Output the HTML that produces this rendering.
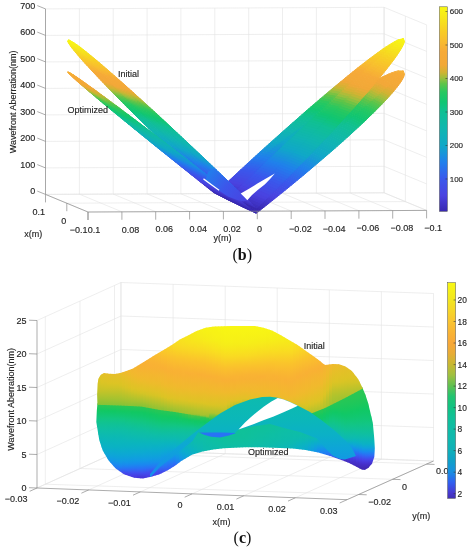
<!DOCTYPE html>
<html><head><meta charset="utf-8"><style>
html,body{margin:0;padding:0;background:#fff;}
svg{display:block;}
.g{stroke:#e3e3e3;stroke-width:0.6;}
.a{stroke:#8a8a8a;stroke-width:0.7;}
.cb{stroke:#333;stroke-width:0.6;}
.t{font-family:"Liberation Sans",Arial,sans-serif;fill:#262626;stroke:#262626;stroke-width:0.15;}
.lbl{font-family:"Liberation Serif","Times New Roman",serif;fill:#111;}
</style></head><body>
<svg width="470" height="550" viewBox="0 0 470 550">
<rect width="470" height="550" fill="#fff"/>
<line class="g" x1="45.5" y1="194.4" x2="384.1" y2="192.8"/>
<line class="g" x1="384.1" y1="192.8" x2="426.6" y2="210.4"/>
<line class="g" x1="45.5" y1="167.9" x2="384.1" y2="166.3"/>
<line class="g" x1="384.1" y1="166.3" x2="426.6" y2="183.9"/>
<line class="g" x1="45.5" y1="141.4" x2="384.1" y2="139.8"/>
<line class="g" x1="384.1" y1="139.8" x2="426.6" y2="157.4"/>
<line class="g" x1="45.5" y1="114.9" x2="384.1" y2="113.3"/>
<line class="g" x1="384.1" y1="113.3" x2="426.6" y2="130.9"/>
<line class="g" x1="45.5" y1="88.4" x2="384.1" y2="86.8"/>
<line class="g" x1="384.1" y1="86.8" x2="426.6" y2="104.4"/>
<line class="g" x1="45.5" y1="61.9" x2="384.1" y2="60.3"/>
<line class="g" x1="384.1" y1="60.3" x2="426.6" y2="77.9"/>
<line class="g" x1="45.5" y1="35.4" x2="384.1" y2="33.8"/>
<line class="g" x1="384.1" y1="33.8" x2="426.6" y2="51.4"/>
<line class="g" x1="45.5" y1="8.9" x2="384.1" y2="7.3"/>
<line class="g" x1="384.1" y1="7.3" x2="426.6" y2="24.9"/>
<line class="g" x1="45.5" y1="194.4" x2="45.5" y2="8.9"/>
<line class="g" x1="45.5" y1="194.4" x2="88" y2="212"/>
<line class="g" x1="79.4" y1="194.2" x2="79.4" y2="8.7"/>
<line class="g" x1="79.4" y1="194.2" x2="121.9" y2="211.8"/>
<line class="g" x1="113.2" y1="194.1" x2="113.2" y2="8.6"/>
<line class="g" x1="113.2" y1="194.1" x2="155.7" y2="211.7"/>
<line class="g" x1="147.1" y1="193.9" x2="147.1" y2="8.4"/>
<line class="g" x1="147.1" y1="193.9" x2="189.6" y2="211.5"/>
<line class="g" x1="180.9" y1="193.8" x2="180.9" y2="8.3"/>
<line class="g" x1="180.9" y1="193.8" x2="223.4" y2="211.4"/>
<line class="g" x1="214.8" y1="193.6" x2="214.8" y2="8.1"/>
<line class="g" x1="214.8" y1="193.6" x2="257.3" y2="211.2"/>
<line class="g" x1="248.7" y1="193.4" x2="248.7" y2="7.9"/>
<line class="g" x1="248.7" y1="193.4" x2="291.2" y2="211"/>
<line class="g" x1="282.5" y1="193.3" x2="282.5" y2="7.8"/>
<line class="g" x1="282.5" y1="193.3" x2="325" y2="210.9"/>
<line class="g" x1="316.4" y1="193.1" x2="316.4" y2="7.6"/>
<line class="g" x1="316.4" y1="193.1" x2="358.9" y2="210.7"/>
<line class="g" x1="350.2" y1="193" x2="350.2" y2="7.5"/>
<line class="g" x1="350.2" y1="193" x2="392.7" y2="210.6"/>
<line class="g" x1="384.1" y1="192.8" x2="384.1" y2="7.3"/>
<line class="g" x1="384.1" y1="192.8" x2="426.6" y2="210.4"/>
<line class="g" x1="384.1" y1="192.8" x2="384.1" y2="7.3"/>
<line class="g" x1="45.5" y1="194.4" x2="384.1" y2="192.8"/>
<line class="g" x1="405.4" y1="201.6" x2="405.4" y2="16.1"/>
<line class="g" x1="66.8" y1="203.2" x2="405.4" y2="201.6"/>
<line class="g" x1="426.6" y1="210.4" x2="426.6" y2="24.9"/>
<line class="g" x1="88" y1="212" x2="426.6" y2="210.4"/>
<g stroke-width="1.0" stroke-linejoin="round"><path d="M228.2 199.9L214.2 192.8L216.3 191.2L230.3 198.3Z" fill="#3829b1" stroke="#3829b1"/><path d="M230.3 198.3L216.3 191.2L218.4 189.5L232.4 196.6Z" fill="#3b2cb7" stroke="#3b2cb7"/><path d="M232.4 196.6L218.4 189.5L220.5 187.9L234.5 195.0Z" fill="#3d2fbe" stroke="#3d2fbe"/><path d="M234.5 195.0L220.5 187.9L222.6 186.2L236.6 193.3Z" fill="#4033c4" stroke="#4033c4"/><path d="M229.3 196.5L215.4 192.0L217.4 191.5L231.4 194.9Z" fill="#3b2cb8" stroke="#3b2cb8"/><path d="M231.4 194.9L217.4 191.5L219.5 189.5L233.5 192.9Z" fill="#3d2fbe" stroke="#3d2fbe"/><path d="M236.6 193.3L222.6 186.2L224.8 184.5L238.7 191.7Z" fill="#4236ca" stroke="#4236ca"/><path d="M228.2 199.9L214.2 192.8L212.1 191.3L226.1 198.3Z" fill="#3828b1" stroke="#3828b1"/><path d="M233.5 192.9L219.5 189.5L221.6 187.5L235.6 190.9Z" fill="#4034c5" stroke="#4034c5"/><path d="M238.7 191.7L224.8 184.5L226.9 182.9L240.8 190.0Z" fill="#443ad1" stroke="#443ad1"/><path d="M235.6 190.9L221.6 187.5L223.7 185.6L237.7 189.0Z" fill="#4338cd" stroke="#4338cd"/><path d="M240.8 190.0L226.9 182.9L229.0 181.2L242.9 188.4Z" fill="#473dd7" stroke="#473dd7"/><path d="M229.3 196.5L215.4 192.0L213.3 190.1L227.3 194.5Z" fill="#3c2dba" stroke="#3c2dba"/><path d="M237.7 189.0L223.7 185.6L225.8 183.6L239.8 187.0Z" fill="#463cd5" stroke="#463cd5"/><path d="M242.9 188.4L229.0 181.2L231.1 179.6L245.1 186.7Z" fill="#4941dd" stroke="#4941dd"/><path d="M245.1 186.7L231.1 179.6L233.3 177.9L247.2 185.1Z" fill="#4944e1" stroke="#4944e1"/><path d="M239.8 187.0L225.8 183.6L227.9 181.6L241.9 185.0Z" fill="#4940dc" stroke="#4940dc"/><path d="M226.1 198.3L212.1 191.3L210.1 189.6L224.1 196.7Z" fill="#3b2cb7" stroke="#3b2cb7"/><path d="M247.2 185.1L233.3 177.9L235.4 176.3L249.3 183.4Z" fill="#4746e2" stroke="#4746e2"/><path d="M241.9 185.0L227.9 181.6L230.0 179.7L244.0 183.0Z" fill="#4944e1" stroke="#4944e1"/><path d="M227.3 194.5L213.3 190.1L211.2 188.1L225.2 192.5Z" fill="#3f31c1" stroke="#3f31c1"/><path d="M249.3 183.4L235.4 176.3L237.5 174.7L251.4 181.8Z" fill="#4549e4" stroke="#4549e4"/><path d="M244.0 183.0L230.0 179.7L232.2 177.7L246.1 181.0Z" fill="#4647e3" stroke="#4647e3"/><path d="M251.4 181.8L237.5 174.7L239.7 173.0L253.5 180.1Z" fill="#434ce5" stroke="#434ce5"/><path d="M246.1 181.0L232.2 177.7L234.3 175.7L248.2 179.0Z" fill="#444ae4" stroke="#444ae4"/><path d="M224.1 196.7L210.1 189.6L208.0 188.0L222.0 195.0Z" fill="#3d2fbe" stroke="#3d2fbe"/><path d="M253.5 180.1L239.7 173.0L241.8 171.4L255.6 178.5Z" fill="#414fe7" stroke="#414fe7"/><path d="M248.2 179.0L234.3 175.7L236.4 173.8L250.3 177.0Z" fill="#424ee6" stroke="#424ee6"/><path d="M225.2 192.5L211.2 188.1L209.1 186.2L223.1 190.5Z" fill="#4136c9" stroke="#4136c9"/><path d="M255.6 178.5L241.8 171.4L243.9 169.7L257.7 176.8Z" fill="#3f51e8" stroke="#3f51e8"/><path d="M250.3 177.0L236.4 173.8L238.5 171.8L252.4 175.0Z" fill="#3f51e8" stroke="#3f51e8"/><path d="M222.0 195.0L208.0 188.0L205.9 186.3L219.9 193.4Z" fill="#3f33c4" stroke="#3f33c4"/><path d="M257.7 176.8L243.9 169.7L246.1 168.1L259.9 175.2Z" fill="#3d54ea" stroke="#3d54ea"/><path d="M252.4 175.0L238.5 171.8L240.6 169.8L254.5 173.0Z" fill="#3d54ea" stroke="#3d54ea"/><path d="M259.9 175.2L246.1 168.1L248.2 166.5L262.0 173.5Z" fill="#3b57eb" stroke="#3b57eb"/><path d="M223.1 190.5L209.1 186.2L207.0 184.2L221.0 188.5Z" fill="#443ad1" stroke="#443ad1"/><path d="M254.5 173.0L240.6 169.8L242.8 167.9L256.6 171.0Z" fill="#3a57ec" stroke="#3a57ec"/><path d="M219.9 193.4L205.9 186.3L203.9 184.7L217.8 191.8Z" fill="#4236ca" stroke="#4236ca"/><path d="M262.0 173.5L248.2 166.5L250.4 164.8L264.1 171.9Z" fill="#385bec" stroke="#385bec"/><path d="M256.6 171.0L242.8 167.9L244.9 165.9L258.7 169.0Z" fill="#375dec" stroke="#375dec"/><path d="M264.1 171.9L250.4 164.8L252.6 163.2L266.2 170.2Z" fill="#3560ec" stroke="#3560ec"/><path d="M221.0 188.5L207.0 184.2L204.9 182.3L218.9 186.6Z" fill="#473ed8" stroke="#473ed8"/><path d="M258.7 169.0L244.9 165.9L247.0 163.9L260.8 167.0Z" fill="#3363ec" stroke="#3363ec"/><path d="M217.8 191.8L203.9 184.7L201.8 183.0L215.8 190.1Z" fill="#443ad1" stroke="#443ad1"/><path d="M266.2 170.2L252.6 163.2L254.7 161.6L268.3 168.6Z" fill="#3265ec" stroke="#3265ec"/><path d="M260.8 167.0L247.0 163.9L249.2 162.0L262.9 165.0Z" fill="#2f69ec" stroke="#2f69ec"/><path d="M268.3 168.6L254.7 161.6L256.9 159.9L270.5 166.9Z" fill="#2f6aec" stroke="#2f6aec"/><path d="M218.9 186.6L204.9 182.3L202.8 180.3L216.8 184.6Z" fill="#4a42e0" stroke="#4a42e0"/><path d="M262.9 165.0L249.2 162.0L251.3 160.0L265.0 163.1Z" fill="#2b6fec" stroke="#2b6fec"/><path d="M215.8 190.1L201.8 183.0L199.7 181.4L213.7 188.5Z" fill="#473dd7" stroke="#473dd7"/><path d="M270.5 166.9L256.9 159.9L259.1 158.3L272.6 165.3Z" fill="#2b6fec" stroke="#2b6fec"/><path d="M265.0 163.1L251.3 160.0L253.5 158.0L267.1 161.1Z" fill="#2775ec" stroke="#2775ec"/><path d="M272.6 165.3L259.1 158.3L261.2 156.7L274.7 163.6Z" fill="#2874ec" stroke="#2874ec"/><path d="M216.8 184.6L202.8 180.3L200.8 178.4L214.7 182.6Z" fill="#4845e2" stroke="#4845e2"/><path d="M213.7 188.5L199.7 181.4L197.7 179.8L211.6 186.8Z" fill="#4941dd" stroke="#4941dd"/><path d="M267.1 161.1L253.5 158.0L255.6 156.1L269.2 159.1Z" fill="#237bec" stroke="#237bec"/><path d="M274.7 163.6L261.2 156.7L263.4 155.1L276.8 162.0Z" fill="#2579ec" stroke="#2579ec"/><path d="M269.2 159.1L255.6 156.1L257.8 154.1L271.3 157.1Z" fill="#2081eb" stroke="#2081eb"/><path d="M214.7 182.6L200.8 178.4L198.7 176.4L212.6 180.6Z" fill="#4549e4" stroke="#4549e4"/><path d="M211.6 186.8L197.7 179.8L195.6 178.1L209.5 185.2Z" fill="#4944e1" stroke="#4944e1"/><path d="M276.8 162.0L263.4 155.1L265.6 153.5L279.0 160.3Z" fill="#227dec" stroke="#227dec"/><path d="M271.3 157.1L257.8 154.1L259.9 152.1L273.4 155.1Z" fill="#1d87e6" stroke="#1d87e6"/><path d="M279.0 160.3L265.6 153.5L267.8 151.8L281.1 158.7Z" fill="#1f82ea" stroke="#1f82ea"/><path d="M212.6 180.6L198.7 176.4L196.6 174.5L210.5 178.7Z" fill="#434ce5" stroke="#434ce5"/><path d="M273.4 155.1L259.9 152.1L262.1 150.2L275.5 153.1Z" fill="#1b8de1" stroke="#1b8de1"/><path d="M209.5 185.2L195.6 178.1L193.6 176.5L207.5 183.6Z" fill="#4746e2" stroke="#4746e2"/><path d="M281.1 158.7L267.8 151.8L270.0 150.2L283.2 157.1Z" fill="#1d87e5" stroke="#1d87e5"/><path d="M275.5 153.1L262.1 150.2L264.2 148.2L277.7 151.1Z" fill="#1893db" stroke="#1893db"/><path d="M210.5 178.7L196.6 174.5L194.6 172.5L208.5 176.7Z" fill="#404fe7" stroke="#404fe7"/><path d="M207.5 183.6L193.6 176.5L191.5 174.9L205.4 181.9Z" fill="#4549e4" stroke="#4549e4"/><path d="M283.2 157.1L270.0 150.2L272.2 148.6L285.4 155.4Z" fill="#1b8ce1" stroke="#1b8ce1"/><path d="M277.7 151.1L264.2 148.2L266.4 146.3L279.8 149.1Z" fill="#1699d6" stroke="#1699d6"/><path d="M285.4 155.4L272.2 148.6L274.4 147.0L287.5 153.8Z" fill="#1991dc" stroke="#1991dc"/><path d="M279.8 149.1L266.4 146.3L268.6 144.3L281.9 147.1Z" fill="#149fd0" stroke="#149fd0"/><path d="M205.4 181.9L191.5 174.9L189.5 173.3L203.3 180.3Z" fill="#434ce5" stroke="#434ce5"/><path d="M208.5 176.7L194.6 172.5L192.5 170.6L206.4 174.7Z" fill="#3e52e9" stroke="#3e52e9"/><path d="M287.5 153.8L274.4 147.0L276.6 145.4L289.6 152.1Z" fill="#1796d8" stroke="#1796d8"/><path d="M281.9 147.1L268.6 144.3L270.8 142.3L284.0 145.1Z" fill="#11a5cb" stroke="#11a5cb"/><path d="M203.3 180.3L189.5 173.3L187.5 171.6L201.3 178.7Z" fill="#414fe7" stroke="#414fe7"/><path d="M206.4 174.7L192.5 170.6L190.4 168.6L204.3 172.7Z" fill="#3c56eb" stroke="#3c56eb"/><path d="M289.6 152.1L276.6 145.4L278.8 143.8L291.8 150.5Z" fill="#159bd3" stroke="#159bd3"/><path d="M284.0 145.1L270.8 142.3L272.9 140.4L286.1 143.2Z" fill="#10a9c6" stroke="#10a9c6"/><path d="M291.8 150.5L278.8 143.8L281.0 142.2L293.9 148.9Z" fill="#13a0cf" stroke="#13a0cf"/><path d="M201.3 178.7L187.5 171.6L185.4 170.0L199.2 177.0Z" fill="#3f51e8" stroke="#3f51e8"/><path d="M204.3 172.7L190.4 168.6L188.4 166.7L202.2 170.8Z" fill="#395aec" stroke="#395aec"/><path d="M286.1 143.2L272.9 140.4L275.1 138.4L288.2 141.2Z" fill="#10abc3" stroke="#10abc3"/><path d="M293.9 148.9L281.0 142.2L283.2 140.6L296.0 147.2Z" fill="#11a5cb" stroke="#11a5cb"/><path d="M288.2 141.2L275.1 138.4L277.3 136.5L290.4 139.2Z" fill="#10adbf" stroke="#10adbf"/><path d="M199.2 177.0L185.4 170.0L183.4 168.4L197.1 175.4Z" fill="#3d54ea" stroke="#3d54ea"/><path d="M202.2 170.8L188.4 166.7L186.3 164.7L200.1 168.8Z" fill="#3560ec" stroke="#3560ec"/><path d="M296.0 147.2L283.2 140.6L285.4 139.0L298.2 145.6Z" fill="#10a9c7" stroke="#10a9c7"/><path d="M290.4 139.2L277.3 136.5L279.5 134.5L292.5 137.2Z" fill="#10afbc" stroke="#10afbc"/><path d="M197.1 175.4L183.4 168.4L181.4 166.8L195.1 173.7Z" fill="#3b57eb" stroke="#3b57eb"/><path d="M200.1 168.8L186.3 164.7L184.3 162.8L198.1 166.8Z" fill="#3166ec" stroke="#3166ec"/><path d="M298.2 145.6L285.4 139.0L287.6 137.4L300.3 143.9Z" fill="#10aac4" stroke="#10aac4"/><path d="M292.5 137.2L279.5 134.5L281.7 132.5L294.6 135.2Z" fill="#10b1b8" stroke="#10b1b8"/><path d="M195.1 173.7L181.4 166.8L179.3 165.1L193.0 172.1Z" fill="#385bec" stroke="#385bec"/><path d="M300.3 143.9L287.6 137.4L289.8 135.8L302.5 142.3Z" fill="#10acc1" stroke="#10acc1"/><path d="M198.1 166.8L184.3 162.8L182.3 160.8L196.0 164.8Z" fill="#2d6cec" stroke="#2d6cec"/><path d="M294.6 135.2L281.7 132.5L283.9 130.6L296.7 133.2Z" fill="#10b3b4" stroke="#10b3b4"/><path d="M302.5 142.3L289.8 135.8L292.1 134.2L304.6 140.7Z" fill="#10aebe" stroke="#10aebe"/><path d="M193.0 172.1L179.3 165.1L177.3 163.5L191.0 170.5Z" fill="#3560ec" stroke="#3560ec"/><path d="M296.7 133.2L283.9 130.6L286.1 128.6L298.9 131.2Z" fill="#10b6b1" stroke="#10b6b1"/><path d="M196.0 164.8L182.3 160.8L180.2 158.9L193.9 162.9Z" fill="#2972ec" stroke="#2972ec"/><path d="M304.6 140.7L292.1 134.2L294.3 132.6L306.7 139.0Z" fill="#10b0bb" stroke="#10b0bb"/><path d="M298.9 131.2L286.1 128.6L288.3 126.7L301.0 129.2Z" fill="#10b7ad" stroke="#10b7ad"/><path d="M191.0 170.5L177.3 163.5L175.3 161.9L188.9 168.8Z" fill="#3265ec" stroke="#3265ec"/><path d="M193.9 162.9L180.2 158.9L178.2 156.9L191.8 160.9Z" fill="#2578ec" stroke="#2578ec"/><path d="M306.7 139.0L294.3 132.6L296.6 131.0L308.9 137.4Z" fill="#10b1b8" stroke="#10b1b8"/><path d="M301.0 129.2L288.3 126.7L290.5 124.7L303.1 127.3Z" fill="#10b9a8" stroke="#10b9a8"/><path d="M188.9 168.8L175.3 161.9L173.3 160.3L186.8 167.2Z" fill="#2e6aec" stroke="#2e6aec"/><path d="M191.8 160.9L178.2 156.9L176.1 155.0L189.7 158.9Z" fill="#217eec" stroke="#217eec"/><path d="M308.9 137.4L296.6 131.0L298.8 129.4L311.0 135.8Z" fill="#10b3b5" stroke="#10b3b5"/><path d="M303.1 127.3L290.5 124.7L292.7 122.8L305.2 125.3Z" fill="#10baa4" stroke="#10baa4"/><path d="M186.8 167.2L173.3 160.3L171.3 158.7L184.8 165.6Z" fill="#2b6fec" stroke="#2b6fec"/><path d="M311.0 135.8L298.8 129.4L301.1 127.8L313.2 134.1Z" fill="#10b5b2" stroke="#10b5b2"/><path d="M189.7 158.9L176.1 155.0L174.1 153.1L187.7 156.9Z" fill="#1f84e9" stroke="#1f84e9"/><path d="M305.2 125.3L292.7 122.8L295.0 120.8L307.4 123.3Z" fill="#10bca0" stroke="#10bca0"/><path d="M184.8 165.6L171.3 158.7L169.3 157.1L182.7 163.9Z" fill="#2874ec" stroke="#2874ec"/><path d="M313.2 134.1L301.1 127.8L303.3 126.3L315.3 132.5Z" fill="#10b6af" stroke="#10b6af"/><path d="M307.4 123.3L295.0 120.8L297.2 118.9L309.5 121.3Z" fill="#10bd9c" stroke="#10bd9c"/><path d="M187.7 156.9L174.1 153.1L172.1 151.1L185.6 155.0Z" fill="#1c8ae3" stroke="#1c8ae3"/><path d="M182.7 163.9L169.3 157.1L167.3 155.5L180.7 162.3Z" fill="#2579ec" stroke="#2579ec"/><path d="M315.3 132.5L303.3 126.3L305.6 124.7L317.5 130.9Z" fill="#10b8ab" stroke="#10b8ab"/><path d="M309.5 121.3L297.2 118.9L299.4 116.9L311.6 119.3Z" fill="#10bf97" stroke="#10bf97"/><path d="M185.6 155.0L172.1 151.1L170.1 149.2L183.5 153.0Z" fill="#1a90de" stroke="#1a90de"/><path d="M317.5 130.9L305.6 124.7L307.8 123.1L319.7 129.2Z" fill="#10b9a8" stroke="#10b9a8"/><path d="M180.7 162.3L167.3 155.5L165.3 153.9L178.6 160.7Z" fill="#217eec" stroke="#217eec"/><path d="M311.6 119.3L299.4 116.9L301.7 114.9L313.8 117.3Z" fill="#10c092" stroke="#10c092"/><path d="M183.5 153.0L170.1 149.2L168.1 147.2L181.5 151.0Z" fill="#1796d8" stroke="#1796d8"/><path d="M319.7 129.2L307.8 123.1L310.1 121.5L321.8 127.6Z" fill="#10baa4" stroke="#10baa4"/><path d="M313.8 117.3L301.7 114.9L303.9 113.0L315.9 115.3Z" fill="#10c28a" stroke="#10c28a"/><path d="M178.6 160.7L165.3 153.9L163.3 152.3L176.6 159.1Z" fill="#1f83ea" stroke="#1f83ea"/><path d="M181.5 151.0L168.1 147.2L166.0 145.3L179.4 149.1Z" fill="#159cd3" stroke="#159cd3"/><path d="M321.8 127.6L310.1 121.5L312.4 120.0L324.0 126.0Z" fill="#10bba1" stroke="#10bba1"/><path d="M315.9 115.3L303.9 113.0L306.1 111.0L318.1 113.4Z" fill="#10c381" stroke="#10c381"/><path d="M176.6 159.1L163.3 152.3L161.3 150.7L174.5 157.4Z" fill="#1d88e5" stroke="#1d88e5"/><path d="M179.4 149.1L166.0 145.3L164.0 143.4L177.3 147.1Z" fill="#13a2ce" stroke="#13a2ce"/><path d="M324.0 126.0L312.4 120.0L314.7 118.4L326.1 124.4Z" fill="#10bd9e" stroke="#10bd9e"/><path d="M318.1 113.4L306.1 111.0L308.4 109.1L320.2 111.4Z" fill="#10c579" stroke="#10c579"/><path d="M174.5 157.4L161.3 150.7L159.3 149.1L172.5 155.8Z" fill="#1b8de1" stroke="#1b8de1"/><path d="M177.3 147.1L164.0 143.4L162.0 141.4L175.3 145.1Z" fill="#10a8c8" stroke="#10a8c8"/><path d="M326.1 124.4L314.7 118.4L317.0 116.9L328.3 122.7Z" fill="#10be9a" stroke="#10be9a"/><path d="M320.2 111.4L308.4 109.1L310.7 107.1L322.3 109.4Z" fill="#11c671" stroke="#11c671"/><path d="M172.5 155.8L159.3 149.1L157.3 147.5L170.4 154.2Z" fill="#1992dc" stroke="#1992dc"/><path d="M175.3 145.1L162.0 141.4L160.0 139.5L173.2 143.1Z" fill="#10aac5" stroke="#10aac5"/><path d="M328.3 122.7L317.0 116.9L319.2 115.3L330.5 121.1Z" fill="#10bf97" stroke="#10bf97"/><path d="M322.3 109.4L310.7 107.1L312.9 105.2L324.5 107.4Z" fill="#17c76d" stroke="#17c76d"/><path d="M170.4 154.2L157.3 147.5L155.3 145.9L168.4 152.5Z" fill="#1797d8" stroke="#1797d8"/><path d="M173.2 143.1L160.0 139.5L158.0 137.5L171.1 141.2Z" fill="#10acc1" stroke="#10acc1"/><path d="M330.5 121.1L319.2 115.3L321.5 113.7L332.6 119.5Z" fill="#10c092" stroke="#10c092"/><path d="M324.5 107.4L312.9 105.2L315.2 103.2L326.6 105.4Z" fill="#1dc768" stroke="#1dc768"/><path d="M168.4 152.5L155.3 145.9L153.4 144.3L166.3 150.9Z" fill="#159cd3" stroke="#159cd3"/><path d="M171.1 141.2L158.0 137.5L156.0 135.6L169.1 139.2Z" fill="#10aebd" stroke="#10aebd"/><path d="M326.6 105.4L315.2 103.2L317.5 101.3L328.8 103.4Z" fill="#23c863" stroke="#23c863"/><path d="M332.6 119.5L321.5 113.7L323.9 112.2L334.8 117.9Z" fill="#10c28b" stroke="#10c28b"/><path d="M166.3 150.9L153.4 144.3L151.4 142.7L164.3 149.3Z" fill="#13a1cf" stroke="#13a1cf"/><path d="M328.8 103.4L317.5 101.3L319.7 99.3L330.9 101.5Z" fill="#2cc85e" stroke="#2cc85e"/><path d="M169.1 139.2L156.0 135.6L154.0 133.7L167.0 137.2Z" fill="#10b0ba" stroke="#10b0ba"/><path d="M334.8 117.9L323.9 112.2L326.2 110.6L337.0 116.3Z" fill="#10c384" stroke="#10c384"/><path d="M164.3 149.3L151.4 142.7L149.4 141.1L162.2 147.7Z" fill="#11a6ca" stroke="#11a6ca"/><path d="M330.9 101.5L319.7 99.3L322.0 97.4L333.1 99.5Z" fill="#3dc657" stroke="#3dc657"/><path d="M167.0 137.2L154.0 133.7L152.1 131.7L165.0 135.3Z" fill="#10b2b6" stroke="#10b2b6"/><path d="M337.0 116.3L326.2 110.6L328.5 109.1L339.2 114.6Z" fill="#10c47d" stroke="#10c47d"/><path d="M162.2 147.7L149.4 141.1L147.5 139.5L160.2 146.0Z" fill="#10a9c6" stroke="#10a9c6"/><path d="M333.1 99.5L322.0 97.4L324.3 95.4L335.2 97.5Z" fill="#4ec550" stroke="#4ec550"/><path d="M165.0 135.3L152.1 131.7L150.1 129.8L162.9 133.3Z" fill="#10b5b3" stroke="#10b5b3"/><path d="M339.2 114.6L328.5 109.1L330.8 107.6L341.3 113.0Z" fill="#10c576" stroke="#10c576"/><path d="M160.2 146.0L147.5 139.5L145.5 137.9L158.2 144.4Z" fill="#10abc3" stroke="#10abc3"/><path d="M335.2 97.5L324.3 95.4L326.6 93.5L337.4 95.5Z" fill="#5fc448" stroke="#5fc448"/><path d="M162.9 133.3L150.1 129.8L148.1 127.9L160.8 131.3Z" fill="#10b6af" stroke="#10b6af"/><path d="M341.3 113.0L330.8 107.6L333.2 106.0L343.5 111.4Z" fill="#12c671" stroke="#12c671"/><path d="M158.2 144.4L145.5 137.9L143.5 136.3L156.1 142.8Z" fill="#10acc0" stroke="#10acc0"/><path d="M337.4 95.5L326.6 93.5L328.9 91.5L339.6 93.5Z" fill="#7bc243" stroke="#7bc243"/><path d="M160.8 131.3L148.1 127.9L146.1 125.9L158.8 129.4Z" fill="#10b8ab" stroke="#10b8ab"/><path d="M343.5 111.4L333.2 106.0L335.5 104.5L345.7 109.8Z" fill="#17c76d" stroke="#17c76d"/><path d="M156.1 142.8L143.5 136.3L141.6 134.8L154.1 141.2Z" fill="#10aebd" stroke="#10aebd"/><path d="M339.6 93.5L328.9 91.5L331.2 89.6L341.7 91.5Z" fill="#97c03e" stroke="#97c03e"/><path d="M158.8 129.4L146.1 125.9L144.1 124.0L156.7 127.4Z" fill="#10b9a6" stroke="#10b9a6"/><path d="M345.7 109.8L335.5 104.5L337.9 103.0L347.9 108.2Z" fill="#1cc769" stroke="#1cc769"/><path d="M154.1 141.2L141.6 134.8L139.7 133.2L152.0 139.6Z" fill="#10b0bb" stroke="#10b0bb"/><path d="M341.7 91.5L331.2 89.6L333.6 87.6L343.9 89.6Z" fill="#afbb39" stroke="#afbb39"/><path d="M156.7 127.4L144.1 124.0L142.2 122.1L154.7 125.4Z" fill="#10bba2" stroke="#10bba2"/><path d="M347.9 108.2L337.9 103.0L340.2 101.4L350.1 106.6Z" fill="#21c766" stroke="#21c766"/><path d="M152.0 139.6L139.7 133.2L137.7 131.6L150.0 137.9Z" fill="#10b2b8" stroke="#10b2b8"/><path d="M154.7 125.4L142.2 122.1L140.2 120.1L152.6 123.5Z" fill="#10bc9e" stroke="#10bc9e"/><path d="M343.9 89.6L333.6 87.6L335.9 85.7L346.1 87.6Z" fill="#c7b634" stroke="#c7b634"/><path d="M150.0 137.9L137.7 131.6L135.8 130.0L148.0 136.3Z" fill="#10b3b5" stroke="#10b3b5"/><path d="M350.1 106.6L340.2 101.4L342.6 99.9L352.3 105.0Z" fill="#26c862" stroke="#26c862"/><path d="M152.6 123.5L140.2 120.1L138.3 118.2L150.6 121.5Z" fill="#10be9a" stroke="#10be9a"/><path d="M346.1 87.6L335.9 85.7L338.2 83.8L348.2 85.6Z" fill="#d7b133" stroke="#d7b133"/><path d="M148.0 136.3L135.8 130.0L133.8 128.5L145.9 134.7Z" fill="#10b5b2" stroke="#10b5b2"/><path d="M352.3 105.0L342.6 99.9L345.0 98.4L354.5 103.3Z" fill="#2fc85d" stroke="#2fc85d"/><path d="M150.6 121.5L138.3 118.2L136.3 116.3L148.5 119.5Z" fill="#10bf95" stroke="#10bf95"/><path d="M348.2 85.6L338.2 83.8L340.6 81.8L350.4 83.6Z" fill="#e3ad35" stroke="#e3ad35"/><path d="M145.9 134.7L133.8 128.5L131.9 126.9L143.9 133.1Z" fill="#10b7ae" stroke="#10b7ae"/><path d="M354.5 103.3L345.0 98.4L347.4 96.9L356.7 101.7Z" fill="#3dc757" stroke="#3dc757"/><path d="M148.5 119.5L136.3 116.3L134.4 114.4L146.5 117.6Z" fill="#10c18e" stroke="#10c18e"/><path d="M350.4 83.6L340.6 81.8L343.0 79.9L352.6 81.7Z" fill="#efa937" stroke="#efa937"/><path d="M143.9 133.1L131.9 126.9L130.0 125.3L141.9 131.5Z" fill="#10b8ab" stroke="#10b8ab"/><path d="M356.7 101.7L347.4 96.9L349.8 95.4L358.9 100.1Z" fill="#4ac651" stroke="#4ac651"/><path d="M146.5 117.6L134.4 114.4L132.4 112.4L144.5 115.6Z" fill="#10c286" stroke="#10c286"/><path d="M141.9 131.5L130.0 125.3L128.1 123.8L139.9 129.8Z" fill="#10b9a7" stroke="#10b9a7"/><path d="M352.6 81.7L343.0 79.9L345.3 77.9L354.8 79.7Z" fill="#f3a838" stroke="#f3a838"/><path d="M358.9 100.1L349.8 95.4L352.2 93.9L361.1 98.5Z" fill="#58c54b" stroke="#58c54b"/><path d="M144.5 115.6L132.4 112.4L130.5 110.5L142.4 113.6Z" fill="#10c47d" stroke="#10c47d"/><path d="M139.9 129.8L128.1 123.8L126.2 122.2L137.8 128.2Z" fill="#10baa4" stroke="#10baa4"/><path d="M354.8 79.7L345.3 77.9L347.7 76.0L356.9 77.7Z" fill="#f3a938" stroke="#f3a938"/><path d="M142.4 113.6L130.5 110.5L128.6 108.6L140.4 111.7Z" fill="#10c675" stroke="#10c675"/><path d="M361.1 98.5L352.2 93.9L354.6 92.4L363.3 96.9Z" fill="#6ac346" stroke="#6ac346"/><path d="M137.8 128.2L126.2 122.2L124.3 120.7L135.8 126.6Z" fill="#10bca0" stroke="#10bca0"/><path d="M356.9 77.7L347.7 76.0L350.1 74.1L359.1 75.7Z" fill="#f4a938" stroke="#f4a938"/><path d="M140.4 111.7L128.6 108.6L126.6 106.7L138.3 109.7Z" fill="#14c66f" stroke="#14c66f"/><path d="M135.8 126.6L124.3 120.7L122.4 119.1L133.8 125.0Z" fill="#10bd9d" stroke="#10bd9d"/><path d="M363.3 96.9L354.6 92.4L357.1 91.0L365.5 95.3Z" fill="#80c242" stroke="#80c242"/><path d="M359.1 75.7L350.1 74.1L352.5 72.1L361.3 73.7Z" fill="#f5a938" stroke="#f5a938"/><path d="M138.3 109.7L126.6 106.7L124.7 104.7L136.3 107.7Z" fill="#1ac76a" stroke="#1ac76a"/><path d="M133.8 125.0L122.4 119.1L120.5 117.6L131.8 123.4Z" fill="#10be9a" stroke="#10be9a"/><path d="M365.5 95.3L357.1 91.0L359.5 89.5L367.7 93.7Z" fill="#97c03e" stroke="#97c03e"/><path d="M361.3 73.7L352.5 72.1L354.9 70.2L363.5 71.8Z" fill="#f6aa38" stroke="#f6aa38"/><path d="M136.3 107.7L124.7 104.7L122.8 102.8L134.3 105.8Z" fill="#20c766" stroke="#20c766"/><path d="M131.8 123.4L120.5 117.6L118.6 116.0L129.8 121.8Z" fill="#10bf96" stroke="#10bf96"/><path d="M367.7 93.7L359.5 89.5L362.0 88.0L369.9 92.1Z" fill="#aabc3a" stroke="#aabc3a"/><path d="M134.3 105.8L122.8 102.8L120.9 100.9L132.2 103.8Z" fill="#26c861" stroke="#26c861"/><path d="M363.5 71.8L354.9 70.2L357.3 68.2L365.7 69.8Z" fill="#f6ac37" stroke="#f6ac37"/><path d="M129.8 121.8L118.6 116.0L116.7 114.5L127.8 120.2Z" fill="#10c191" stroke="#10c191"/><path d="M369.9 92.1L362.0 88.0L364.5 86.6L372.2 90.6Z" fill="#bdb836" stroke="#bdb836"/><path d="M132.2 103.8L120.9 100.9L119.0 99.0L130.2 101.9Z" fill="#34c75b" stroke="#34c75b"/><path d="M127.8 120.2L116.7 114.5L114.8 112.9L125.7 118.6Z" fill="#10c28a" stroke="#10c28a"/><path d="M365.7 69.8L357.3 68.2L359.8 66.3L367.9 67.8Z" fill="#f7b135" stroke="#f7b135"/><path d="M130.2 101.9L119.0 99.0L117.1 97.1L128.2 99.9Z" fill="#45c654" stroke="#45c654"/><path d="M125.7 118.6L114.8 112.9L113.0 111.4L123.7 117.0Z" fill="#10c383" stroke="#10c383"/><path d="M372.2 90.6L364.5 86.6L367.0 85.1L374.4 89.0Z" fill="#d0b432" stroke="#d0b432"/><path d="M367.9 67.8L359.8 66.3L362.2 64.4L370.1 65.8Z" fill="#f7b633" stroke="#f7b633"/><path d="M128.2 99.9L117.1 97.1L115.2 95.1L126.2 97.9Z" fill="#56c54c" stroke="#56c54c"/><path d="M123.7 117.0L113.0 111.4L111.1 109.9L121.7 115.3Z" fill="#10c47c" stroke="#10c47c"/><path d="M374.4 89.0L367.0 85.1L369.6 83.7L376.7 87.4Z" fill="#dab134" stroke="#dab134"/><path d="M370.1 65.8L362.2 64.4L364.7 62.5L372.4 63.9Z" fill="#f8ba31" stroke="#f8ba31"/><path d="M126.2 97.9L115.2 95.1L113.3 93.2L124.1 96.0Z" fill="#6bc346" stroke="#6bc346"/><path d="M121.7 115.3L111.1 109.9L109.3 108.3L119.7 113.7Z" fill="#10c575" stroke="#10c575"/><path d="M372.4 63.9L364.7 62.5L367.2 60.5L374.6 61.9Z" fill="#f8bf2e" stroke="#f8bf2e"/><path d="M376.7 87.4L369.6 83.7L372.1 82.3L378.9 85.8Z" fill="#e3ad35" stroke="#e3ad35"/><path d="M124.1 96.0L113.3 93.2L111.5 91.3L122.1 94.0Z" fill="#88c141" stroke="#88c141"/><path d="M119.7 113.7L109.3 108.3L107.4 106.8L117.7 112.1Z" fill="#13c670" stroke="#13c670"/><path d="M122.1 94.0L111.5 91.3L109.6 89.4L120.1 92.1Z" fill="#a2be3c" stroke="#a2be3c"/><path d="M117.7 112.1L107.4 106.8L105.6 105.3L115.7 110.5Z" fill="#18c76c" stroke="#18c76c"/><path d="M374.6 61.9L367.2 60.5L369.7 58.6L376.8 59.9Z" fill="#f8c32c" stroke="#f8c32c"/><path d="M378.9 85.8L372.1 82.3L374.7 80.9L381.2 84.2Z" fill="#ecaa37" stroke="#ecaa37"/><path d="M120.1 92.1L109.6 89.4L107.7 87.5L118.1 90.1Z" fill="#bab937" stroke="#bab937"/><path d="M115.7 110.5L105.6 105.3L103.7 103.8L113.7 108.9Z" fill="#1dc769" stroke="#1dc769"/><path d="M376.8 59.9L369.7 58.6L372.3 56.7L379.1 58.0Z" fill="#f8c729" stroke="#f8c729"/><path d="M381.2 84.2L374.7 80.9L377.3 79.5L383.4 82.7Z" fill="#f2a838" stroke="#f2a838"/><path d="M118.1 90.1L107.7 87.5L105.9 85.6L116.1 88.1Z" fill="#d1b432" stroke="#d1b432"/><path d="M113.7 108.9L103.7 103.8L101.9 102.3L111.7 107.3Z" fill="#22c765" stroke="#22c765"/><path d="M379.1 58.0L372.3 56.7L374.9 54.8L381.3 56.0Z" fill="#f8cb27" stroke="#f8cb27"/><path d="M116.1 88.1L105.9 85.6L104.0 83.6L114.0 86.2Z" fill="#dcb034" stroke="#dcb034"/><path d="M111.7 107.3L101.9 102.3L100.1 100.8L109.7 105.7Z" fill="#27c861" stroke="#27c861"/><path d="M383.4 82.7L377.3 79.5L380.0 78.1L385.7 81.1Z" fill="#f3a838" stroke="#f3a838"/><path d="M114.0 86.2L104.0 83.6L102.2 81.7L112.0 84.2Z" fill="#e8ab36" stroke="#e8ab36"/><path d="M109.7 105.7L100.1 100.8L98.3 99.3L107.8 104.1Z" fill="#32c75c" stroke="#32c75c"/><path d="M381.3 56.0L374.9 54.8L377.5 52.9L383.6 54.0Z" fill="#f8d024" stroke="#f8d024"/><path d="M385.7 81.1L380.0 78.1L382.7 76.8L388.0 79.6Z" fill="#f3a938" stroke="#f3a938"/><path d="M112.0 84.2L102.2 81.7L100.4 79.8L110.0 82.3Z" fill="#f2a838" stroke="#f2a838"/><path d="M107.8 104.1L98.3 99.3L96.5 97.8L105.8 102.6Z" fill="#40c656" stroke="#40c656"/><path d="M383.6 54.0L377.5 52.9L380.1 51.0L385.8 52.1Z" fill="#f7d522" stroke="#f7d522"/><path d="M110.0 82.3L100.4 79.8L98.6 77.9L108.0 80.3Z" fill="#f3a838" stroke="#f3a838"/><path d="M105.8 102.6L96.5 97.8L94.8 96.3L103.8 101.0Z" fill="#4dc550" stroke="#4dc550"/><path d="M388.0 79.6L382.7 76.8L385.5 75.5L390.4 78.0Z" fill="#f4a938" stroke="#f4a938"/><path d="M108.0 80.3L98.6 77.9L96.8 76.0L106.0 78.4Z" fill="#f4a938" stroke="#f4a938"/><path d="M103.8 101.0L94.8 96.3L93.0 94.8L101.8 99.4Z" fill="#5bc44a" stroke="#5bc44a"/><path d="M385.8 52.1L380.1 51.0L382.8 49.1L388.1 50.1Z" fill="#f7da20" stroke="#f7da20"/><path d="M106.0 78.4L96.8 76.0L95.0 74.1L104.0 76.4Z" fill="#f4a938" stroke="#f4a938"/><path d="M390.4 78.0L385.5 75.5L388.3 74.2L392.7 76.5Z" fill="#f5a938" stroke="#f5a938"/><path d="M101.8 99.4L93.0 94.8L91.2 93.3L99.8 97.8Z" fill="#6fc345" stroke="#6fc345"/><path d="M388.1 50.1L382.8 49.1L385.6 47.2L390.4 48.1Z" fill="#f6e01e" stroke="#f6e01e"/><path d="M104.0 76.4L95.0 74.1L93.2 72.2L102.1 74.5Z" fill="#f5aa38" stroke="#f5aa38"/><path d="M99.8 97.8L91.2 93.3L89.5 91.9L97.9 96.2Z" fill="#86c141" stroke="#86c141"/><path d="M102.1 74.5L93.2 72.2L91.4 70.3L100.1 72.5Z" fill="#f6aa38" stroke="#f6aa38"/><path d="M392.7 76.5L388.3 74.2L391.3 73.0L395.1 75.0Z" fill="#f5aa38" stroke="#f5aa38"/><path d="M97.9 96.2L89.5 91.9L87.8 90.4L95.9 94.6Z" fill="#9cbf3d" stroke="#9cbf3d"/><path d="M390.4 48.1L385.6 47.2L388.4 45.4L392.8 46.2Z" fill="#f6e41c" stroke="#f6e41c"/><path d="M100.1 72.5L91.4 70.3L89.7 68.4L98.1 70.5Z" fill="#f6ae36" stroke="#f6ae36"/><path d="M95.9 94.6L87.8 90.4L86.1 89.0L94.0 93.0Z" fill="#afbb39" stroke="#afbb39"/><path d="M98.1 70.5L89.7 68.4L88.0 66.5L96.1 68.6Z" fill="#f7b334" stroke="#f7b334"/><path d="M395.1 75.0L391.3 73.0L394.4 71.9L397.6 73.5Z" fill="#f6aa38" stroke="#f6aa38"/><path d="M392.8 46.2L388.4 45.4L391.4 43.5L395.2 44.2Z" fill="#f7e81a" stroke="#f7e81a"/><path d="M94.0 93.0L86.1 89.0L84.4 87.5L92.0 91.5Z" fill="#c2b735" stroke="#c2b735"/><path d="M96.1 68.6L88.0 66.5L86.2 64.7L94.1 66.6Z" fill="#f7b732" stroke="#f7b732"/><path d="M92.0 91.5L84.4 87.5L82.7 86.1L90.1 89.9Z" fill="#d3b332" stroke="#d3b332"/><path d="M94.1 66.6L86.2 64.7L84.5 62.8L92.2 64.7Z" fill="#f8bc30" stroke="#f8bc30"/><path d="M395.2 44.2L391.4 43.5L394.5 41.7L397.6 42.3Z" fill="#f7ed18" stroke="#f7ed18"/><path d="M90.1 89.9L82.7 86.1L81.1 84.7L88.1 88.3Z" fill="#dcb034" stroke="#dcb034"/><path d="M397.6 73.5L394.4 71.9L397.9 70.9L400.1 72.1Z" fill="#f6ad37" stroke="#f6ad37"/><path d="M92.2 64.7L84.5 62.8L82.8 60.9L90.2 62.8Z" fill="#f8c02d" stroke="#f8c02d"/><path d="M88.1 88.3L81.1 84.7L79.4 83.3L86.2 86.8Z" fill="#e6ac36" stroke="#e6ac36"/><path d="M90.2 62.8L82.8 60.9L81.2 59.0L88.3 60.8Z" fill="#f8c42b" stroke="#f8c42b"/><path d="M397.6 42.3L394.5 41.7L397.9 40.0L400.1 40.4Z" fill="#f7f115" stroke="#f7f115"/><path d="M86.2 86.8L79.4 83.3L77.9 81.9L84.3 85.2Z" fill="#efa937" stroke="#efa937"/><path d="M88.3 60.8L81.2 59.0L79.6 57.2L86.3 58.9Z" fill="#f8c828" stroke="#f8c828"/><path d="M84.3 85.2L77.9 81.9L76.3 80.5L82.4 83.6Z" fill="#f2a838" stroke="#f2a838"/><path d="M86.3 58.9L79.6 57.2L77.9 55.3L84.4 56.9Z" fill="#f8cc26" stroke="#f8cc26"/><path d="M82.4 83.6L76.3 80.5L74.8 79.2L80.5 82.1Z" fill="#f3a938" stroke="#f3a938"/><path d="M400.1 72.1L397.9 70.9L403.3 71.0L403.3 71.0Z" fill="#f7b035" stroke="#f7b035"/><path d="M84.4 56.9L77.9 55.3L76.4 53.4L82.5 55.0Z" fill="#f7d224" stroke="#f7d224"/><path d="M80.5 82.1L74.8 79.2L73.3 77.8L78.6 80.6Z" fill="#f4a938" stroke="#f4a938"/><path d="M82.5 55.0L76.4 53.4L74.8 51.6L80.6 53.1Z" fill="#f7d722" stroke="#f7d722"/><path d="M400.1 40.4L397.9 40.0L403.3 38.6L403.3 38.6Z" fill="#f8f613" stroke="#f8f613"/><path d="M242.2 206.7L228.2 199.9L230.3 198.3L244.3 205.1Z" fill="#3828b0" stroke="#3828b0"/><path d="M244.3 205.1L230.3 198.3L232.4 196.6L246.4 203.5Z" fill="#3929b3" stroke="#3929b3"/><path d="M246.4 203.5L232.4 196.6L234.5 195.0L248.5 201.8Z" fill="#3b2db9" stroke="#3b2db9"/><path d="M248.5 201.8L234.5 195.0L236.6 193.3L250.6 200.2Z" fill="#3e30bf" stroke="#3e30bf"/><path d="M250.6 200.2L236.6 193.3L238.7 191.7L252.7 198.5Z" fill="#4034c6" stroke="#4034c6"/><path d="M252.7 198.5L238.7 191.7L240.8 190.0L254.8 196.8Z" fill="#4337cc" stroke="#4337cc"/><path d="M254.8 196.8L240.8 190.0L242.9 188.4L256.9 195.2Z" fill="#453bd2" stroke="#453bd2"/><path d="M256.9 195.2L242.9 188.4L245.1 186.7L259.0 193.5Z" fill="#473ed9" stroke="#473ed9"/><path d="M259.0 193.5L245.1 186.7L247.2 185.1L261.1 191.9Z" fill="#4a42df" stroke="#4a42df"/><path d="M261.1 191.9L247.2 185.1L249.3 183.4L263.2 190.2Z" fill="#4844e1" stroke="#4844e1"/><path d="M263.2 190.2L249.3 183.4L251.4 181.8L265.3 188.6Z" fill="#4647e3" stroke="#4647e3"/><path d="M242.2 206.7L228.2 199.9L226.1 198.3L240.1 205.1Z" fill="#3828b0" stroke="#3828b0"/><path d="M265.3 188.6L251.4 181.8L253.5 180.1L267.3 186.9Z" fill="#444ae4" stroke="#444ae4"/><path d="M267.3 186.9L253.5 180.1L255.6 178.5L269.4 185.2Z" fill="#424de6" stroke="#424de6"/><path d="M269.4 185.2L255.6 178.5L257.7 176.8L271.5 183.6Z" fill="#404fe7" stroke="#404fe7"/><path d="M271.5 183.6L257.7 176.8L259.9 175.2L273.6 181.9Z" fill="#3e52e9" stroke="#3e52e9"/><path d="M273.6 181.9L259.9 175.2L262.0 173.5L275.7 180.3Z" fill="#3c55ea" stroke="#3c55ea"/><path d="M275.7 180.3L262.0 173.5L264.1 171.9L277.8 178.6Z" fill="#3a57ec" stroke="#3a57ec"/><path d="M277.8 178.6L264.1 171.9L266.2 170.2L279.9 176.9Z" fill="#375cec" stroke="#375cec"/><path d="M279.9 176.9L266.2 170.2L268.3 168.6L281.9 175.3Z" fill="#3461ec" stroke="#3461ec"/><path d="M281.9 175.3L268.3 168.6L270.5 166.9L284.0 173.6Z" fill="#3166ec" stroke="#3166ec"/><path d="M284.0 173.6L270.5 166.9L272.6 165.3L286.1 171.9Z" fill="#2e6bec" stroke="#2e6bec"/><path d="M286.1 171.9L272.6 165.3L274.7 163.6L288.2 170.3Z" fill="#2a70ec" stroke="#2a70ec"/><path d="M288.2 170.3L274.7 163.6L276.8 162.0L290.3 168.6Z" fill="#2775ec" stroke="#2775ec"/><path d="M290.3 168.6L276.8 162.0L279.0 160.3L292.3 166.9Z" fill="#247aec" stroke="#247aec"/><path d="M292.3 166.9L279.0 160.3L281.1 158.7L294.4 165.3Z" fill="#217fec" stroke="#217fec"/><path d="M78.6 80.6L73.3 77.8L71.9 76.5L76.8 79.0Z" fill="#f4a938" stroke="#f4a938"/><path d="M294.4 165.3L281.1 158.7L283.2 157.1L296.5 163.6Z" fill="#1f84e9" stroke="#1f84e9"/><path d="M243.3 201.7L229.3 196.5L231.4 194.9L245.4 199.7Z" fill="#3d2fbd" stroke="#3d2fbd"/><path d="M296.5 163.6L283.2 157.1L285.4 155.4L298.5 161.9Z" fill="#1d89e4" stroke="#1d89e4"/><path d="M298.5 161.9L285.4 155.4L287.5 153.8L300.6 160.3Z" fill="#1b8ee0" stroke="#1b8ee0"/><path d="M245.4 199.7L231.4 194.9L233.5 192.9L247.5 197.6Z" fill="#4033c4" stroke="#4033c4"/><path d="M300.6 160.3L287.5 153.8L289.6 152.1L302.7 158.6Z" fill="#1993db" stroke="#1993db"/><path d="M302.7 158.6L289.6 152.1L291.8 150.5L304.7 156.9Z" fill="#1798d7" stroke="#1798d7"/><path d="M304.7 156.9L291.8 150.5L293.9 148.9L306.8 155.3Z" fill="#159dd2" stroke="#159dd2"/><path d="M306.8 155.3L293.9 148.9L296.0 147.2L308.9 153.6Z" fill="#13a2ce" stroke="#13a2ce"/><path d="M247.5 197.6L233.5 192.9L235.6 190.9L249.6 195.6Z" fill="#4337cc" stroke="#4337cc"/><path d="M308.9 153.6L296.0 147.2L298.2 145.6L310.9 151.9Z" fill="#11a6c9" stroke="#11a6c9"/><path d="M310.9 151.9L298.2 145.6L300.3 143.9L313.0 150.3Z" fill="#10a9c6" stroke="#10a9c6"/><path d="M240.1 205.1L226.1 198.3L224.1 196.7L238.0 203.5Z" fill="#392ab3" stroke="#392ab3"/><path d="M313.0 150.3L300.3 143.9L302.5 142.3L315.1 148.6Z" fill="#10abc3" stroke="#10abc3"/><path d="M315.1 148.6L302.5 142.3L304.6 140.7L317.1 146.9Z" fill="#10adc0" stroke="#10adc0"/><path d="M249.6 195.6L235.6 190.9L237.7 189.0L251.7 193.6Z" fill="#453bd4" stroke="#453bd4"/><path d="M243.3 201.7L229.3 196.5L227.3 194.5L241.2 200.2Z" fill="#3d2fbd" stroke="#3d2fbd"/><path d="M317.1 146.9L304.6 140.7L306.7 139.0L319.2 145.2Z" fill="#10aebd" stroke="#10aebd"/><path d="M319.2 145.2L306.7 139.0L308.9 137.4L321.2 143.6Z" fill="#10b0ba" stroke="#10b0ba"/><path d="M321.2 143.6L308.9 137.4L311.0 135.8L323.3 141.9Z" fill="#10b2b7" stroke="#10b2b7"/><path d="M251.7 193.6L237.7 189.0L239.8 187.0L253.8 191.6Z" fill="#4840db" stroke="#4840db"/><path d="M323.3 141.9L311.0 135.8L313.2 134.1L325.3 140.2Z" fill="#10b4b4" stroke="#10b4b4"/><path d="M325.3 140.2L313.2 134.1L315.3 132.5L327.4 138.5Z" fill="#10b5b1" stroke="#10b5b1"/><path d="M327.4 138.5L315.3 132.5L317.5 130.9L329.4 136.8Z" fill="#10b7ae" stroke="#10b7ae"/><path d="M329.4 136.8L317.5 130.9L319.7 129.2L331.5 135.2Z" fill="#10b8aa" stroke="#10b8aa"/><path d="M253.8 191.6L239.8 187.0L241.9 185.0L255.8 189.6Z" fill="#4943e1" stroke="#4943e1"/><path d="M331.5 135.2L319.7 129.2L321.8 127.6L333.5 133.5Z" fill="#10b9a7" stroke="#10b9a7"/><path d="M333.5 133.5L321.8 127.6L324.0 126.0L335.6 131.8Z" fill="#10bba3" stroke="#10bba3"/><path d="M335.6 131.8L324.0 126.0L326.1 124.4L337.6 130.1Z" fill="#10bca0" stroke="#10bca0"/><path d="M255.8 189.6L241.9 185.0L244.0 183.0L257.9 187.6Z" fill="#4747e3" stroke="#4747e3"/><path d="M337.6 130.1L326.1 124.4L328.3 122.7L339.6 128.4Z" fill="#10bd9c" stroke="#10bd9c"/><path d="M339.6 128.4L328.3 122.7L330.5 121.1L341.7 126.7Z" fill="#10be99" stroke="#10be99"/><path d="M341.7 126.7L330.5 121.1L332.6 119.5L343.7 125.1Z" fill="#10bf95" stroke="#10bf95"/><path d="M343.7 125.1L332.6 119.5L334.8 117.9L345.8 123.4Z" fill="#10c190" stroke="#10c190"/><path d="M257.9 187.6L244.0 183.0L246.1 181.0L260.0 185.5Z" fill="#444ae4" stroke="#444ae4"/><path d="M345.8 123.4L334.8 117.9L337.0 116.3L347.8 121.7Z" fill="#10c289" stroke="#10c289"/><path d="M347.8 121.7L337.0 116.3L339.2 114.6L349.8 120.0Z" fill="#10c382" stroke="#10c382"/><path d="M349.8 120.0L339.2 114.6L341.3 113.0L351.8 118.3Z" fill="#10c47b" stroke="#10c47b"/><path d="M351.8 118.3L341.3 113.0L343.5 111.4L353.9 116.6Z" fill="#10c674" stroke="#10c674"/><path d="M260.0 185.5L246.1 181.0L248.2 179.0L262.1 183.5Z" fill="#424de6" stroke="#424de6"/><path d="M353.9 116.6L343.5 111.4L345.7 109.8L355.9 114.9Z" fill="#14c66f" stroke="#14c66f"/><path d="M355.9 114.9L345.7 109.8L347.9 108.2L357.9 113.2Z" fill="#19c76b" stroke="#19c76b"/><path d="M238.0 203.5L224.1 196.7L222.0 195.0L236.0 201.8Z" fill="#3b2db9" stroke="#3b2db9"/><path d="M357.9 113.2L347.9 108.2L350.1 106.6L359.9 111.5Z" fill="#1ec768" stroke="#1ec768"/><path d="M262.1 183.5L248.2 179.0L250.3 177.0L264.2 181.5Z" fill="#3f51e8" stroke="#3f51e8"/><path d="M359.9 111.5L350.1 106.6L352.3 105.0L361.9 109.8Z" fill="#23c864" stroke="#23c864"/><path d="M361.9 109.8L352.3 105.0L354.5 103.3L363.9 108.1Z" fill="#28c860" stroke="#28c860"/><path d="M363.9 108.1L354.5 103.3L356.7 101.7L365.9 106.4Z" fill="#35c75b" stroke="#35c75b"/><path d="M365.9 106.4L356.7 101.7L358.9 100.1L367.9 104.7Z" fill="#43c655" stroke="#43c655"/><path d="M241.2 200.2L227.3 194.5L225.2 192.5L239.2 198.2Z" fill="#4033c4" stroke="#4033c4"/><path d="M264.2 181.5L250.3 177.0L252.4 175.0L266.2 179.5Z" fill="#3d54ea" stroke="#3d54ea"/><path d="M80.6 53.1L74.8 51.6L73.4 49.8L78.7 51.1Z" fill="#f6dc20" stroke="#f6dc20"/><path d="M367.9 104.7L358.9 100.1L361.1 98.5L369.9 103.0Z" fill="#51c54f" stroke="#51c54f"/><path d="M369.9 103.0L361.1 98.5L363.3 96.9L371.9 101.3Z" fill="#5ec449" stroke="#5ec449"/><path d="M371.9 101.3L363.3 96.9L365.5 95.3L373.9 99.6Z" fill="#75c344" stroke="#75c344"/><path d="M266.2 179.5L252.4 175.0L254.5 173.0L268.3 177.4Z" fill="#3b57ec" stroke="#3b57ec"/><path d="M373.9 99.6L365.5 95.3L367.7 93.7L375.9 97.9Z" fill="#8cc140" stroke="#8cc140"/><path d="M375.9 97.9L367.7 93.7L369.9 92.1L377.9 96.2Z" fill="#a1be3c" stroke="#a1be3c"/><path d="M377.9 96.2L369.9 92.1L372.2 90.6L379.8 94.4Z" fill="#b4ba38" stroke="#b4ba38"/><path d="M379.8 94.4L372.2 90.6L374.4 89.0L381.8 92.7Z" fill="#c8b634" stroke="#c8b634"/><path d="M268.3 177.4L254.5 173.0L256.6 171.0L270.4 175.4Z" fill="#375dec" stroke="#375dec"/><path d="M381.8 92.7L374.4 89.0L376.7 87.4L383.8 91.0Z" fill="#d5b233" stroke="#d5b233"/><path d="M383.8 91.0L376.7 87.4L378.9 85.8L385.7 89.3Z" fill="#dfaf35" stroke="#dfaf35"/><path d="M385.7 89.3L378.9 85.8L381.2 84.2L387.6 87.5Z" fill="#e9ab36" stroke="#e9ab36"/><path d="M387.6 87.5L381.2 84.2L383.4 82.7L389.6 85.8Z" fill="#f2a838" stroke="#f2a838"/><path d="M270.4 175.4L256.6 171.0L258.7 169.0L272.5 173.4Z" fill="#3363ec" stroke="#3363ec"/><path d="M389.6 85.8L383.4 82.7L385.7 81.1L391.5 84.0Z" fill="#f3a838" stroke="#f3a838"/><path d="M391.5 84.0L385.7 81.1L388.0 79.6L393.4 82.3Z" fill="#f3a938" stroke="#f3a938"/><path d="M393.4 82.3L388.0 79.6L390.4 78.0L395.3 80.5Z" fill="#f4a938" stroke="#f4a938"/><path d="M272.5 173.4L258.7 169.0L260.8 167.0L274.5 171.4Z" fill="#2f69ec" stroke="#2f69ec"/><path d="M395.3 80.5L390.4 78.0L392.7 76.5L397.1 78.7Z" fill="#f4a938" stroke="#f4a938"/><path d="M397.1 78.7L392.7 76.5L395.1 75.0L398.9 76.9Z" fill="#f5aa38" stroke="#f5aa38"/><path d="M398.9 76.9L395.1 75.0L397.6 73.5L400.7 75.1Z" fill="#f6aa38" stroke="#f6aa38"/><path d="M400.7 75.1L397.6 73.5L400.1 72.1L402.3 73.2Z" fill="#f6ac37" stroke="#f6ac37"/><path d="M236.0 201.8L222.0 195.0L219.9 193.4L233.9 200.2Z" fill="#3e30c0" stroke="#3e30c0"/><path d="M274.5 171.4L260.8 167.0L262.9 165.0L276.6 169.3Z" fill="#2b6fec" stroke="#2b6fec"/><path d="M402.3 73.2L400.1 72.1L403.3 71.0L403.3 71.0Z" fill="#f7b035" stroke="#f7b035"/><path d="M276.6 169.3L262.9 165.0L265.0 163.1L278.7 167.3Z" fill="#2775ec" stroke="#2775ec"/><path d="M239.2 198.2L225.2 192.5L223.1 190.5L237.1 196.2Z" fill="#4337cc" stroke="#4337cc"/><path d="M278.7 167.3L265.0 163.1L267.1 161.1L280.7 165.3Z" fill="#237bec" stroke="#237bec"/><path d="M280.7 165.3L267.1 161.1L269.2 159.1L282.8 163.3Z" fill="#2081eb" stroke="#2081eb"/><path d="M282.8 163.3L269.2 159.1L271.3 157.1L284.9 161.3Z" fill="#1d87e6" stroke="#1d87e6"/><path d="M284.9 161.3L271.3 157.1L273.4 155.1L286.9 159.2Z" fill="#1b8de0" stroke="#1b8de0"/><path d="M286.9 159.2L273.4 155.1L275.5 153.1L289.0 157.2Z" fill="#1893db" stroke="#1893db"/><path d="M233.9 200.2L219.9 193.4L217.8 191.8L231.8 198.5Z" fill="#4034c6" stroke="#4034c6"/><path d="M289.0 157.2L275.5 153.1L277.7 151.1L291.1 155.2Z" fill="#1699d6" stroke="#1699d6"/><path d="M291.1 155.2L277.7 151.1L279.8 149.1L293.1 153.1Z" fill="#149fd0" stroke="#149fd0"/><path d="M237.1 196.2L223.1 190.5L221.0 188.5L235.0 194.2Z" fill="#453bd4" stroke="#453bd4"/><path d="M293.1 153.1L279.8 149.1L281.9 147.1L295.2 151.1Z" fill="#11a5cb" stroke="#11a5cb"/><path d="M295.2 151.1L281.9 147.1L284.0 145.1L297.2 149.1Z" fill="#10a9c6" stroke="#10a9c6"/><path d="M297.2 149.1L284.0 145.1L286.1 143.2L299.3 147.1Z" fill="#10abc3" stroke="#10abc3"/><path d="M299.3 147.1L286.1 143.2L288.2 141.2L301.3 145.0Z" fill="#10adbf" stroke="#10adbf"/><path d="M231.8 198.5L217.8 191.8L215.8 190.1L229.7 196.9Z" fill="#4337cc" stroke="#4337cc"/><path d="M301.3 145.0L288.2 141.2L290.4 139.2L303.4 143.0Z" fill="#10afbb" stroke="#10afbb"/><path d="M303.4 143.0L290.4 139.2L292.5 137.2L305.4 141.0Z" fill="#10b2b8" stroke="#10b2b8"/><path d="M305.4 141.0L292.5 137.2L294.6 135.2L307.5 139.0Z" fill="#10b4b4" stroke="#10b4b4"/><path d="M235.0 194.2L221.0 188.5L218.9 186.6L232.9 192.2Z" fill="#4840dc" stroke="#4840dc"/><path d="M307.5 139.0L294.6 135.2L296.7 133.2L309.5 136.9Z" fill="#10b6b0" stroke="#10b6b0"/><path d="M309.5 136.9L296.7 133.2L298.9 131.2L311.6 134.9Z" fill="#10b7ac" stroke="#10b7ac"/><path d="M311.6 134.9L298.9 131.2L301.0 129.2L313.6 132.9Z" fill="#10b9a8" stroke="#10b9a8"/><path d="M229.7 196.9L215.8 190.1L213.7 188.5L227.6 195.3Z" fill="#453bd3" stroke="#453bd3"/><path d="M313.6 132.9L301.0 129.2L303.1 127.3L315.7 130.8Z" fill="#10baa4" stroke="#10baa4"/><path d="M315.7 130.8L303.1 127.3L305.2 125.3L317.7 128.8Z" fill="#10bca0" stroke="#10bca0"/><path d="M317.7 128.8L305.2 125.3L307.4 123.3L319.8 126.8Z" fill="#10bd9b" stroke="#10bd9b"/><path d="M319.8 126.8L307.4 123.3L309.5 121.3L321.8 124.7Z" fill="#10bf97" stroke="#10bf97"/><path d="M232.9 192.2L218.9 186.6L216.8 184.6L230.8 190.2Z" fill="#4943e1" stroke="#4943e1"/><path d="M321.8 124.7L309.5 121.3L311.6 119.3L323.9 122.7Z" fill="#10c092" stroke="#10c092"/><path d="M323.9 122.7L311.6 119.3L313.8 117.3L325.9 120.7Z" fill="#10c289" stroke="#10c289"/><path d="M227.6 195.3L213.7 188.5L211.6 186.8L225.5 193.6Z" fill="#473ed9" stroke="#473ed9"/><path d="M325.9 120.7L313.8 117.3L315.9 115.3L327.9 118.6Z" fill="#10c381" stroke="#10c381"/><path d="M327.9 118.6L315.9 115.3L318.1 113.4L330.0 116.6Z" fill="#10c578" stroke="#10c578"/><path d="M330.0 116.6L318.1 113.4L320.2 111.4L332.0 114.6Z" fill="#12c671" stroke="#12c671"/><path d="M332.0 114.6L320.2 111.4L322.3 109.4L334.0 112.5Z" fill="#18c76c" stroke="#18c76c"/><path d="M334.0 112.5L322.3 109.4L324.5 107.4L336.1 110.5Z" fill="#1ec768" stroke="#1ec768"/><path d="M230.8 190.2L216.8 184.6L214.7 182.6L228.7 188.1Z" fill="#4747e3" stroke="#4747e3"/><path d="M336.1 110.5L324.5 107.4L326.6 105.4L338.1 108.5Z" fill="#24c863" stroke="#24c863"/><path d="M338.1 108.5L326.6 105.4L328.8 103.4L340.1 106.4Z" fill="#2dc85e" stroke="#2dc85e"/><path d="M225.5 193.6L211.6 186.8L209.5 185.2L223.4 192.0Z" fill="#4a42df" stroke="#4a42df"/><path d="M340.1 106.4L328.8 103.4L330.9 101.5L342.1 104.4Z" fill="#3ec657" stroke="#3ec657"/><path d="M342.1 104.4L330.9 101.5L333.1 99.5L344.1 102.4Z" fill="#4fc54f" stroke="#4fc54f"/><path d="M76.8 79.0L71.9 76.5L70.6 75.3L74.9 77.5Z" fill="#f5a938" stroke="#f5a938"/><path d="M344.1 102.4L333.1 99.5L335.2 97.5L346.2 100.3Z" fill="#60c448" stroke="#60c448"/><path d="M346.2 100.3L335.2 97.5L337.4 95.5L348.2 98.3Z" fill="#7cc243" stroke="#7cc243"/><path d="M348.2 98.3L337.4 95.5L339.6 93.5L350.2 96.3Z" fill="#98c03e" stroke="#98c03e"/><path d="M228.7 188.1L214.7 182.6L212.6 180.6L226.6 186.1Z" fill="#444ae4" stroke="#444ae4"/><path d="M350.2 96.3L339.6 93.5L341.7 91.5L352.2 94.2Z" fill="#afbb39" stroke="#afbb39"/><path d="M223.4 192.0L209.5 185.2L207.5 183.6L221.3 190.3Z" fill="#4844e1" stroke="#4844e1"/><path d="M352.2 94.2L341.7 91.5L343.9 89.6L354.2 92.2Z" fill="#c7b634" stroke="#c7b634"/><path d="M354.2 92.2L343.9 89.6L346.1 87.6L356.2 90.2Z" fill="#d7b133" stroke="#d7b133"/><path d="M356.2 90.2L346.1 87.6L348.2 85.6L358.2 88.1Z" fill="#e3ad35" stroke="#e3ad35"/><path d="M78.7 51.1L73.4 49.8L71.9 48.0L76.8 49.2Z" fill="#f6e11e" stroke="#f6e11e"/><path d="M358.2 88.1L348.2 85.6L350.4 83.6L360.2 86.1Z" fill="#eea937" stroke="#eea937"/><path d="M360.2 86.1L350.4 83.6L352.6 81.7L362.2 84.0Z" fill="#f3a838" stroke="#f3a838"/><path d="M362.2 84.0L352.6 81.7L354.8 79.7L364.2 82.0Z" fill="#f3a938" stroke="#f3a938"/><path d="M226.6 186.1L212.6 180.6L210.5 178.7L224.5 184.1Z" fill="#424de6" stroke="#424de6"/><path d="M221.3 190.3L207.5 183.6L205.4 181.9L219.3 188.7Z" fill="#4647e3" stroke="#4647e3"/><path d="M364.2 82.0L354.8 79.7L356.9 77.7L366.2 80.0Z" fill="#f4a938" stroke="#f4a938"/><path d="M366.2 80.0L356.9 77.7L359.1 75.7L368.2 77.9Z" fill="#f5a938" stroke="#f5a938"/><path d="M368.2 77.9L359.1 75.7L361.3 73.7L370.2 75.9Z" fill="#f6aa38" stroke="#f6aa38"/><path d="M370.2 75.9L361.3 73.7L363.5 71.8L372.1 73.8Z" fill="#f6ac37" stroke="#f6ac37"/><path d="M372.1 73.8L363.5 71.8L365.7 69.8L374.1 71.8Z" fill="#f7b035" stroke="#f7b035"/><path d="M374.1 71.8L365.7 69.8L367.9 67.8L376.1 69.7Z" fill="#f7b533" stroke="#f7b533"/><path d="M219.3 188.7L205.4 181.9L203.3 180.3L217.2 187.0Z" fill="#444ae4" stroke="#444ae4"/><path d="M376.1 69.7L367.9 67.8L370.1 65.8L378.1 67.7Z" fill="#f8b931" stroke="#f8b931"/><path d="M224.5 184.1L210.5 178.7L208.5 176.7L222.3 182.1Z" fill="#3f51e8" stroke="#3f51e8"/><path d="M378.1 67.7L370.1 65.8L372.4 63.9L380.0 65.7Z" fill="#f8be2f" stroke="#f8be2f"/><path d="M380.0 65.7L372.4 63.9L374.6 61.9L382.0 63.6Z" fill="#f8c22c" stroke="#f8c22c"/><path d="M382.0 63.6L374.6 61.9L376.8 59.9L383.9 61.6Z" fill="#f8c62a" stroke="#f8c62a"/><path d="M383.9 61.6L376.8 59.9L379.1 58.0L385.8 59.5Z" fill="#f8ca27" stroke="#f8ca27"/><path d="M385.8 59.5L379.1 58.0L381.3 56.0L387.8 57.5Z" fill="#f8ce25" stroke="#f8ce25"/><path d="M387.8 57.5L381.3 56.0L383.6 54.0L389.7 55.4Z" fill="#f7d323" stroke="#f7d323"/><path d="M217.2 187.0L203.3 180.3L201.3 178.7L215.1 185.4Z" fill="#424de6" stroke="#424de6"/><path d="M389.7 55.4L383.6 54.0L385.8 52.1L391.6 53.3Z" fill="#f7d821" stroke="#f7d821"/><path d="M222.3 182.1L208.5 176.7L206.4 174.7L220.2 180.1Z" fill="#3d54ea" stroke="#3d54ea"/><path d="M391.6 53.3L385.8 52.1L388.1 50.1L393.5 51.3Z" fill="#f6dd1f" stroke="#f6dd1f"/><path d="M393.5 51.3L388.1 50.1L390.4 48.1L395.3 49.2Z" fill="#f6e21d" stroke="#f6e21d"/><path d="M395.3 49.2L390.4 48.1L392.8 46.2L397.2 47.1Z" fill="#f7e61b" stroke="#f7e61b"/><path d="M397.2 47.1L392.8 46.2L395.2 44.2L399.0 45.1Z" fill="#f7ea19" stroke="#f7ea19"/><path d="M399.0 45.1L395.2 44.2L397.6 42.3L400.7 43.0Z" fill="#f7ee17" stroke="#f7ee17"/><path d="M215.1 185.4L201.3 178.7L199.2 177.0L213.0 183.7Z" fill="#404fe7" stroke="#404fe7"/><path d="M400.7 43.0L397.6 42.3L400.1 40.4L402.3 40.9Z" fill="#f8f215" stroke="#f8f215"/><path d="M402.3 40.9L400.1 40.4L403.3 38.6L403.3 38.6Z" fill="#f8f613" stroke="#f8f613"/><path d="M220.2 180.1L206.4 174.7L204.3 172.7L218.1 178.1Z" fill="#3a57ec" stroke="#3a57ec"/><path d="M213.0 183.7L199.2 177.0L197.1 175.4L210.9 182.1Z" fill="#3e52e9" stroke="#3e52e9"/><path d="M218.1 178.1L204.3 172.7L202.2 170.8L216.0 176.1Z" fill="#375dec" stroke="#375dec"/><path d="M210.9 182.1L197.1 175.4L195.1 173.7L208.8 180.4Z" fill="#3c55ea" stroke="#3c55ea"/><path d="M216.0 176.1L202.2 170.8L200.1 168.8L213.9 174.1Z" fill="#3363ec" stroke="#3363ec"/><path d="M208.8 180.4L195.1 173.7L193.0 172.1L206.7 178.8Z" fill="#3a58ec" stroke="#3a58ec"/><path d="M213.9 174.1L200.1 168.8L198.1 166.8L211.8 172.1Z" fill="#2f69ec" stroke="#2f69ec"/><path d="M206.7 178.8L193.0 172.1L191.0 170.5L204.6 177.1Z" fill="#375cec" stroke="#375cec"/><path d="M74.9 77.5L70.6 75.3L69.3 74.1L73.1 76.0Z" fill="#f5aa38" stroke="#f5aa38"/><path d="M76.8 49.2L71.9 48.0L70.6 46.2L75.0 47.3Z" fill="#f6e51b" stroke="#f6e51b"/><path d="M211.8 172.1L198.1 166.8L196.0 164.8L209.7 170.1Z" fill="#2b6fec" stroke="#2b6fec"/><path d="M204.6 177.1L191.0 170.5L188.9 168.8L202.5 175.5Z" fill="#3461ec" stroke="#3461ec"/><path d="M209.7 170.1L196.0 164.8L193.9 162.9L207.6 168.1Z" fill="#2775ec" stroke="#2775ec"/><path d="M202.5 175.5L188.9 168.8L186.8 167.2L200.4 173.8Z" fill="#3166ec" stroke="#3166ec"/><path d="M404.5 74.3L402.3 73.2L403.3 71.0L403.3 71.0Z" fill="#f7b036" stroke="#f7b036"/><path d="M200.4 173.8L186.8 167.2L184.8 165.6L198.3 172.2Z" fill="#2d6bec" stroke="#2d6bec"/><path d="M207.6 168.1L193.9 162.9L191.8 160.9L205.5 166.1Z" fill="#237bec" stroke="#237bec"/><path d="M198.3 172.2L184.8 165.6L182.7 163.9L196.2 170.5Z" fill="#2a70ec" stroke="#2a70ec"/><path d="M205.5 166.1L191.8 160.9L189.7 158.9L203.3 164.1Z" fill="#2081eb" stroke="#2081eb"/><path d="M196.2 170.5L182.7 163.9L180.7 162.3L194.1 168.9Z" fill="#2775ec" stroke="#2775ec"/><path d="M203.3 164.1L189.7 158.9L187.7 156.9L201.2 162.0Z" fill="#1d87e6" stroke="#1d87e6"/><path d="M194.1 168.9L180.7 162.3L178.6 160.7L191.9 167.2Z" fill="#247aec" stroke="#247aec"/><path d="M201.2 162.0L187.7 156.9L185.6 155.0L199.1 160.0Z" fill="#1b8de0" stroke="#1b8de0"/><path d="M191.9 167.2L178.6 160.7L176.6 159.1L189.8 165.6Z" fill="#207fec" stroke="#207fec"/><path d="M199.1 160.0L185.6 155.0L183.5 153.0L197.0 158.0Z" fill="#1893db" stroke="#1893db"/><path d="M189.8 165.6L176.6 159.1L174.5 157.4L187.7 163.9Z" fill="#1e84e8" stroke="#1e84e8"/><path d="M197.0 158.0L183.5 153.0L181.5 151.0L194.9 156.0Z" fill="#1699d5" stroke="#1699d5"/><path d="M187.7 163.9L174.5 157.4L172.5 155.8L185.6 162.3Z" fill="#1c89e4" stroke="#1c89e4"/><path d="M75.0 47.3L70.6 46.2L69.4 44.4L73.2 45.4Z" fill="#f7e919" stroke="#f7e919"/><path d="M194.9 156.0L181.5 151.0L179.4 149.1L192.8 154.0Z" fill="#139fd0" stroke="#139fd0"/><path d="M185.6 162.3L172.5 155.8L170.4 154.2L183.5 160.6Z" fill="#1a8edf" stroke="#1a8edf"/><path d="M73.1 76.0L69.3 74.1L68.3 73.0L71.4 74.5Z" fill="#f6aa38" stroke="#f6aa38"/><path d="M192.8 154.0L179.4 149.1L177.3 147.1L190.6 152.0Z" fill="#11a5ca" stroke="#11a5ca"/><path d="M183.5 160.6L170.4 154.2L168.4 152.5L181.4 159.0Z" fill="#1893db" stroke="#1893db"/><path d="M190.6 152.0L177.3 147.1L175.3 145.1L188.5 150.0Z" fill="#10a9c6" stroke="#10a9c6"/><path d="M181.4 159.0L168.4 152.5L166.3 150.9L179.3 157.3Z" fill="#1698d6" stroke="#1698d6"/><path d="M404.5 41.4L402.3 40.9L403.3 38.6L403.3 38.6Z" fill="#f8f713" stroke="#f8f713"/><path d="M179.3 157.3L166.3 150.9L164.3 149.3L177.2 155.6Z" fill="#149dd2" stroke="#149dd2"/><path d="M188.5 150.0L175.3 145.1L173.2 143.1L186.4 148.0Z" fill="#10abc2" stroke="#10abc2"/><path d="M177.2 155.6L164.3 149.3L162.2 147.7L175.0 154.0Z" fill="#12a2cd" stroke="#12a2cd"/><path d="M186.4 148.0L173.2 143.1L171.1 141.2L184.3 146.0Z" fill="#10adbf" stroke="#10adbf"/><path d="M175.0 154.0L162.2 147.7L160.2 146.0L172.9 152.3Z" fill="#10a7c9" stroke="#10a7c9"/><path d="M184.3 146.0L171.1 141.2L169.1 139.2L182.1 143.9Z" fill="#10b0bb" stroke="#10b0bb"/><path d="M172.9 152.3L160.2 146.0L158.2 144.4L170.8 150.7Z" fill="#10a9c6" stroke="#10a9c6"/><path d="M182.1 143.9L169.1 139.2L167.0 137.2L180.0 141.9Z" fill="#10b2b7" stroke="#10b2b7"/><path d="M170.8 150.7L158.2 144.4L156.1 142.8L168.7 149.0Z" fill="#10abc3" stroke="#10abc3"/><path d="M180.0 141.9L167.0 137.2L165.0 135.3L177.9 139.9Z" fill="#10b4b4" stroke="#10b4b4"/><path d="M168.7 149.0L156.1 142.8L154.1 141.2L166.6 147.3Z" fill="#10adc0" stroke="#10adc0"/><path d="M177.9 139.9L165.0 135.3L162.9 133.3L175.7 137.9Z" fill="#10b6b0" stroke="#10b6b0"/><path d="M166.6 147.3L154.1 141.2L152.0 139.6L164.4 145.7Z" fill="#10afbd" stroke="#10afbd"/><path d="M73.2 45.4L69.4 44.4L68.3 42.7L71.4 43.5Z" fill="#f7ee17" stroke="#f7ee17"/><path d="M175.7 137.9L162.9 133.3L160.8 131.3L173.6 135.9Z" fill="#10b7ac" stroke="#10b7ac"/><path d="M164.4 145.7L152.0 139.6L150.0 137.9L162.3 144.0Z" fill="#10b0ba" stroke="#10b0ba"/><path d="M173.6 135.9L160.8 131.3L158.8 129.4L171.5 133.9Z" fill="#10b9a8" stroke="#10b9a8"/><path d="M162.3 144.0L150.0 137.9L148.0 136.3L160.2 142.4Z" fill="#10b2b7" stroke="#10b2b7"/><path d="M171.5 133.9L158.8 129.4L156.7 127.4L169.3 131.8Z" fill="#10baa4" stroke="#10baa4"/><path d="M160.2 142.4L148.0 136.3L145.9 134.7L158.0 140.7Z" fill="#10b4b4" stroke="#10b4b4"/><path d="M71.4 74.5L68.3 73.0L67.6 72.0L69.8 73.1Z" fill="#f6ae36" stroke="#f6ae36"/><path d="M158.0 140.7L145.9 134.7L143.9 133.1L155.9 139.0Z" fill="#10b6b1" stroke="#10b6b1"/><path d="M169.3 131.8L156.7 127.4L154.7 125.4L167.2 129.8Z" fill="#10bc9f" stroke="#10bc9f"/><path d="M155.9 139.0L143.9 133.1L141.9 131.5L153.8 137.4Z" fill="#10b7ad" stroke="#10b7ad"/><path d="M167.2 129.8L154.7 125.4L152.6 123.5L165.1 127.8Z" fill="#10bd9b" stroke="#10bd9b"/><path d="M403.8 76.7L400.7 75.1L402.3 73.2L404.5 74.3Z" fill="#f6ac37" stroke="#f6ac37"/><path d="M153.8 137.4L141.9 131.5L139.9 129.8L151.6 135.7Z" fill="#10b8aa" stroke="#10b8aa"/><path d="M165.1 127.8L152.6 123.5L150.6 121.5L162.9 125.8Z" fill="#10bf97" stroke="#10bf97"/><path d="M151.6 135.7L139.9 129.8L137.8 128.2L149.5 134.0Z" fill="#10b9a6" stroke="#10b9a6"/><path d="M162.9 125.8L150.6 121.5L148.5 119.5L160.8 123.8Z" fill="#10c091" stroke="#10c091"/><path d="M149.5 134.0L137.8 128.2L135.8 126.6L147.4 132.4Z" fill="#10bba3" stroke="#10bba3"/><path d="M160.8 123.8L148.5 119.5L146.5 117.6L158.6 121.8Z" fill="#10c289" stroke="#10c289"/><path d="M147.4 132.4L135.8 126.6L133.8 125.0L145.2 130.7Z" fill="#10bc9f" stroke="#10bc9f"/><path d="M158.6 121.8L146.5 117.6L144.5 115.6L156.5 119.7Z" fill="#10c380" stroke="#10c380"/><path d="M145.2 130.7L133.8 125.0L131.8 123.4L143.1 129.0Z" fill="#10bd9c" stroke="#10bd9c"/><path d="M156.5 119.7L144.5 115.6L142.4 113.6L154.3 117.7Z" fill="#10c578" stroke="#10c578"/><path d="M143.1 129.0L131.8 123.4L129.8 121.8L140.9 127.4Z" fill="#10be98" stroke="#10be98"/><path d="M154.3 117.7L142.4 113.6L140.4 111.7L152.2 115.7Z" fill="#12c670" stroke="#12c670"/><path d="M140.9 127.4L129.8 121.8L127.8 120.2L138.8 125.7Z" fill="#10c095" stroke="#10c095"/><path d="M138.8 125.7L127.8 120.2L125.7 118.6L136.6 124.0Z" fill="#10c18e" stroke="#10c18e"/><path d="M152.2 115.7L140.4 111.7L138.3 109.7L150.0 113.7Z" fill="#18c76c" stroke="#18c76c"/><path d="M71.4 43.5L68.3 42.7L67.6 41.0L69.8 41.6Z" fill="#f8f215" stroke="#f8f215"/><path d="M136.6 124.0L125.7 118.6L123.7 117.0L134.5 122.3Z" fill="#10c287" stroke="#10c287"/><path d="M150.0 113.7L138.3 109.7L136.3 107.7L147.9 111.7Z" fill="#1ec767" stroke="#1ec767"/><path d="M134.5 122.3L123.7 117.0L121.7 115.3L132.3 120.7Z" fill="#10c380" stroke="#10c380"/><path d="M147.9 111.7L136.3 107.7L134.3 105.8L145.7 109.6Z" fill="#24c863" stroke="#24c863"/><path d="M403.8 43.7L400.7 43.0L402.3 40.9L404.5 41.4Z" fill="#f8f314" stroke="#f8f314"/><path d="M132.3 120.7L121.7 115.3L119.7 113.7L130.2 119.0Z" fill="#10c579" stroke="#10c579"/><path d="M145.7 109.6L134.3 105.8L132.2 103.8L143.6 107.6Z" fill="#2ec85d" stroke="#2ec85d"/><path d="M402.7 78.9L398.9 76.9L400.7 75.1L403.8 76.7Z" fill="#f6aa38" stroke="#f6aa38"/><path d="M130.2 119.0L119.7 113.7L117.7 112.1L128.0 117.3Z" fill="#10c672" stroke="#10c672"/><path d="M143.6 107.6L132.2 103.8L130.2 101.9L141.4 105.6Z" fill="#3fc656" stroke="#3fc656"/><path d="M128.0 117.3L117.7 112.1L115.7 110.5L125.9 115.6Z" fill="#15c66e" stroke="#15c66e"/><path d="M141.4 105.6L130.2 101.9L128.2 99.9L139.2 103.6Z" fill="#50c54f" stroke="#50c54f"/><path d="M125.9 115.6L115.7 110.5L113.7 108.9L123.7 113.9Z" fill="#1ac76b" stroke="#1ac76b"/><path d="M139.2 103.6L128.2 99.9L126.2 97.9L137.1 101.5Z" fill="#62c448" stroke="#62c448"/><path d="M123.7 113.9L113.7 108.9L111.7 107.3L121.5 112.3Z" fill="#1fc767" stroke="#1fc767"/><path d="M137.1 101.5L126.2 97.9L124.1 96.0L134.9 99.5Z" fill="#7ec243" stroke="#7ec243"/><path d="M121.5 112.3L111.7 107.3L109.7 105.7L119.4 110.6Z" fill="#24c863" stroke="#24c863"/><path d="M134.9 99.5L124.1 96.0L122.1 94.0L132.8 97.5Z" fill="#9ac03e" stroke="#9ac03e"/><path d="M119.4 110.6L109.7 105.7L107.8 104.1L117.2 108.9Z" fill="#2ac85f" stroke="#2ac85f"/><path d="M117.2 108.9L107.8 104.1L105.8 102.6L115.0 107.2Z" fill="#38c759" stroke="#38c759"/><path d="M132.8 97.5L122.1 94.0L120.1 92.1L130.6 95.5Z" fill="#b1bb39" stroke="#b1bb39"/><path d="M115.0 107.2L105.8 102.6L103.8 101.0L112.8 105.5Z" fill="#46c653" stroke="#46c653"/><path d="M130.6 95.5L120.1 92.1L118.1 90.1L128.4 93.4Z" fill="#c9b634" stroke="#c9b634"/><path d="M112.8 105.5L103.8 101.0L101.8 99.4L110.6 103.8Z" fill="#54c54d" stroke="#54c54d"/><path d="M128.4 93.4L118.1 90.1L116.1 88.1L126.2 91.4Z" fill="#d8b133" stroke="#d8b133"/><path d="M110.6 103.8L101.8 99.4L99.8 97.8L108.5 102.1Z" fill="#63c447" stroke="#63c447"/><path d="M401.5 80.9L397.1 78.7L398.9 76.9L402.7 78.9Z" fill="#f5a938" stroke="#f5a938"/><path d="M126.2 91.4L116.1 88.1L114.0 86.2L124.1 89.4Z" fill="#e4ad36" stroke="#e4ad36"/><path d="M108.5 102.1L99.8 97.8L97.9 96.2L106.3 100.4Z" fill="#7ac243" stroke="#7ac243"/><path d="M402.7 46.0L399.0 45.1L400.7 43.0L403.8 43.7Z" fill="#f7f016" stroke="#f7f016"/><path d="M69.8 73.1L67.6 72.0L68.8 72.1L68.8 72.1Z" fill="#f7b135" stroke="#f7b135"/><path d="M124.1 89.4L114.0 86.2L112.0 84.2L121.9 87.4Z" fill="#f0a938" stroke="#f0a938"/><path d="M106.3 100.4L97.9 96.2L95.9 94.6L104.1 98.7Z" fill="#92c03f" stroke="#92c03f"/><path d="M121.9 87.4L112.0 84.2L110.0 82.3L119.7 85.3Z" fill="#f3a838" stroke="#f3a838"/><path d="M104.1 98.7L95.9 94.6L94.0 93.0L101.9 97.0Z" fill="#a6bd3b" stroke="#a6bd3b"/><path d="M119.7 85.3L110.0 82.3L108.0 80.3L117.5 83.3Z" fill="#f3a938" stroke="#f3a938"/><path d="M101.9 97.0L94.0 93.0L92.0 91.5L99.6 95.3Z" fill="#b9b937" stroke="#b9b937"/><path d="M117.5 83.3L108.0 80.3L106.0 78.4L115.3 81.3Z" fill="#f4a938" stroke="#f4a938"/><path d="M99.6 95.3L92.0 91.5L90.1 89.9L97.4 93.6Z" fill="#cdb533" stroke="#cdb533"/><path d="M115.3 81.3L106.0 78.4L104.0 76.4L113.1 79.2Z" fill="#f5a938" stroke="#f5a938"/><path d="M97.4 93.6L90.1 89.9L88.1 88.3L95.2 91.9Z" fill="#d8b133" stroke="#d8b133"/><path d="M95.2 91.9L88.1 88.3L86.2 86.8L93.0 90.2Z" fill="#e2ae35" stroke="#e2ae35"/><path d="M113.1 79.2L104.0 76.4L102.1 74.5L110.9 77.2Z" fill="#f6aa38" stroke="#f6aa38"/><path d="M400.1 83.0L395.3 80.5L397.1 78.7L401.5 80.9Z" fill="#f4a938" stroke="#f4a938"/><path d="M93.0 90.2L86.2 86.8L84.3 85.2L90.7 88.4Z" fill="#ebaa37" stroke="#ebaa37"/><path d="M110.9 77.2L102.1 74.5L100.1 72.5L108.7 75.2Z" fill="#f6ac37" stroke="#f6ac37"/><path d="M90.7 88.4L84.3 85.2L82.4 83.6L88.5 86.7Z" fill="#f2a838" stroke="#f2a838"/><path d="M108.7 75.2L100.1 72.5L98.1 70.5L106.5 73.1Z" fill="#f7b135" stroke="#f7b135"/><path d="M88.5 86.7L82.4 83.6L80.5 82.1L86.2 85.0Z" fill="#f3a838" stroke="#f3a838"/><path d="M401.5 48.2L397.2 47.1L399.0 45.1L402.7 46.0Z" fill="#f7ec18" stroke="#f7ec18"/><path d="M106.5 73.1L98.1 70.5L96.1 68.6L104.3 71.1Z" fill="#f7b533" stroke="#f7b533"/><path d="M86.2 85.0L80.5 82.1L78.6 80.6L83.9 83.2Z" fill="#f3a938" stroke="#f3a938"/><path d="M69.8 41.6L67.6 41.0L68.8 39.9L68.8 39.9Z" fill="#f8f713" stroke="#f8f713"/><path d="M104.3 71.1L96.1 68.6L94.1 66.6L102.1 69.1Z" fill="#f8ba31" stroke="#f8ba31"/><path d="M83.9 83.2L78.6 80.6L76.8 79.0L81.6 81.5Z" fill="#f4a938" stroke="#f4a938"/><path d="M102.1 69.1L94.1 66.6L92.2 64.7L99.8 67.0Z" fill="#f8be2f" stroke="#f8be2f"/><path d="M81.6 81.5L76.8 79.0L74.9 77.5L79.3 79.7Z" fill="#f5a938" stroke="#f5a938"/><path d="M99.8 67.0L92.2 64.7L90.2 62.8L97.6 65.0Z" fill="#f8c22c" stroke="#f8c22c"/><path d="M79.3 79.7L74.9 77.5L73.1 76.0L76.9 77.9Z" fill="#f5aa38" stroke="#f5aa38"/><path d="M398.7 85.0L393.4 82.3L395.3 80.5L400.1 83.0Z" fill="#f4a938" stroke="#f4a938"/><path d="M97.6 65.0L90.2 62.8L88.3 60.8L95.4 62.9Z" fill="#f8c62a" stroke="#f8c62a"/><path d="M76.9 77.9L73.1 76.0L71.4 74.5L74.5 76.1Z" fill="#f6aa38" stroke="#f6aa38"/><path d="M74.5 76.1L71.4 74.5L69.8 73.1L72.0 74.3Z" fill="#f6ad37" stroke="#f6ad37"/><path d="M95.4 62.9L88.3 60.8L86.3 58.9L93.1 60.9Z" fill="#f8ca27" stroke="#f8ca27"/><path d="M72.0 74.3L69.8 73.1L68.8 72.1L68.8 72.1Z" fill="#f7b135" stroke="#f7b135"/><path d="M93.1 60.9L86.3 58.9L84.4 56.9L90.9 58.8Z" fill="#f8cf25" stroke="#f8cf25"/><path d="M400.2 50.4L395.3 49.2L397.2 47.1L401.5 48.2Z" fill="#f7e81a" stroke="#f7e81a"/><path d="M90.9 58.8L84.4 56.9L82.5 55.0L88.6 56.8Z" fill="#f7d423" stroke="#f7d423"/><path d="M88.6 56.8L82.5 55.0L80.6 53.1L86.3 54.7Z" fill="#f7d921" stroke="#f7d921"/><path d="M86.3 54.7L80.6 53.1L78.7 51.1L84.0 52.7Z" fill="#f6de1f" stroke="#f6de1f"/><path d="M397.2 86.9L391.5 84.0L393.4 82.3L398.7 85.0Z" fill="#f3a938" stroke="#f3a938"/><path d="M84.0 52.7L78.7 51.1L76.8 49.2L81.7 50.6Z" fill="#f6e21d" stroke="#f6e21d"/><path d="M81.7 50.6L76.8 49.2L75.0 47.3L79.3 48.5Z" fill="#f7e71b" stroke="#f7e71b"/><path d="M79.3 48.5L75.0 47.3L73.2 45.4L77.0 46.5Z" fill="#f7eb19" stroke="#f7eb19"/><path d="M398.8 52.6L393.5 51.3L395.3 49.2L400.2 50.4Z" fill="#f6e41c" stroke="#f6e41c"/><path d="M77.0 46.5L73.2 45.4L71.4 43.5L74.5 44.4Z" fill="#f7ef17" stroke="#f7ef17"/><path d="M74.5 44.4L71.4 43.5L69.8 41.6L72.0 42.2Z" fill="#f8f315" stroke="#f8f315"/><path d="M395.7 88.8L389.6 85.8L391.5 84.0L397.2 86.9Z" fill="#f2a838" stroke="#f2a838"/><path d="M72.0 42.2L69.8 41.6L68.8 39.9L68.8 39.9Z" fill="#f8f712" stroke="#f8f712"/><path d="M397.3 54.8L391.6 53.3L393.5 51.3L398.8 52.6Z" fill="#f6e01e" stroke="#f6e01e"/><path d="M394.1 90.8L387.6 87.5L389.6 85.8L395.7 88.8Z" fill="#efa937" stroke="#efa937"/><path d="M74.2 75.4L72.0 74.3L68.8 72.1L68.8 72.1Z" fill="#f7b135" stroke="#f7b135"/><path d="M395.8 57.0L389.7 55.4L391.6 53.3L397.3 54.8Z" fill="#f7db20" stroke="#f7db20"/><path d="M392.5 92.7L385.7 89.3L387.6 87.5L394.1 90.8Z" fill="#e5ad36" stroke="#e5ad36"/><path d="M390.9 94.5L383.8 91.0L385.7 89.3L392.5 92.7Z" fill="#dbb034" stroke="#dbb034"/><path d="M394.2 59.2L387.8 57.5L389.7 55.4L395.8 57.0Z" fill="#f7d622" stroke="#f7d622"/><path d="M74.2 42.9L72.0 42.2L68.8 39.9L68.8 39.9Z" fill="#f8f712" stroke="#f8f712"/><path d="M389.2 96.4L381.8 92.7L383.8 91.0L390.9 94.5Z" fill="#d2b332" stroke="#d2b332"/><path d="M392.6 61.4L385.8 59.5L387.8 57.5L394.2 59.2Z" fill="#f8d124" stroke="#f8d124"/><path d="M387.5 98.3L379.8 94.4L381.8 92.7L389.2 96.4Z" fill="#c0b735" stroke="#c0b735"/><path d="M391.0 63.5L383.9 61.6L385.8 59.5L392.6 61.4Z" fill="#f8cc26" stroke="#f8cc26"/><path d="M385.8 100.1L377.9 96.2L379.8 94.4L387.5 98.3Z" fill="#acbc3a" stroke="#acbc3a"/><path d="M77.6 77.7L74.5 76.1L72.0 74.3L74.2 75.4Z" fill="#f6ad37" stroke="#f6ad37"/><path d="M389.3 65.7L382.0 63.6L383.9 61.6L391.0 63.5Z" fill="#f8c828" stroke="#f8c828"/><path d="M384.1 101.9L375.9 97.9L377.9 96.2L385.8 100.1Z" fill="#99c03e" stroke="#99c03e"/><path d="M387.6 67.8L380.0 65.7L382.0 63.6L389.3 65.7Z" fill="#f8c42b" stroke="#f8c42b"/><path d="M382.3 103.8L373.9 99.6L375.9 97.9L384.1 101.9Z" fill="#82c242" stroke="#82c242"/><path d="M386.0 70.0L378.1 67.7L380.0 65.7L387.6 67.8Z" fill="#f8c02d" stroke="#f8c02d"/><path d="M380.6 105.6L371.9 101.3L373.9 99.6L382.3 103.8Z" fill="#6ac346" stroke="#6ac346"/><path d="M77.6 45.3L74.5 44.4L72.0 42.2L74.2 42.9Z" fill="#f8f414" stroke="#f8f414"/><path d="M80.7 79.8L76.9 77.9L74.5 76.1L77.6 77.7Z" fill="#f6aa38" stroke="#f6aa38"/><path d="M384.2 72.1L376.1 69.7L378.1 67.7L386.0 70.0Z" fill="#f8bc30" stroke="#f8bc30"/><path d="M378.8 107.4L369.9 103.0L371.9 101.3L380.6 105.6Z" fill="#58c54b" stroke="#58c54b"/><path d="M382.5 74.2L374.1 71.8L376.1 69.7L384.2 72.1Z" fill="#f8b832" stroke="#f8b832"/><path d="M377.0 109.2L367.9 104.7L369.9 103.0L378.8 107.4Z" fill="#4ac651" stroke="#4ac651"/><path d="M380.8 76.4L372.1 73.8L374.1 71.8L382.5 74.2Z" fill="#f7b334" stroke="#f7b334"/><path d="M375.2 111.0L365.9 106.4L367.9 104.7L377.0 109.2Z" fill="#3cc757" stroke="#3cc757"/><path d="M83.6 81.9L79.3 79.7L76.9 77.9L80.7 79.8Z" fill="#f5aa38" stroke="#f5aa38"/><path d="M80.8 47.6L77.0 46.5L74.5 44.4L77.6 45.3Z" fill="#f7f016" stroke="#f7f016"/><path d="M379.0 78.5L370.2 75.9L372.1 73.8L380.8 76.4Z" fill="#f7af36" stroke="#f7af36"/><path d="M373.4 112.8L363.9 108.1L365.9 106.4L375.2 111.0Z" fill="#2ec85d" stroke="#2ec85d"/><path d="M377.2 80.6L368.2 77.9L370.2 75.9L379.0 78.5Z" fill="#f6aa38" stroke="#f6aa38"/><path d="M371.6 114.6L361.9 109.8L363.9 108.1L373.4 112.8Z" fill="#25c862" stroke="#25c862"/><path d="M86.5 83.9L81.6 81.5L79.3 79.7L83.6 81.9Z" fill="#f5a938" stroke="#f5a938"/><path d="M369.7 116.3L359.9 111.5L361.9 109.8L371.6 114.6Z" fill="#20c766" stroke="#20c766"/><path d="M375.5 82.8L366.2 80.0L368.2 77.9L377.2 80.6Z" fill="#f5aa38" stroke="#f5aa38"/><path d="M83.7 49.9L79.3 48.5L77.0 46.5L80.8 47.6Z" fill="#f7ec18" stroke="#f7ec18"/><path d="M367.9 118.1L357.9 113.2L359.9 111.5L369.7 116.3Z" fill="#1bc76a" stroke="#1bc76a"/><path d="M373.7 84.9L364.2 82.0L366.2 80.0L375.5 82.8Z" fill="#f5a938" stroke="#f5a938"/><path d="M89.2 85.9L83.9 83.2L81.6 81.5L86.5 83.9Z" fill="#f4a938" stroke="#f4a938"/><path d="M366.1 119.9L355.9 114.9L357.9 113.2L367.9 118.1Z" fill="#16c76d" stroke="#16c76d"/><path d="M371.9 87.0L362.2 84.0L364.2 82.0L373.7 84.9Z" fill="#f4a938" stroke="#f4a938"/><path d="M364.2 121.7L353.9 116.6L355.9 114.9L366.1 119.9Z" fill="#11c671" stroke="#11c671"/><path d="M370.0 89.2L360.2 86.1L362.2 84.0L371.9 87.0Z" fill="#f3a938" stroke="#f3a938"/><path d="M86.6 52.2L81.7 50.6L79.3 48.5L83.7 49.9Z" fill="#f7e81a" stroke="#f7e81a"/><path d="M362.3 123.4L351.8 118.3L353.9 116.6L364.2 121.7Z" fill="#10c577" stroke="#10c577"/><path d="M91.9 87.8L86.2 85.0L83.9 83.2L89.2 85.9Z" fill="#f3a938" stroke="#f3a938"/><path d="M368.2 91.3L358.2 88.1L360.2 86.1L370.0 89.2Z" fill="#f2a838" stroke="#f2a838"/><path d="M360.5 125.2L349.8 120.0L351.8 118.3L362.3 123.4Z" fill="#10c47e" stroke="#10c47e"/><path d="M366.4 93.4L356.2 90.2L358.2 88.1L368.2 91.3Z" fill="#eaab37" stroke="#eaab37"/><path d="M358.6 126.9L347.8 121.7L349.8 120.0L360.5 125.2Z" fill="#10c386" stroke="#10c386"/><path d="M94.6 89.7L88.5 86.7L86.2 85.0L91.9 87.8Z" fill="#f3a838" stroke="#f3a838"/><path d="M89.3 54.4L84.0 52.7L81.7 50.6L86.6 52.2Z" fill="#f6e41c" stroke="#f6e41c"/><path d="M364.5 95.5L354.2 92.2L356.2 90.2L366.4 93.4Z" fill="#dfaf35" stroke="#dfaf35"/><path d="M356.7 128.7L345.8 123.4L347.8 121.7L358.6 126.9Z" fill="#10c18d" stroke="#10c18d"/><path d="M362.7 97.6L352.2 94.2L354.2 92.2L364.5 95.5Z" fill="#d3b333" stroke="#d3b333"/><path d="M354.8 130.4L343.7 125.1L345.8 123.4L356.7 128.7Z" fill="#10c094" stroke="#10c094"/><path d="M97.2 91.6L90.7 88.4L88.5 86.7L94.6 89.7Z" fill="#f2a838" stroke="#f2a838"/><path d="M360.8 99.7L350.2 96.3L352.2 94.2L362.7 97.6Z" fill="#bfb836" stroke="#bfb836"/><path d="M92.0 56.6L86.3 54.7L84.0 52.7L89.3 54.4Z" fill="#f6df1e" stroke="#f6df1e"/><path d="M352.9 132.2L341.7 126.7L343.7 125.1L354.8 130.4Z" fill="#10bf97" stroke="#10bf97"/><path d="M359.0 101.9L348.2 98.3L350.2 96.3L360.8 99.7Z" fill="#a7bd3b" stroke="#a7bd3b"/><path d="M351.0 133.9L339.6 128.4L341.7 126.7L352.9 132.2Z" fill="#10be9b" stroke="#10be9b"/><path d="M99.7 93.5L93.0 90.2L90.7 88.4L97.2 91.6Z" fill="#e8ac36" stroke="#e8ac36"/><path d="M357.1 104.0L346.2 100.3L348.2 98.3L359.0 101.9Z" fill="#8ec140" stroke="#8ec140"/><path d="M349.1 135.7L337.6 130.1L339.6 128.4L351.0 133.9Z" fill="#10bc9e" stroke="#10bc9e"/><path d="M94.7 58.8L88.6 56.8L86.3 54.7L92.0 56.6Z" fill="#f7da20" stroke="#f7da20"/><path d="M355.2 106.1L344.1 102.4L346.2 100.3L357.1 104.0Z" fill="#72c345" stroke="#72c345"/><path d="M347.2 137.4L335.6 131.8L337.6 130.1L349.1 135.7Z" fill="#10bba2" stroke="#10bba2"/><path d="M102.3 95.4L95.2 91.9L93.0 90.2L99.7 93.5Z" fill="#deaf35" stroke="#deaf35"/><path d="M353.3 108.2L342.1 104.4L344.1 102.4L355.2 106.1Z" fill="#5ac44b" stroke="#5ac44b"/><path d="M345.2 139.1L333.5 133.5L335.6 131.8L347.2 137.4Z" fill="#10baa5" stroke="#10baa5"/><path d="M97.3 61.0L90.9 58.8L88.6 56.8L94.7 58.8Z" fill="#f7d522" stroke="#f7d522"/><path d="M351.4 110.3L340.1 106.4L342.1 104.4L353.3 108.2Z" fill="#49c652" stroke="#49c652"/><path d="M343.3 140.9L331.5 135.2L333.5 133.5L345.2 139.1Z" fill="#10b9a9" stroke="#10b9a9"/><path d="M104.8 97.2L97.4 93.6L95.2 91.9L102.3 95.4Z" fill="#d4b233" stroke="#d4b233"/><path d="M341.4 142.6L329.4 136.8L331.5 135.2L343.3 140.9Z" fill="#10b7ac" stroke="#10b7ac"/><path d="M349.5 112.4L338.1 108.5L340.1 106.4L351.4 110.3Z" fill="#38c759" stroke="#38c759"/><path d="M339.4 144.3L327.4 138.5L329.4 136.8L341.4 142.6Z" fill="#10b6b0" stroke="#10b6b0"/><path d="M347.6 114.5L336.1 110.5L338.1 108.5L349.5 112.4Z" fill="#28c860" stroke="#28c860"/><path d="M99.9 63.2L93.1 60.9L90.9 58.8L97.3 61.0Z" fill="#f8d024" stroke="#f8d024"/><path d="M107.3 99.1L99.6 95.3L97.4 93.6L104.8 97.2Z" fill="#c5b634" stroke="#c5b634"/><path d="M337.5 146.0L325.3 140.2L327.4 138.5L339.4 144.3Z" fill="#10b4b3" stroke="#10b4b3"/><path d="M345.7 116.6L334.0 112.5L336.1 110.5L347.6 114.5Z" fill="#21c765" stroke="#21c765"/><path d="M335.5 147.8L323.3 141.9L325.3 140.2L337.5 146.0Z" fill="#10b3b6" stroke="#10b3b6"/><path d="M343.8 118.7L332.0 114.6L334.0 112.5L345.7 116.6Z" fill="#1bc769" stroke="#1bc769"/><path d="M109.7 100.9L101.9 97.0L99.6 95.3L107.3 99.1Z" fill="#b2ba38" stroke="#b2ba38"/><path d="M102.5 65.4L95.4 62.9L93.1 60.9L99.9 63.2Z" fill="#f8cc26" stroke="#f8cc26"/><path d="M333.6 149.5L321.2 143.6L323.3 141.9L335.5 147.8Z" fill="#10b1b9" stroke="#10b1b9"/><path d="M341.9 120.8L330.0 116.6L332.0 114.6L343.8 118.7Z" fill="#15c66e" stroke="#15c66e"/><path d="M331.6 151.2L319.2 145.2L321.2 143.6L333.6 149.5Z" fill="#10afbc" stroke="#10afbc"/><path d="M339.9 122.9L327.9 118.6L330.0 116.6L341.9 120.8Z" fill="#10c673" stroke="#10c673"/><path d="M112.2 102.7L104.1 98.7L101.9 97.0L109.7 100.9Z" fill="#9ebf3d" stroke="#9ebf3d"/><path d="M329.6 152.9L317.1 146.9L319.2 145.2L331.6 151.2Z" fill="#10adbf" stroke="#10adbf"/><path d="M105.0 67.6L97.6 65.0L95.4 62.9L102.5 65.4Z" fill="#f8c729" stroke="#f8c729"/><path d="M338.0 125.0L325.9 120.7L327.9 118.6L339.9 122.9Z" fill="#10c47c" stroke="#10c47c"/><path d="M327.7 154.6L315.1 148.6L317.1 146.9L329.6 152.9Z" fill="#10acc2" stroke="#10acc2"/><path d="M336.1 127.1L323.9 122.7L325.9 120.7L338.0 125.0Z" fill="#10c384" stroke="#10c384"/><path d="M114.6 104.5L106.3 100.4L104.1 98.7L112.2 102.7Z" fill="#88c141" stroke="#88c141"/><path d="M325.7 156.3L313.0 150.3L315.1 148.6L327.7 154.6Z" fill="#10aac5" stroke="#10aac5"/><path d="M334.1 129.2L321.8 124.7L323.9 122.7L336.1 127.1Z" fill="#10c18d" stroke="#10c18d"/><path d="M107.5 69.7L99.8 67.0L97.6 65.0L105.0 67.6Z" fill="#f8c32b" stroke="#f8c32b"/><path d="M323.7 158.0L310.9 151.9L313.0 150.3L325.7 156.3Z" fill="#10a8c8" stroke="#10a8c8"/><path d="M117.1 106.3L108.5 102.1L106.3 100.4L114.6 104.5Z" fill="#71c345" stroke="#71c345"/><path d="M332.2 131.3L319.8 126.8L321.8 124.7L334.1 129.2Z" fill="#10c095" stroke="#10c095"/><path d="M321.7 159.7L308.9 153.6L310.9 151.9L323.7 158.0Z" fill="#12a4cc" stroke="#12a4cc"/><path d="M330.2 133.4L317.7 128.8L319.8 126.8L332.2 131.3Z" fill="#10be99" stroke="#10be99"/><path d="M319.7 161.4L306.8 155.3L308.9 153.6L321.7 159.7Z" fill="#149fd0" stroke="#149fd0"/><path d="M110.0 71.9L102.1 69.1L99.8 67.0L107.5 69.7Z" fill="#f8bf2e" stroke="#f8bf2e"/><path d="M119.5 108.1L110.6 103.8L108.5 102.1L117.1 106.3Z" fill="#5cc44a" stroke="#5cc44a"/><path d="M328.3 135.4L315.7 130.8L317.7 128.8L330.2 133.4Z" fill="#10bd9d" stroke="#10bd9d"/><path d="M317.7 163.1L304.7 156.9L306.8 155.3L319.7 161.4Z" fill="#169ad5" stroke="#169ad5"/><path d="M315.7 164.8L302.7 158.6L304.7 156.9L317.7 163.1Z" fill="#1895d9" stroke="#1895d9"/><path d="M326.3 137.5L313.6 132.9L315.7 130.8L328.3 135.4Z" fill="#10bba1" stroke="#10bba1"/><path d="M313.7 166.5L300.6 160.3L302.7 158.6L315.7 164.8Z" fill="#1a90de" stroke="#1a90de"/><path d="M121.9 109.9L112.8 105.5L110.6 103.8L119.5 108.1Z" fill="#4ec550" stroke="#4ec550"/><path d="M324.3 139.6L311.6 134.9L313.6 132.9L326.3 137.5Z" fill="#10baa6" stroke="#10baa6"/><path d="M112.4 74.0L104.3 71.1L102.1 69.1L110.0 71.9Z" fill="#f8bb30" stroke="#f8bb30"/><path d="M311.7 168.2L298.5 161.9L300.6 160.3L313.7 166.5Z" fill="#1c8be2" stroke="#1c8be2"/><path d="M322.4 141.7L309.5 136.9L311.6 134.9L324.3 139.6Z" fill="#10b8aa" stroke="#10b8aa"/><path d="M309.7 169.9L296.5 163.6L298.5 161.9L311.7 168.2Z" fill="#1e86e7" stroke="#1e86e7"/><path d="M124.2 111.7L115.0 107.2L112.8 105.5L121.9 109.9Z" fill="#40c656" stroke="#40c656"/><path d="M320.4 143.8L307.5 139.0L309.5 136.9L322.4 141.7Z" fill="#10b7ae" stroke="#10b7ae"/><path d="M114.9 76.2L106.5 73.1L104.3 71.1L112.4 74.0Z" fill="#f7b732" stroke="#f7b732"/><path d="M307.7 171.6L294.4 165.3L296.5 163.6L309.7 169.9Z" fill="#2081eb" stroke="#2081eb"/><path d="M318.4 145.9L305.4 141.0L307.5 139.0L320.4 143.8Z" fill="#10b5b2" stroke="#10b5b2"/><path d="M305.7 173.3L292.3 166.9L294.4 165.3L307.7 171.6Z" fill="#237cec" stroke="#237cec"/><path d="M316.4 147.9L303.4 143.0L305.4 141.0L318.4 145.9Z" fill="#10b3b6" stroke="#10b3b6"/><path d="M126.6 113.5L117.2 108.9L115.0 107.2L124.2 111.7Z" fill="#32c75c" stroke="#32c75c"/><path d="M303.7 175.0L290.3 168.6L292.3 166.9L305.7 173.3Z" fill="#2677ec" stroke="#2677ec"/><path d="M314.4 150.0L301.3 145.0L303.4 143.0L316.4 147.9Z" fill="#10b0b9" stroke="#10b0b9"/><path d="M301.6 176.7L288.2 170.3L290.3 168.6L303.7 175.0Z" fill="#2972ec" stroke="#2972ec"/><path d="M117.3 78.3L108.7 75.2L106.5 73.1L114.9 76.2Z" fill="#f7b234" stroke="#f7b234"/><path d="M312.5 152.1L299.3 147.1L301.3 145.0L314.4 150.0Z" fill="#10aebd" stroke="#10aebd"/><path d="M299.6 178.3L286.1 171.9L288.2 170.3L301.6 176.7Z" fill="#2c6dec" stroke="#2c6dec"/><path d="M129.0 115.2L119.4 110.6L117.2 108.9L126.6 113.5Z" fill="#26c861" stroke="#26c861"/><path d="M297.6 180.0L284.0 173.6L286.1 171.9L299.6 178.3Z" fill="#3068ec" stroke="#3068ec"/><path d="M310.5 154.2L297.2 149.1L299.3 147.1L312.5 152.1Z" fill="#10acc1" stroke="#10acc1"/><path d="M295.5 181.7L281.9 175.3L284.0 173.6L297.6 180.0Z" fill="#3363ec" stroke="#3363ec"/><path d="M308.5 156.3L295.2 151.1L297.2 149.1L310.5 154.2Z" fill="#10aac4" stroke="#10aac4"/><path d="M119.8 80.5L110.9 77.2L108.7 75.2L117.3 78.3Z" fill="#f6ae36" stroke="#f6ae36"/><path d="M131.3 117.0L121.5 112.3L119.4 110.6L129.0 115.2Z" fill="#21c765" stroke="#21c765"/><path d="M293.5 183.4L279.9 176.9L281.9 175.3L295.5 181.7Z" fill="#365eec" stroke="#365eec"/><path d="M306.5 158.3L293.1 153.1L295.2 151.1L308.5 156.3Z" fill="#10a8c8" stroke="#10a8c8"/><path d="M291.5 185.0L277.8 178.6L279.9 176.9L293.5 183.4Z" fill="#3959ec" stroke="#3959ec"/><path d="M304.5 160.4L291.1 155.2L293.1 153.1L306.5 158.3Z" fill="#12a2ce" stroke="#12a2ce"/><path d="M289.4 186.7L275.7 180.3L277.8 178.6L291.5 185.0Z" fill="#3b56eb" stroke="#3b56eb"/><path d="M302.4 162.5L289.0 157.2L291.1 155.2L304.5 160.4Z" fill="#159cd3" stroke="#159cd3"/><path d="M287.4 188.4L273.6 181.9L275.7 180.3L289.4 186.7Z" fill="#3d53e9" stroke="#3d53e9"/><path d="M133.7 118.8L123.7 113.9L121.5 112.3L131.3 117.0Z" fill="#1cc769" stroke="#1cc769"/><path d="M122.2 82.6L113.1 79.2L110.9 77.2L119.8 80.5Z" fill="#f6aa38" stroke="#f6aa38"/><path d="M285.3 190.1L271.5 183.6L273.6 181.9L287.4 188.4Z" fill="#3f50e8" stroke="#3f50e8"/><path d="M300.4 164.6L286.9 159.2L289.0 157.2L302.4 162.5Z" fill="#1796d9" stroke="#1796d9"/><path d="M283.3 191.7L269.4 185.2L271.5 183.6L285.3 190.1Z" fill="#414ee6" stroke="#414ee6"/><path d="M298.4 166.6L284.9 161.3L286.9 159.2L300.4 164.6Z" fill="#1a90de" stroke="#1a90de"/><path d="M281.2 193.4L267.3 186.9L269.4 185.2L283.3 191.7Z" fill="#434be5" stroke="#434be5"/><path d="M296.4 168.7L282.8 163.3L284.9 161.3L298.4 166.6Z" fill="#1c89e4" stroke="#1c89e4"/><path d="M279.1 195.1L265.3 188.6L267.3 186.9L281.2 193.4Z" fill="#4548e3" stroke="#4548e3"/><path d="M136.0 120.5L125.9 115.6L123.7 113.9L133.7 118.8Z" fill="#17c76c" stroke="#17c76c"/><path d="M277.1 196.7L263.2 190.2L265.3 188.6L279.1 195.1Z" fill="#4746e2" stroke="#4746e2"/><path d="M294.4 170.8L280.7 165.3L282.8 163.3L296.4 168.7Z" fill="#1f83e9" stroke="#1f83e9"/><path d="M124.6 84.7L115.3 81.3L113.1 79.2L122.2 82.6Z" fill="#f5aa38" stroke="#f5aa38"/><path d="M275.0 198.4L261.1 191.9L263.2 190.2L277.1 196.7Z" fill="#4943e0" stroke="#4943e0"/><path d="M272.9 200.1L259.0 193.5L261.1 191.9L275.0 198.4Z" fill="#4840dc" stroke="#4840dc"/><path d="M292.3 172.8L278.7 167.3L280.7 165.3L294.4 170.8Z" fill="#227dec" stroke="#227dec"/><path d="M270.8 201.7L256.9 195.2L259.0 193.5L272.9 200.1Z" fill="#463cd5" stroke="#463cd5"/><path d="M268.8 203.4L254.8 196.8L256.9 195.2L270.8 201.7Z" fill="#4439cf" stroke="#4439cf"/><path d="M290.3 174.9L276.6 169.3L278.7 167.3L292.3 172.8Z" fill="#2677ec" stroke="#2677ec"/><path d="M266.7 205.0L252.7 198.5L254.8 196.8L268.8 203.4Z" fill="#4135c9" stroke="#4135c9"/><path d="M264.6 206.7L250.6 200.2L252.7 198.5L266.7 205.0Z" fill="#3f32c2" stroke="#3f32c2"/><path d="M138.3 122.3L128.0 117.3L125.9 115.6L136.0 120.5Z" fill="#12c670" stroke="#12c670"/><path d="M262.5 208.3L248.5 201.8L250.6 200.2L264.6 206.7Z" fill="#3d2fbc" stroke="#3d2fbc"/><path d="M256.2 213.2L242.2 206.7L244.3 205.1L258.3 211.6Z" fill="#3828b0" stroke="#3828b0"/><path d="M260.4 210.0L246.4 203.5L248.5 201.8L262.5 208.3Z" fill="#3a2bb6" stroke="#3a2bb6"/><path d="M258.3 211.6L244.3 205.1L246.4 203.5L260.4 210.0Z" fill="#3828b0" stroke="#3828b0"/><path d="M288.3 176.9L274.5 171.4L276.6 169.3L290.3 174.9Z" fill="#2a71ec" stroke="#2a71ec"/><path d="M286.2 179.0L272.5 173.4L274.5 171.4L288.3 176.9Z" fill="#2e6bec" stroke="#2e6bec"/><path d="M256.2 213.2L242.2 206.7L240.1 205.1L254.1 211.6Z" fill="#3828b0" stroke="#3828b0"/><path d="M284.2 181.1L270.4 175.4L272.5 173.4L286.2 179.0Z" fill="#3265ec" stroke="#3265ec"/><path d="M127.0 86.9L117.5 83.3L115.3 81.3L124.6 84.7Z" fill="#f4a938" stroke="#f4a938"/><path d="M282.1 183.1L268.3 177.4L270.4 175.4L284.2 181.1Z" fill="#365fec" stroke="#365fec"/><path d="M280.1 185.2L266.2 179.5L268.3 177.4L282.1 183.1Z" fill="#3a59ec" stroke="#3a59ec"/><path d="M140.6 124.0L130.2 119.0L128.0 117.3L138.3 122.3Z" fill="#10c576" stroke="#10c576"/><path d="M278.0 187.2L264.2 181.5L266.2 179.5L280.1 185.2Z" fill="#3c55ea" stroke="#3c55ea"/><path d="M254.1 211.6L240.1 205.1L238.0 203.5L252.0 209.9Z" fill="#3828b0" stroke="#3828b0"/><path d="M257.3 207.7L243.3 201.7L245.4 199.7L259.4 205.7Z" fill="#3d30be" stroke="#3d30be"/><path d="M276.0 189.3L262.1 183.5L264.2 181.5L278.0 187.2Z" fill="#3f52e9" stroke="#3f52e9"/><path d="M259.4 205.7L245.4 199.7L247.5 197.6L261.5 203.6Z" fill="#4034c6" stroke="#4034c6"/><path d="M273.9 191.3L260.0 185.5L262.1 183.5L276.0 189.3Z" fill="#414ee7" stroke="#414ee7"/><path d="M261.5 203.6L247.5 197.6L249.6 195.6L263.6 201.6Z" fill="#4338ce" stroke="#4338ce"/><path d="M271.9 193.4L257.9 187.6L260.0 185.5L273.9 191.3Z" fill="#434be5" stroke="#434be5"/><path d="M263.6 201.6L249.6 195.6L251.7 193.6L265.7 199.5Z" fill="#463cd6" stroke="#463cd6"/><path d="M269.8 195.4L255.8 189.6L257.9 187.6L271.9 193.4Z" fill="#4648e3" stroke="#4648e3"/><path d="M257.3 207.7L243.3 201.7L241.2 200.2L255.2 207.2Z" fill="#3d2fbc" stroke="#3d2fbc"/><path d="M265.7 199.5L251.7 193.6L253.8 191.6L267.7 197.5Z" fill="#4941dd" stroke="#4941dd"/><path d="M267.7 197.5L253.8 191.6L255.8 189.6L269.8 195.4Z" fill="#4844e1" stroke="#4844e1"/><path d="M252.0 209.9L238.0 203.5L236.0 201.8L249.9 208.3Z" fill="#3a2bb6" stroke="#3a2bb6"/><path d="M129.3 89.0L119.7 85.3L117.5 83.3L127.0 86.9Z" fill="#f4a938" stroke="#f4a938"/><path d="M143.0 125.8L132.3 120.7L130.2 119.0L140.6 124.0Z" fill="#10c47d" stroke="#10c47d"/><path d="M255.2 207.2L241.2 200.2L239.2 198.2L253.1 205.1Z" fill="#3f32c2" stroke="#3f32c2"/><path d="M249.9 208.3L236.0 201.8L233.9 200.2L247.9 206.7Z" fill="#3d2fbc" stroke="#3d2fbc"/><path d="M145.3 127.5L134.5 122.3L132.3 120.7L143.0 125.8Z" fill="#10c384" stroke="#10c384"/><path d="M253.1 205.1L239.2 198.2L237.1 196.2L251.0 203.1Z" fill="#4236ca" stroke="#4236ca"/><path d="M131.7 91.1L121.9 87.4L119.7 85.3L129.3 89.0Z" fill="#f3a838" stroke="#f3a838"/><path d="M247.9 206.7L233.9 200.2L231.8 198.5L245.8 205.0Z" fill="#3f32c3" stroke="#3f32c3"/><path d="M147.5 129.3L136.6 124.0L134.5 122.3L145.3 127.5Z" fill="#10c28b" stroke="#10c28b"/><path d="M251.0 203.1L237.1 196.2L235.0 194.2L248.9 201.1Z" fill="#453ad2" stroke="#453ad2"/><path d="M245.8 205.0L231.8 198.5L229.7 196.9L243.7 203.4Z" fill="#4136c9" stroke="#4136c9"/><path d="M134.1 93.2L124.1 89.4L121.9 87.4L131.7 91.1Z" fill="#f2a838" stroke="#f2a838"/><path d="M243.7 203.4L229.7 196.9L227.6 195.3L241.6 201.7Z" fill="#4439cf" stroke="#4439cf"/><path d="M149.8 131.0L138.8 125.7L136.6 124.0L147.5 129.3Z" fill="#10c092" stroke="#10c092"/><path d="M248.9 201.1L235.0 194.2L232.9 192.2L246.8 199.0Z" fill="#483fda" stroke="#483fda"/><path d="M241.6 201.7L227.6 195.3L225.5 193.6L239.4 200.1Z" fill="#463cd6" stroke="#463cd6"/><path d="M152.1 132.7L140.9 127.4L138.8 125.7L149.8 131.0Z" fill="#10bf97" stroke="#10bf97"/><path d="M136.4 95.4L126.2 91.4L124.1 89.4L134.1 93.2Z" fill="#e7ac36" stroke="#e7ac36"/><path d="M246.8 199.0L232.9 192.2L230.8 190.2L244.7 197.0Z" fill="#4a43e0" stroke="#4a43e0"/><path d="M239.4 200.1L225.5 193.6L223.4 192.0L237.3 198.4Z" fill="#4940dc" stroke="#4940dc"/><path d="M154.4 134.5L143.1 129.0L140.9 127.4L152.1 132.7Z" fill="#10be9a" stroke="#10be9a"/><path d="M244.7 197.0L230.8 190.2L228.7 188.1L242.6 195.0Z" fill="#4746e2" stroke="#4746e2"/><path d="M237.3 198.4L223.4 192.0L221.3 190.3L235.2 196.8Z" fill="#4943e1" stroke="#4943e1"/><path d="M138.7 97.5L128.4 93.4L126.2 91.4L136.4 95.4Z" fill="#dcb034" stroke="#dcb034"/><path d="M156.7 136.2L145.2 130.7L143.1 129.0L154.4 134.5Z" fill="#10bd9e" stroke="#10bd9e"/><path d="M235.2 196.8L221.3 190.3L219.3 188.7L233.1 195.1Z" fill="#4746e2" stroke="#4746e2"/><path d="M242.6 195.0L228.7 188.1L226.6 186.1L240.5 192.9Z" fill="#4549e4" stroke="#4549e4"/><path d="M158.9 137.9L147.4 132.4L145.2 130.7L156.7 136.2Z" fill="#10bba1" stroke="#10bba1"/><path d="M141.1 99.6L130.6 95.5L128.4 93.4L138.7 97.5Z" fill="#d0b432" stroke="#d0b432"/><path d="M233.1 195.1L219.3 188.7L217.2 187.0L231.0 193.5Z" fill="#4549e4" stroke="#4549e4"/><path d="M240.5 192.9L226.6 186.1L224.5 184.1L238.4 190.9Z" fill="#424de6" stroke="#424de6"/><path d="M231.0 193.5L217.2 187.0L215.1 185.4L228.9 191.8Z" fill="#434be5" stroke="#434be5"/><path d="M161.2 139.6L149.5 134.0L147.4 132.4L158.9 137.9Z" fill="#10baa5" stroke="#10baa5"/><path d="M238.4 190.9L224.5 184.1L222.3 182.1L236.2 188.9Z" fill="#4050e8" stroke="#4050e8"/><path d="M143.4 101.7L132.8 97.5L130.6 95.5L141.1 99.6Z" fill="#b8b937" stroke="#b8b937"/><path d="M228.9 191.8L215.1 185.4L213.0 183.7L226.7 190.2Z" fill="#414ee7" stroke="#414ee7"/><path d="M163.4 141.3L151.6 135.7L149.5 134.0L161.2 139.6Z" fill="#10b9a8" stroke="#10b9a8"/><path d="M226.7 190.2L213.0 183.7L210.9 182.1L224.6 188.5Z" fill="#3f51e8" stroke="#3f51e8"/><path d="M236.2 188.9L222.3 182.1L220.2 180.1L234.1 186.8Z" fill="#3d53ea" stroke="#3d53ea"/><path d="M165.7 143.1L153.8 137.4L151.6 135.7L163.4 141.3Z" fill="#10b8ac" stroke="#10b8ac"/><path d="M145.7 103.8L134.9 99.5L132.8 97.5L143.4 101.7Z" fill="#a0be3c" stroke="#a0be3c"/><path d="M224.6 188.5L210.9 182.1L208.8 180.4L222.5 186.8Z" fill="#3d53ea" stroke="#3d53ea"/><path d="M167.9 144.8L155.9 139.0L153.8 137.4L165.7 143.1Z" fill="#10b6af" stroke="#10b6af"/><path d="M234.1 186.8L220.2 180.1L218.1 178.1L232.0 184.8Z" fill="#3b57eb" stroke="#3b57eb"/><path d="M222.5 186.8L208.8 180.4L206.7 178.8L220.3 185.2Z" fill="#3b56eb" stroke="#3b56eb"/><path d="M170.1 146.5L158.0 140.7L155.9 139.0L167.9 144.8Z" fill="#10b5b2" stroke="#10b5b2"/><path d="M148.0 105.9L137.1 101.5L134.9 99.5L145.7 103.8Z" fill="#86c141" stroke="#86c141"/><path d="M220.3 185.2L206.7 178.8L204.6 177.1L218.2 183.5Z" fill="#395aec" stroke="#395aec"/><path d="M232.0 184.8L218.1 178.1L216.0 176.1L229.8 182.7Z" fill="#375cec" stroke="#375cec"/><path d="M172.4 148.2L160.2 142.4L158.0 140.7L170.1 146.5Z" fill="#10b3b5" stroke="#10b3b5"/><path d="M218.2 183.5L204.6 177.1L202.5 175.5L216.1 181.9Z" fill="#365fec" stroke="#365fec"/><path d="M216.1 181.9L202.5 175.5L200.4 173.8L213.9 180.2Z" fill="#3264ec" stroke="#3264ec"/><path d="M174.6 149.9L162.3 144.0L160.2 142.4L172.4 148.2Z" fill="#10b1b8" stroke="#10b1b8"/><path d="M150.3 108.0L139.2 103.6L137.1 101.5L148.0 105.9Z" fill="#69c346" stroke="#69c346"/><path d="M229.8 182.7L216.0 176.1L213.9 174.1L227.7 180.7Z" fill="#3362ec" stroke="#3362ec"/><path d="M213.9 180.2L200.4 173.8L198.3 172.2L211.8 178.5Z" fill="#2f69ec" stroke="#2f69ec"/><path d="M176.8 151.6L164.4 145.7L162.3 144.0L174.6 149.9Z" fill="#10afbb" stroke="#10afbb"/><path d="M211.8 178.5L198.3 172.2L196.2 170.5L209.6 176.9Z" fill="#2c6eec" stroke="#2c6eec"/><path d="M179.0 153.3L166.6 147.3L164.4 145.7L176.8 151.6Z" fill="#10aebe" stroke="#10aebe"/><path d="M227.7 180.7L213.9 174.1L211.8 172.1L225.6 178.6Z" fill="#2f68ec" stroke="#2f68ec"/><path d="M209.6 176.9L196.2 170.5L194.1 168.9L207.4 175.2Z" fill="#2973ec" stroke="#2973ec"/><path d="M152.6 110.1L141.4 105.6L139.2 103.6L150.3 108.0Z" fill="#54c54d" stroke="#54c54d"/><path d="M181.2 155.0L168.7 149.0L166.6 147.3L179.0 153.3Z" fill="#10acc1" stroke="#10acc1"/><path d="M207.4 175.2L194.1 168.9L191.9 167.2L205.3 173.5Z" fill="#2578ec" stroke="#2578ec"/><path d="M183.5 156.7L170.8 150.7L168.7 149.0L181.2 155.0Z" fill="#10aac4" stroke="#10aac4"/><path d="M205.3 173.5L191.9 167.2L189.8 165.6L203.1 171.8Z" fill="#227dec" stroke="#227dec"/><path d="M185.7 158.4L172.9 152.3L170.8 150.7L183.5 156.7Z" fill="#10a9c7" stroke="#10a9c7"/><path d="M203.1 171.8L189.8 165.6L187.7 163.9L201.0 170.2Z" fill="#1f82eb" stroke="#1f82eb"/><path d="M225.6 178.6L211.8 172.1L209.7 170.1L223.4 176.6Z" fill="#2c6eec" stroke="#2c6eec"/><path d="M187.9 160.1L175.0 154.0L172.9 152.3L185.7 158.4Z" fill="#11a4cb" stroke="#11a4cb"/><path d="M201.0 170.2L187.7 163.9L185.6 162.3L198.8 168.5Z" fill="#1d87e6" stroke="#1d87e6"/><path d="M190.0 161.7L177.2 155.6L175.0 154.0L187.9 160.1Z" fill="#139fd0" stroke="#139fd0"/><path d="M198.8 168.5L185.6 162.3L183.5 160.6L196.6 166.8Z" fill="#1b8ce2" stroke="#1b8ce2"/><path d="M192.2 163.4L179.3 157.3L177.2 155.6L190.0 161.7Z" fill="#159ad4" stroke="#159ad4"/><path d="M154.9 112.2L143.6 107.6L141.4 105.6L152.6 110.1Z" fill="#43c654" stroke="#43c654"/><path d="M196.6 166.8L183.5 160.6L181.4 159.0L194.4 165.1Z" fill="#1991dd" stroke="#1991dd"/><path d="M194.4 165.1L181.4 159.0L179.3 157.3L192.2 163.4Z" fill="#1795d9" stroke="#1795d9"/><path d="M223.4 176.6L209.7 170.1L207.6 168.1L221.3 174.5Z" fill="#2874ec" stroke="#2874ec"/><path d="M157.2 114.3L145.7 109.6L143.6 107.6L154.9 112.2Z" fill="#32c75c" stroke="#32c75c"/><path d="M221.3 174.5L207.6 168.1L205.5 166.1L219.1 172.5Z" fill="#247bec" stroke="#247bec"/><path d="M159.5 116.4L147.9 111.7L145.7 109.6L157.2 114.3Z" fill="#26c862" stroke="#26c862"/><path d="M219.1 172.5L205.5 166.1L203.3 164.1L217.0 170.4Z" fill="#2081eb" stroke="#2081eb"/><path d="M161.7 118.5L150.0 113.7L147.9 111.7L159.5 116.4Z" fill="#1fc766" stroke="#1fc766"/><path d="M217.0 170.4L203.3 164.1L201.2 162.0L214.8 168.4Z" fill="#1d87e6" stroke="#1d87e6"/><path d="M214.8 168.4L201.2 162.0L199.1 160.0L212.6 166.3Z" fill="#1b8de0" stroke="#1b8de0"/><path d="M164.0 120.6L152.2 115.7L150.0 113.7L161.7 118.5Z" fill="#19c76b" stroke="#19c76b"/><path d="M212.6 166.3L199.1 160.0L197.0 158.0L210.5 164.3Z" fill="#1893db" stroke="#1893db"/><path d="M166.3 122.7L154.3 117.7L152.2 115.7L164.0 120.6Z" fill="#13c670" stroke="#13c670"/><path d="M210.5 164.3L197.0 158.0L194.9 156.0L208.3 162.2Z" fill="#1699d5" stroke="#1699d5"/><path d="M168.5 124.8L156.5 119.7L154.3 117.7L166.3 122.7Z" fill="#10c576" stroke="#10c576"/><path d="M208.3 162.2L194.9 156.0L192.8 154.0L206.1 160.1Z" fill="#149fd0" stroke="#149fd0"/><path d="M170.8 126.9L158.6 121.8L156.5 119.7L168.5 124.8Z" fill="#10c47f" stroke="#10c47f"/><path d="M206.1 160.1L192.8 154.0L190.6 152.0L203.9 158.1Z" fill="#11a5ca" stroke="#11a5ca"/><path d="M173.0 129.0L160.8 123.8L158.6 121.8L170.8 126.9Z" fill="#10c287" stroke="#10c287"/><path d="M203.9 158.1L190.6 152.0L188.5 150.0L201.8 156.0Z" fill="#10a9c6" stroke="#10a9c6"/><path d="M175.2 131.1L162.9 125.8L160.8 123.8L173.0 129.0Z" fill="#10c190" stroke="#10c190"/><path d="M201.8 156.0L188.5 150.0L186.4 148.0L199.6 153.9Z" fill="#10abc2" stroke="#10abc2"/><path d="M177.5 133.2L165.1 127.8L162.9 125.8L175.2 131.1Z" fill="#10bf96" stroke="#10bf96"/><path d="M199.6 153.9L186.4 148.0L184.3 146.0L197.4 151.9Z" fill="#10adbf" stroke="#10adbf"/><path d="M179.7 135.3L167.2 129.8L165.1 127.8L177.5 133.2Z" fill="#10be9b" stroke="#10be9b"/><path d="M197.4 151.9L184.3 146.0L182.1 143.9L195.2 149.8Z" fill="#10b0bb" stroke="#10b0bb"/><path d="M181.9 137.3L169.3 131.8L167.2 129.8L179.7 135.3Z" fill="#10bc9f" stroke="#10bc9f"/><path d="M195.2 149.8L182.1 143.9L180.0 141.9L193.0 147.7Z" fill="#10b2b7" stroke="#10b2b7"/><path d="M184.1 139.4L171.5 133.9L169.3 131.8L181.9 137.3Z" fill="#10bba3" stroke="#10bba3"/><path d="M193.0 147.7L180.0 141.9L177.9 139.9L190.8 145.7Z" fill="#10b4b4" stroke="#10b4b4"/><path d="M186.4 141.5L173.6 135.9L171.5 133.9L184.1 139.4Z" fill="#10b9a7" stroke="#10b9a7"/><path d="M190.8 145.7L177.9 139.9L175.7 137.9L188.6 143.6Z" fill="#10b6b0" stroke="#10b6b0"/><path d="M188.6 143.6L175.7 137.9L173.6 135.9L186.4 141.5Z" fill="#10b8ac" stroke="#10b8ac"/></g><defs><linearGradient id="lbb" gradientUnits="userSpaceOnUse" x1="208" y1="170" x2="246" y2="201"><stop offset="0" stop-color="#2080ec"/><stop offset="0.5" stop-color="#3c56eb"/><stop offset="1" stop-color="#4844e1"/></linearGradient></defs><path d="M214.5 168.0L221.0 175.0L228.0 182.1L234.0 188.0L240.7 193.6L245.0 198.0L247.3 200.6L243.0 201.5L236.0 199.5L228.0 196.5L219.0 190.6L212.0 185.5L205.5 180.6L208.0 172.0Z" fill="url(#lbb)"/><path d="M203.8 178.3L211.5 184.0L219.4 189.7L218.8 190.7L211.0 185.2L203.2 179.4Z" fill="#fff"/><path d="M240.7 193.6L249.0 188.7L257.0 183.8L266.0 178.6L274.8 173.4L270.5 178.5L265.0 184.3L258.0 189.8L252.0 195.0L247.3 200.3L244.5 197.3Z" fill="#fff"/>
<line class="a" x1="45.5" y1="194.4" x2="45.5" y2="8.9"/>
<line class="a" x1="45.5" y1="194.4" x2="88" y2="212"/>
<line class="a" x1="88" y1="212" x2="426.6" y2="210.4"/>
<line class="a" x1="37.3" y1="191.1" x2="45.5" y2="194.4"/>
<text class="t" x="35.2" y="194" text-anchor="end" font-size="9">0</text>
<line class="a" x1="37.3" y1="164.6" x2="45.5" y2="167.9"/>
<text class="t" x="35.2" y="167.5" text-anchor="end" font-size="9">100</text>
<line class="a" x1="37.3" y1="138.1" x2="45.5" y2="141.4"/>
<text class="t" x="35.2" y="141" text-anchor="end" font-size="9">200</text>
<line class="a" x1="37.3" y1="111.6" x2="45.5" y2="114.9"/>
<text class="t" x="35.2" y="114.5" text-anchor="end" font-size="9">300</text>
<line class="a" x1="37.3" y1="85.1" x2="45.5" y2="88.4"/>
<text class="t" x="35.2" y="88" text-anchor="end" font-size="9">400</text>
<line class="a" x1="37.3" y1="58.6" x2="45.5" y2="61.9"/>
<text class="t" x="35.2" y="61.5" text-anchor="end" font-size="9">500</text>
<line class="a" x1="37.3" y1="32.1" x2="45.5" y2="35.4"/>
<text class="t" x="35.2" y="35" text-anchor="end" font-size="9">600</text>
<line class="a" x1="37.3" y1="5.6" x2="45.5" y2="8.9"/>
<text class="t" x="35.2" y="8.5" text-anchor="end" font-size="9">700</text>
<line class="a" x1="45.5" y1="194.4" x2="45.5" y2="202.4"/>
<text class="t" x="45" y="215.1" text-anchor="end" font-size="9">0.1</text>
<line class="a" x1="66.8" y1="203.2" x2="66.8" y2="211.2"/>
<text class="t" x="66.2" y="223.9" text-anchor="end" font-size="9">0</text>
<line class="a" x1="88" y1="212" x2="88" y2="220"/>
<text class="t" x="87.5" y="232.7" text-anchor="end" font-size="9">−0.1</text>
<line class="a" x1="88" y1="212" x2="88" y2="220"/>
<text class="t" x="87.8" y="232.6" text-anchor="start" font-size="9">0.1</text>
<line class="a" x1="121.9" y1="211.8" x2="121.9" y2="219.8"/>
<text class="t" x="121.7" y="232.5" text-anchor="start" font-size="9">0.08</text>
<line class="a" x1="155.7" y1="211.7" x2="155.7" y2="219.7"/>
<text class="t" x="155.5" y="232.3" text-anchor="start" font-size="9">0.06</text>
<line class="a" x1="189.6" y1="211.5" x2="189.6" y2="219.5"/>
<text class="t" x="189.4" y="232.1" text-anchor="start" font-size="9">0.04</text>
<line class="a" x1="223.4" y1="211.4" x2="223.4" y2="219.4"/>
<text class="t" x="223.2" y="232" text-anchor="start" font-size="9">0.02</text>
<line class="a" x1="257.3" y1="211.2" x2="257.3" y2="219.2"/>
<text class="t" x="257.1" y="231.8" text-anchor="start" font-size="9">0</text>
<line class="a" x1="291.2" y1="211" x2="291.2" y2="219"/>
<text class="t" x="288.9" y="231.7" text-anchor="start" font-size="9">−0.02</text>
<line class="a" x1="325" y1="210.9" x2="325" y2="218.9"/>
<text class="t" x="322.7" y="231.5" text-anchor="start" font-size="9">−0.04</text>
<line class="a" x1="358.9" y1="210.7" x2="358.9" y2="218.7"/>
<text class="t" x="356.6" y="231.3" text-anchor="start" font-size="9">−0.06</text>
<line class="a" x1="392.7" y1="210.6" x2="392.7" y2="218.6"/>
<text class="t" x="390.4" y="231.2" text-anchor="start" font-size="9">−0.08</text>
<line class="a" x1="426.6" y1="210.4" x2="426.6" y2="218.4"/>
<text class="t" x="424.3" y="231" text-anchor="start" font-size="9">−0.1</text>
<text class="t" x="33.2" y="237.2" text-anchor="middle" font-size="9">x(m)</text>
<text class="t" x="222.4" y="240.7" text-anchor="middle" font-size="9">y(m)</text>
<text class="t" x="0" y="0" font-size="9" text-anchor="middle" transform="translate(16.2,101.8) rotate(-90)">Wavefront Aberration(nm)</text>
<text class="t" x="128.5" y="77.4" text-anchor="middle" font-size="9">Initial</text>
<text class="t" x="87.8" y="113.2" text-anchor="middle" font-size="9">Optimized</text>
<linearGradient id="cbb" x1="0" y1="1" x2="0" y2="0"><stop offset="0.000" stop-color="#3828b0"/><stop offset="0.077" stop-color="#4a42e0"/><stop offset="0.159" stop-color="#3a58ec"/><stop offset="0.241" stop-color="#2080ec"/><stop offset="0.322" stop-color="#10a8c8"/><stop offset="0.404" stop-color="#10b6b0"/><stop offset="0.486" stop-color="#10c094"/><stop offset="0.535" stop-color="#10c672"/><stop offset="0.584" stop-color="#28c860"/><stop offset="0.625" stop-color="#60c448"/><stop offset="0.650" stop-color="#98c03e"/><stop offset="0.679" stop-color="#d0b432"/><stop offset="0.715" stop-color="#f2a838"/><stop offset="0.781" stop-color="#f6aa38"/><stop offset="0.830" stop-color="#f8bc30"/><stop offset="0.879" stop-color="#f8cc26"/><stop offset="0.928" stop-color="#f6e01e"/><stop offset="1.000" stop-color="#f8f812"/></linearGradient>
<rect x="439.4" y="6.8" width="8" height="204.6" fill="url(#cbb)" stroke="#555" stroke-width="0.5"/>
<line class="cb" x1="445.5" y1="11.5" x2="447.4" y2="11.5"/>
<text class="t" x="449.7" y="14.4" text-anchor="start" font-size="8">600</text>
<line class="cb" x1="445.5" y1="45" x2="447.4" y2="45"/>
<text class="t" x="449.7" y="47.9" text-anchor="start" font-size="8">500</text>
<line class="cb" x1="445.5" y1="78.5" x2="447.4" y2="78.5"/>
<text class="t" x="449.7" y="81.4" text-anchor="start" font-size="8">400</text>
<line class="cb" x1="445.5" y1="112" x2="447.4" y2="112"/>
<text class="t" x="449.7" y="114.9" text-anchor="start" font-size="8">300</text>
<line class="cb" x1="445.5" y1="145.5" x2="447.4" y2="145.5"/>
<text class="t" x="449.7" y="148.4" text-anchor="start" font-size="8">200</text>
<line class="cb" x1="445.5" y1="179" x2="447.4" y2="179"/>
<text class="t" x="449.7" y="181.9" text-anchor="start" font-size="8">100</text>
<text class="lbl" x="232.4" y="260" font-size="16">(<tspan font-weight="bold">b</tspan>)</text>
<line class="g" x1="37" y1="488" x2="121" y2="450"/>
<line class="g" x1="121" y1="450" x2="433.5" y2="461"/>
<line class="g" x1="37" y1="454.5" x2="121" y2="416.5"/>
<line class="g" x1="121" y1="416.5" x2="433.5" y2="427.5"/>
<line class="g" x1="37" y1="421" x2="121" y2="383"/>
<line class="g" x1="121" y1="383" x2="433.5" y2="394"/>
<line class="g" x1="37" y1="387.5" x2="121" y2="349.5"/>
<line class="g" x1="121" y1="349.5" x2="433.5" y2="360.5"/>
<line class="g" x1="37" y1="354" x2="121" y2="316"/>
<line class="g" x1="121" y1="316" x2="433.5" y2="327"/>
<line class="g" x1="37" y1="320.5" x2="121" y2="282.5"/>
<line class="g" x1="121" y1="282.5" x2="433.5" y2="293.5"/>
<line class="g" x1="45.3" y1="484.2" x2="45.3" y2="316.7"/>
<line class="g" x1="80" y1="468.5" x2="80" y2="301"/>
<line class="g" x1="114.5" y1="452.9" x2="114.5" y2="285.4"/>
<line class="g" x1="121" y1="450" x2="121" y2="282.5"/>
<line class="g" x1="45.3" y1="484.2" x2="358.7" y2="494.5"/>
<line class="g" x1="80" y1="468.5" x2="392.5" y2="479.3"/>
<line class="g" x1="114.5" y1="452.9" x2="426.5" y2="464.1"/>
<line class="g" x1="121" y1="450" x2="433.5" y2="461"/>
<line class="g" x1="121" y1="450" x2="121" y2="282.5"/>
<line class="g" x1="37" y1="488" x2="121" y2="450"/>
<line class="g" x1="173.1" y1="451.8" x2="173.1" y2="284.3"/>
<line class="g" x1="88.7" y1="489.9" x2="173.1" y2="451.8"/>
<line class="g" x1="225.2" y1="453.7" x2="225.2" y2="286.2"/>
<line class="g" x1="140.3" y1="491.9" x2="225.2" y2="453.7"/>
<line class="g" x1="277.2" y1="455.5" x2="277.2" y2="288"/>
<line class="g" x1="192" y1="493.9" x2="277.2" y2="455.5"/>
<line class="g" x1="329.3" y1="457.3" x2="329.3" y2="289.8"/>
<line class="g" x1="243.7" y1="495.8" x2="329.3" y2="457.3"/>
<line class="g" x1="381.4" y1="459.2" x2="381.4" y2="291.7"/>
<line class="g" x1="295.3" y1="497.8" x2="381.4" y2="459.2"/>
<line class="g" x1="433.5" y1="461" x2="433.5" y2="293.5"/>
<line class="g" x1="347" y1="499.7" x2="433.5" y2="461"/>
<clipPath id="csil"><path d="M103.9 372.9L109.4 373.8L114.8 374.0L120.3 372.9L125.7 371.3L133.0 368.5L141.2 363.6L147.8 359.4L154.1 355.5L160.5 351.7L166.9 347.9L173.3 344.0L179.8 339.5L188.0 335.5L196.0 331.3L205.5 327.8L214.0 326.6L231.0 326.1L248.0 326.1L255.0 326.0L263.5 327.7L272.0 330.5L280.5 335.0L289.0 340.0L297.6 345.0L306.0 351.0L314.6 357.0L320.0 361.0L323.5 364.0L325.5 365.0L328.9 364.6L332.8 363.9L339.1 364.2L345.5 366.5L351.9 371.0L358.3 379.3L362.1 386.9L365.3 394.6L367.9 402.2L369.8 409.9L371.2 416.0L372.8 422.8L374.0 435.5L374.7 448.3L374.2 457.2L372.1 463.6L368.3 468.1L364.5 470.0L361.5 469.6L355.5 466.2L349.1 463.0L342.8 460.4L336.4 458.3L331.0 456.3L318.3 452.4L305.5 449.9L292.8 448.6L280.0 448.0L260.0 447.2L245.0 447.2L223.8 448.3L213.2 449.4L202.6 451.5L191.9 454.7L181.3 461.0L175.0 465.7L168.2 470.0L159.7 474.3L151.2 476.8L142.7 478.5L134.1 477.7L123.9 474.3L115.4 468.3L108.6 460.6L102.7 450.4L99.3 440.2L97.6 430.0L96.3 422.0L96.8 411.1L97.4 403.5L97.1 394.7L97.6 383.8L98.5 378.4L100.6 375.1Z"/></clipPath><clipPath id="cU"><path d="M90.0 300.0L90.0 404.5L104.0 405.0L120.0 405.5L141.0 406.5L160.0 410.0L175.0 412.0L205.0 417.0L225.0 421.0L250.0 424.0L275.0 420.0L298.0 406.5L310.0 414.0L325.0 408.0L345.0 398.0L360.0 390.0L372.0 384.0L380.0 382.0L380.0 300.0Z"/></clipPath><clipPath id="cL"><path d="M90.0 490.0L90.0 403.0L104.0 403.5L120.0 404.0L141.0 405.0L160.0 408.5L175.0 410.5L205.0 415.5L225.0 419.5L250.0 422.5L275.0 418.5L298.0 405.0L310.0 412.5L325.0 406.5L345.0 396.5L360.0 388.5L372.0 382.5L380.0 380.5L380.0 490.0Z"/></clipPath><defs><linearGradient id="u0" gradientUnits="userSpaceOnUse" x1="0" y1="379" x2="0" y2="407"><stop offset="0" stop-color="#d7c425"/><stop offset="0.143" stop-color="#d7c425"/><stop offset="0.286" stop-color="#cec427"/><stop offset="0.429" stop-color="#c5c329"/><stop offset="0.571" stop-color="#b3c32c"/><stop offset="0.714" stop-color="#a2c230"/><stop offset="0.857" stop-color="#8ec234"/><stop offset="1" stop-color="#84c337"/></linearGradient><linearGradient id="u1" gradientUnits="userSpaceOnUse" x1="0" y1="372" x2="0" y2="407"><stop offset="0" stop-color="#e1c226"/><stop offset="0.111" stop-color="#dec325"/><stop offset="0.222" stop-color="#dcc424"/><stop offset="0.333" stop-color="#d7c425"/><stop offset="0.444" stop-color="#cdc427"/><stop offset="0.556" stop-color="#c3c329"/><stop offset="0.667" stop-color="#b2c32c"/><stop offset="0.778" stop-color="#a1c230"/><stop offset="0.889" stop-color="#8dc234"/><stop offset="1" stop-color="#84c337"/></linearGradient><linearGradient id="u2" gradientUnits="userSpaceOnUse" x1="0" y1="370" x2="0" y2="407"><stop offset="0" stop-color="#e6bf28"/><stop offset="0.111" stop-color="#e3c027"/><stop offset="0.222" stop-color="#dfc325"/><stop offset="0.333" stop-color="#dcc424"/><stop offset="0.444" stop-color="#d1c426"/><stop offset="0.556" stop-color="#c6c328"/><stop offset="0.667" stop-color="#b5c32c"/><stop offset="0.778" stop-color="#a3c22f"/><stop offset="0.889" stop-color="#8ec234"/><stop offset="1" stop-color="#84c337"/></linearGradient><linearGradient id="u3" gradientUnits="userSpaceOnUse" x1="0" y1="370" x2="0" y2="408"><stop offset="0" stop-color="#eabd29"/><stop offset="0.1" stop-color="#e6bf28"/><stop offset="0.2" stop-color="#e1c226"/><stop offset="0.3" stop-color="#ddc325"/><stop offset="0.4" stop-color="#d6c425"/><stop offset="0.5" stop-color="#cbc427"/><stop offset="0.6" stop-color="#bdc32a"/><stop offset="0.7" stop-color="#adc32d"/><stop offset="0.8" stop-color="#9cc231"/><stop offset="0.9" stop-color="#87c336"/><stop offset="1" stop-color="#84c337"/></linearGradient><linearGradient id="u4" gradientUnits="userSpaceOnUse" x1="0" y1="371" x2="0" y2="408"><stop offset="0" stop-color="#eabd2a"/><stop offset="0.111" stop-color="#e4c027"/><stop offset="0.222" stop-color="#e0c225"/><stop offset="0.333" stop-color="#dcc424"/><stop offset="0.444" stop-color="#d0c426"/><stop offset="0.556" stop-color="#c2c329"/><stop offset="0.667" stop-color="#b1c32d"/><stop offset="0.778" stop-color="#a0c230"/><stop offset="0.889" stop-color="#89c335"/><stop offset="1" stop-color="#84c337"/></linearGradient><linearGradient id="u5" gradientUnits="userSpaceOnUse" x1="0" y1="371" x2="0" y2="408"><stop offset="0" stop-color="#eabd2a"/><stop offset="0.111" stop-color="#e5c027"/><stop offset="0.222" stop-color="#e0c226"/><stop offset="0.333" stop-color="#dcc424"/><stop offset="0.444" stop-color="#d0c426"/><stop offset="0.556" stop-color="#c3c329"/><stop offset="0.667" stop-color="#b1c32d"/><stop offset="0.778" stop-color="#a0c230"/><stop offset="0.889" stop-color="#8ac335"/><stop offset="1" stop-color="#84c337"/></linearGradient><linearGradient id="u6" gradientUnits="userSpaceOnUse" x1="0" y1="371" x2="0" y2="408"><stop offset="0" stop-color="#ebbd2a"/><stop offset="0.111" stop-color="#e5bf28"/><stop offset="0.222" stop-color="#e0c226"/><stop offset="0.333" stop-color="#ddc424"/><stop offset="0.444" stop-color="#d1c426"/><stop offset="0.556" stop-color="#c3c329"/><stop offset="0.667" stop-color="#b2c32c"/><stop offset="0.778" stop-color="#a1c230"/><stop offset="0.889" stop-color="#8bc335"/><stop offset="1" stop-color="#84c337"/></linearGradient><linearGradient id="u7" gradientUnits="userSpaceOnUse" x1="0" y1="371" x2="0" y2="408"><stop offset="0" stop-color="#ebbc2a"/><stop offset="0.111" stop-color="#e6bf28"/><stop offset="0.222" stop-color="#e1c226"/><stop offset="0.333" stop-color="#ddc424"/><stop offset="0.444" stop-color="#d1c426"/><stop offset="0.556" stop-color="#c3c329"/><stop offset="0.667" stop-color="#b2c32c"/><stop offset="0.778" stop-color="#a2c230"/><stop offset="0.889" stop-color="#8cc235"/><stop offset="1" stop-color="#84c337"/></linearGradient><linearGradient id="u8" gradientUnits="userSpaceOnUse" x1="0" y1="370" x2="0" y2="408"><stop offset="0" stop-color="#ecbc2b"/><stop offset="0.1" stop-color="#e9be29"/><stop offset="0.2" stop-color="#e3c027"/><stop offset="0.3" stop-color="#dfc225"/><stop offset="0.4" stop-color="#dac424"/><stop offset="0.5" stop-color="#cdc427"/><stop offset="0.6" stop-color="#bec32a"/><stop offset="0.7" stop-color="#afc32d"/><stop offset="0.8" stop-color="#a0c230"/><stop offset="0.9" stop-color="#8ac335"/><stop offset="1" stop-color="#84c337"/></linearGradient><linearGradient id="u9" gradientUnits="userSpaceOnUse" x1="0" y1="369" x2="0" y2="408"><stop offset="0" stop-color="#f0ba2c"/><stop offset="0.1" stop-color="#edbb2b"/><stop offset="0.2" stop-color="#e7bf28"/><stop offset="0.3" stop-color="#e2c126"/><stop offset="0.4" stop-color="#dec325"/><stop offset="0.5" stop-color="#d3c426"/><stop offset="0.6" stop-color="#c3c329"/><stop offset="0.7" stop-color="#b3c32c"/><stop offset="0.8" stop-color="#a3c22f"/><stop offset="0.9" stop-color="#8dc234"/><stop offset="1" stop-color="#84c337"/></linearGradient><linearGradient id="u10" gradientUnits="userSpaceOnUse" x1="0" y1="368" x2="0" y2="408"><stop offset="0" stop-color="#f1b92d"/><stop offset="0.1" stop-color="#f1b92c"/><stop offset="0.2" stop-color="#eabd2a"/><stop offset="0.3" stop-color="#e5c028"/><stop offset="0.4" stop-color="#e0c226"/><stop offset="0.5" stop-color="#d9c425"/><stop offset="0.6" stop-color="#c9c328"/><stop offset="0.7" stop-color="#b7c32b"/><stop offset="0.8" stop-color="#a6c22f"/><stop offset="0.9" stop-color="#90c234"/><stop offset="1" stop-color="#84c337"/></linearGradient><linearGradient id="u11" gradientUnits="userSpaceOnUse" x1="0" y1="367" x2="0" y2="408"><stop offset="0" stop-color="#f3b72e"/><stop offset="0.1" stop-color="#f2b82d"/><stop offset="0.2" stop-color="#eebb2b"/><stop offset="0.3" stop-color="#e8be29"/><stop offset="0.4" stop-color="#e2c126"/><stop offset="0.5" stop-color="#ddc324"/><stop offset="0.6" stop-color="#cec427"/><stop offset="0.7" stop-color="#bbc32b"/><stop offset="0.8" stop-color="#a8c32e"/><stop offset="0.9" stop-color="#93c233"/><stop offset="1" stop-color="#84c337"/></linearGradient><linearGradient id="u12" gradientUnits="userSpaceOnUse" x1="0" y1="365" x2="0" y2="409"><stop offset="0" stop-color="#f5b530"/><stop offset="0.0909" stop-color="#f3b62f"/><stop offset="0.182" stop-color="#f2b82d"/><stop offset="0.273" stop-color="#eebb2b"/><stop offset="0.364" stop-color="#e8be29"/><stop offset="0.455" stop-color="#e2c126"/><stop offset="0.545" stop-color="#ddc424"/><stop offset="0.636" stop-color="#cbc427"/><stop offset="0.727" stop-color="#b8c32b"/><stop offset="0.818" stop-color="#a5c22f"/><stop offset="0.909" stop-color="#8bc335"/><stop offset="1" stop-color="#84c337"/></linearGradient><linearGradient id="u13" gradientUnits="userSpaceOnUse" x1="0" y1="364" x2="0" y2="409"><stop offset="0" stop-color="#f6b332"/><stop offset="0.0909" stop-color="#f5b530"/><stop offset="0.182" stop-color="#f3b72f"/><stop offset="0.273" stop-color="#f1b92c"/><stop offset="0.364" stop-color="#ebbd2a"/><stop offset="0.455" stop-color="#e4c027"/><stop offset="0.545" stop-color="#dec325"/><stop offset="0.636" stop-color="#d0c426"/><stop offset="0.727" stop-color="#bcc32a"/><stop offset="0.818" stop-color="#a7c22f"/><stop offset="0.909" stop-color="#8dc234"/><stop offset="1" stop-color="#84c337"/></linearGradient><linearGradient id="u14" gradientUnits="userSpaceOnUse" x1="0" y1="362" x2="0" y2="409"><stop offset="0" stop-color="#f8b133"/><stop offset="0.0833" stop-color="#f7b232"/><stop offset="0.167" stop-color="#f5b430"/><stop offset="0.25" stop-color="#f3b72f"/><stop offset="0.333" stop-color="#f1b92c"/><stop offset="0.417" stop-color="#ebbd2a"/><stop offset="0.5" stop-color="#e4c027"/><stop offset="0.583" stop-color="#dec325"/><stop offset="0.667" stop-color="#d0c426"/><stop offset="0.75" stop-color="#bcc32a"/><stop offset="0.833" stop-color="#a7c22f"/><stop offset="0.917" stop-color="#8dc234"/><stop offset="1" stop-color="#84c337"/></linearGradient><linearGradient id="u15" gradientUnits="userSpaceOnUse" x1="0" y1="360" x2="0" y2="409"><stop offset="0" stop-color="#f9b134"/><stop offset="0.0833" stop-color="#f9b034"/><stop offset="0.167" stop-color="#f7b232"/><stop offset="0.25" stop-color="#f4b530"/><stop offset="0.333" stop-color="#f2b82e"/><stop offset="0.417" stop-color="#efbb2b"/><stop offset="0.5" stop-color="#e7be28"/><stop offset="0.583" stop-color="#e1c226"/><stop offset="0.667" stop-color="#d7c425"/><stop offset="0.75" stop-color="#c1c329"/><stop offset="0.833" stop-color="#abc32e"/><stop offset="0.917" stop-color="#91c233"/><stop offset="1" stop-color="#84c337"/></linearGradient><linearGradient id="u16" gradientUnits="userSpaceOnUse" x1="0" y1="358" x2="0" y2="410"><stop offset="0" stop-color="#f9b233"/><stop offset="0.0769" stop-color="#f9b133"/><stop offset="0.154" stop-color="#f8b133"/><stop offset="0.231" stop-color="#f6b331"/><stop offset="0.308" stop-color="#f4b62f"/><stop offset="0.385" stop-color="#f1b92d"/><stop offset="0.462" stop-color="#ecbc2b"/><stop offset="0.538" stop-color="#e6bf28"/><stop offset="0.615" stop-color="#e0c225"/><stop offset="0.692" stop-color="#d3c426"/><stop offset="0.769" stop-color="#bec32a"/><stop offset="0.846" stop-color="#a8c32e"/><stop offset="0.923" stop-color="#8bc335"/><stop offset="1" stop-color="#84c337"/></linearGradient><linearGradient id="u17" gradientUnits="userSpaceOnUse" x1="0" y1="356" x2="0" y2="410"><stop offset="0" stop-color="#f9b532"/><stop offset="0.0714" stop-color="#f9b333"/><stop offset="0.143" stop-color="#f9b133"/><stop offset="0.214" stop-color="#f8b233"/><stop offset="0.286" stop-color="#f5b431"/><stop offset="0.357" stop-color="#f3b72f"/><stop offset="0.429" stop-color="#f1b92d"/><stop offset="0.5" stop-color="#ecbc2a"/><stop offset="0.571" stop-color="#e5bf28"/><stop offset="0.643" stop-color="#dfc225"/><stop offset="0.714" stop-color="#d4c426"/><stop offset="0.786" stop-color="#bfc32a"/><stop offset="0.857" stop-color="#aac32e"/><stop offset="0.929" stop-color="#90c234"/><stop offset="1" stop-color="#84c337"/></linearGradient><linearGradient id="u18" gradientUnits="userSpaceOnUse" x1="0" y1="354" x2="0" y2="411"><stop offset="0" stop-color="#f9b930"/><stop offset="0.0714" stop-color="#f9b632"/><stop offset="0.143" stop-color="#f9b333"/><stop offset="0.214" stop-color="#f9b034"/><stop offset="0.286" stop-color="#f6b331"/><stop offset="0.357" stop-color="#f4b62f"/><stop offset="0.429" stop-color="#f1b82d"/><stop offset="0.5" stop-color="#eebb2b"/><stop offset="0.571" stop-color="#e7bf28"/><stop offset="0.643" stop-color="#e0c226"/><stop offset="0.714" stop-color="#d6c425"/><stop offset="0.786" stop-color="#c0c32a"/><stop offset="0.857" stop-color="#aac32e"/><stop offset="0.929" stop-color="#93c233"/><stop offset="1" stop-color="#84c337"/></linearGradient><linearGradient id="u19" gradientUnits="userSpaceOnUse" x1="0" y1="352" x2="0" y2="411"><stop offset="0" stop-color="#fabd2e"/><stop offset="0.0667" stop-color="#fab930"/><stop offset="0.133" stop-color="#f9b532"/><stop offset="0.2" stop-color="#f9b233"/><stop offset="0.267" stop-color="#f8b133"/><stop offset="0.333" stop-color="#f6b431"/><stop offset="0.4" stop-color="#f3b62f"/><stop offset="0.467" stop-color="#f1b92d"/><stop offset="0.533" stop-color="#edbc2b"/><stop offset="0.6" stop-color="#e7bf28"/><stop offset="0.667" stop-color="#e0c226"/><stop offset="0.733" stop-color="#d6c425"/><stop offset="0.8" stop-color="#c2c329"/><stop offset="0.867" stop-color="#acc32e"/><stop offset="0.933" stop-color="#97c232"/><stop offset="1" stop-color="#84c337"/></linearGradient><linearGradient id="u20" gradientUnits="userSpaceOnUse" x1="0" y1="351" x2="0" y2="412"><stop offset="0" stop-color="#fac12c"/><stop offset="0.0667" stop-color="#fabc2e"/><stop offset="0.133" stop-color="#f9b831"/><stop offset="0.2" stop-color="#f9b333"/><stop offset="0.267" stop-color="#f8b133"/><stop offset="0.333" stop-color="#f6b331"/><stop offset="0.4" stop-color="#f4b62f"/><stop offset="0.467" stop-color="#f1b82d"/><stop offset="0.533" stop-color="#eebb2b"/><stop offset="0.6" stop-color="#e7be28"/><stop offset="0.667" stop-color="#e1c226"/><stop offset="0.733" stop-color="#d7c425"/><stop offset="0.8" stop-color="#c2c329"/><stop offset="0.867" stop-color="#acc32e"/><stop offset="0.933" stop-color="#96c232"/><stop offset="1" stop-color="#84c337"/></linearGradient><linearGradient id="u21" gradientUnits="userSpaceOnUse" x1="0" y1="349" x2="0" y2="412"><stop offset="0" stop-color="#fac62a"/><stop offset="0.0625" stop-color="#fac22c"/><stop offset="0.125" stop-color="#fabc2f"/><stop offset="0.188" stop-color="#f9b731"/><stop offset="0.25" stop-color="#f9b233"/><stop offset="0.312" stop-color="#f8b133"/><stop offset="0.375" stop-color="#f5b431"/><stop offset="0.438" stop-color="#f3b72f"/><stop offset="0.5" stop-color="#f1b92d"/><stop offset="0.562" stop-color="#edbb2b"/><stop offset="0.625" stop-color="#e7bf28"/><stop offset="0.688" stop-color="#e1c226"/><stop offset="0.75" stop-color="#d8c425"/><stop offset="0.812" stop-color="#c3c329"/><stop offset="0.875" stop-color="#aec32d"/><stop offset="0.938" stop-color="#98c232"/><stop offset="1" stop-color="#84c337"/></linearGradient><linearGradient id="u22" gradientUnits="userSpaceOnUse" x1="0" y1="347" x2="0" y2="413"><stop offset="0" stop-color="#fac929"/><stop offset="0.0625" stop-color="#fac82a"/><stop offset="0.125" stop-color="#fac02d"/><stop offset="0.188" stop-color="#faba30"/><stop offset="0.25" stop-color="#f9b532"/><stop offset="0.312" stop-color="#f9b034"/><stop offset="0.375" stop-color="#f6b332"/><stop offset="0.438" stop-color="#f4b630"/><stop offset="0.5" stop-color="#f2b82e"/><stop offset="0.562" stop-color="#efba2c"/><stop offset="0.625" stop-color="#e9be29"/><stop offset="0.688" stop-color="#e2c126"/><stop offset="0.75" stop-color="#dbc424"/><stop offset="0.812" stop-color="#c6c328"/><stop offset="0.875" stop-color="#aec32d"/><stop offset="0.938" stop-color="#92c233"/><stop offset="1" stop-color="#88c336"/></linearGradient><linearGradient id="u23" gradientUnits="userSpaceOnUse" x1="0" y1="345" x2="0" y2="413"><stop offset="0" stop-color="#face27"/><stop offset="0.0588" stop-color="#facb28"/><stop offset="0.118" stop-color="#fac62a"/><stop offset="0.176" stop-color="#fabf2d"/><stop offset="0.235" stop-color="#fab930"/><stop offset="0.294" stop-color="#f9b432"/><stop offset="0.353" stop-color="#f9b034"/><stop offset="0.412" stop-color="#f6b332"/><stop offset="0.471" stop-color="#f4b630"/><stop offset="0.529" stop-color="#f2b82e"/><stop offset="0.588" stop-color="#f0ba2c"/><stop offset="0.647" stop-color="#e9be29"/><stop offset="0.706" stop-color="#e3c127"/><stop offset="0.765" stop-color="#ddc424"/><stop offset="0.824" stop-color="#c9c328"/><stop offset="0.882" stop-color="#b1c32d"/><stop offset="0.941" stop-color="#97c232"/><stop offset="1" stop-color="#8cc235"/></linearGradient><linearGradient id="u24" gradientUnits="userSpaceOnUse" x1="0" y1="344" x2="0" y2="414"><stop offset="0" stop-color="#f9d225"/><stop offset="0.0556" stop-color="#f9cf27"/><stop offset="0.111" stop-color="#faca28"/><stop offset="0.167" stop-color="#fac32c"/><stop offset="0.222" stop-color="#fabd2e"/><stop offset="0.278" stop-color="#f9b831"/><stop offset="0.333" stop-color="#f9b333"/><stop offset="0.389" stop-color="#f8b133"/><stop offset="0.444" stop-color="#f6b431"/><stop offset="0.5" stop-color="#f4b62f"/><stop offset="0.556" stop-color="#f1b82d"/><stop offset="0.611" stop-color="#eebb2b"/><stop offset="0.667" stop-color="#e8be29"/><stop offset="0.722" stop-color="#e2c126"/><stop offset="0.778" stop-color="#dcc424"/><stop offset="0.833" stop-color="#c6c328"/><stop offset="0.889" stop-color="#aec32d"/><stop offset="0.944" stop-color="#96c232"/><stop offset="1" stop-color="#91c233"/></linearGradient><linearGradient id="u25" gradientUnits="userSpaceOnUse" x1="0" y1="342" x2="0" y2="414"><stop offset="0" stop-color="#f9d922"/><stop offset="0.0556" stop-color="#f9d424"/><stop offset="0.111" stop-color="#f9cf26"/><stop offset="0.167" stop-color="#fac82a"/><stop offset="0.222" stop-color="#fac12d"/><stop offset="0.278" stop-color="#fabb2f"/><stop offset="0.333" stop-color="#f9b631"/><stop offset="0.389" stop-color="#f9b134"/><stop offset="0.444" stop-color="#f7b232"/><stop offset="0.5" stop-color="#f5b530"/><stop offset="0.556" stop-color="#f2b72e"/><stop offset="0.611" stop-color="#f0ba2c"/><stop offset="0.667" stop-color="#eabd2a"/><stop offset="0.722" stop-color="#e4c027"/><stop offset="0.778" stop-color="#dec325"/><stop offset="0.833" stop-color="#ccc427"/><stop offset="0.889" stop-color="#b3c32c"/><stop offset="0.944" stop-color="#9bc231"/><stop offset="1" stop-color="#95c232"/></linearGradient><linearGradient id="u26" gradientUnits="userSpaceOnUse" x1="0" y1="340" x2="0" y2="414"><stop offset="0" stop-color="#f8de20"/><stop offset="0.0556" stop-color="#f9db22"/><stop offset="0.111" stop-color="#f9d524"/><stop offset="0.167" stop-color="#facd27"/><stop offset="0.222" stop-color="#fac52b"/><stop offset="0.278" stop-color="#fabe2e"/><stop offset="0.333" stop-color="#fab930"/><stop offset="0.389" stop-color="#f9b432"/><stop offset="0.444" stop-color="#f8b133"/><stop offset="0.5" stop-color="#f6b431"/><stop offset="0.556" stop-color="#f4b62f"/><stop offset="0.611" stop-color="#f1b92d"/><stop offset="0.667" stop-color="#edbc2b"/><stop offset="0.722" stop-color="#e6bf28"/><stop offset="0.778" stop-color="#e0c226"/><stop offset="0.833" stop-color="#d3c426"/><stop offset="0.889" stop-color="#b9c32b"/><stop offset="0.944" stop-color="#a0c230"/><stop offset="1" stop-color="#99c231"/></linearGradient><linearGradient id="u27" gradientUnits="userSpaceOnUse" x1="0" y1="338" x2="0" y2="415"><stop offset="0" stop-color="#f8e01f"/><stop offset="0.0526" stop-color="#f8df20"/><stop offset="0.105" stop-color="#f9d922"/><stop offset="0.158" stop-color="#f9d325"/><stop offset="0.211" stop-color="#facb28"/><stop offset="0.263" stop-color="#fac32c"/><stop offset="0.316" stop-color="#fabd2e"/><stop offset="0.368" stop-color="#f9b731"/><stop offset="0.421" stop-color="#f9b233"/><stop offset="0.474" stop-color="#f7b233"/><stop offset="0.526" stop-color="#f5b431"/><stop offset="0.579" stop-color="#f3b72f"/><stop offset="0.632" stop-color="#f1b92d"/><stop offset="0.684" stop-color="#ebbc2a"/><stop offset="0.737" stop-color="#e5bf28"/><stop offset="0.789" stop-color="#dfc225"/><stop offset="0.842" stop-color="#cec427"/><stop offset="0.895" stop-color="#b4c32c"/><stop offset="0.947" stop-color="#9ec230"/><stop offset="1" stop-color="#9ac231"/></linearGradient><linearGradient id="u28" gradientUnits="userSpaceOnUse" x1="0" y1="336" x2="0" y2="415"><stop offset="0" stop-color="#f8e21e"/><stop offset="0.05" stop-color="#f8e11e"/><stop offset="0.1" stop-color="#f9dd20"/><stop offset="0.15" stop-color="#f9d823"/><stop offset="0.2" stop-color="#f9d026"/><stop offset="0.25" stop-color="#fac829"/><stop offset="0.3" stop-color="#fac12d"/><stop offset="0.35" stop-color="#fabc2f"/><stop offset="0.4" stop-color="#f9b631"/><stop offset="0.45" stop-color="#f9b133"/><stop offset="0.5" stop-color="#f7b232"/><stop offset="0.55" stop-color="#f5b530"/><stop offset="0.6" stop-color="#f3b72e"/><stop offset="0.65" stop-color="#f0b92c"/><stop offset="0.7" stop-color="#ebbd2a"/><stop offset="0.75" stop-color="#e5c028"/><stop offset="0.8" stop-color="#dfc325"/><stop offset="0.85" stop-color="#cec427"/><stop offset="0.9" stop-color="#b5c32c"/><stop offset="0.95" stop-color="#a1c230"/><stop offset="1" stop-color="#9cc231"/></linearGradient><linearGradient id="u29" gradientUnits="userSpaceOnUse" x1="0" y1="334" x2="0" y2="416"><stop offset="0" stop-color="#f7e41d"/><stop offset="0.05" stop-color="#f8e31e"/><stop offset="0.1" stop-color="#f8e01f"/><stop offset="0.15" stop-color="#f9db22"/><stop offset="0.2" stop-color="#f9d424"/><stop offset="0.25" stop-color="#facc28"/><stop offset="0.3" stop-color="#fac32b"/><stop offset="0.35" stop-color="#fabd2e"/><stop offset="0.4" stop-color="#f9b830"/><stop offset="0.45" stop-color="#f9b333"/><stop offset="0.5" stop-color="#f8b233"/><stop offset="0.55" stop-color="#f5b431"/><stop offset="0.6" stop-color="#f3b72f"/><stop offset="0.65" stop-color="#f1b92d"/><stop offset="0.7" stop-color="#ebbc2a"/><stop offset="0.75" stop-color="#e5c028"/><stop offset="0.8" stop-color="#dfc325"/><stop offset="0.85" stop-color="#cdc427"/><stop offset="0.9" stop-color="#b4c32c"/><stop offset="0.95" stop-color="#a1c230"/><stop offset="1" stop-color="#9cc231"/></linearGradient><linearGradient id="u30" gradientUnits="userSpaceOnUse" x1="0" y1="333" x2="0" y2="416"><stop offset="0" stop-color="#f7e61c"/><stop offset="0.0476" stop-color="#f7e51d"/><stop offset="0.0952" stop-color="#f8e31d"/><stop offset="0.143" stop-color="#f8de20"/><stop offset="0.19" stop-color="#f9d823"/><stop offset="0.238" stop-color="#f9d026"/><stop offset="0.286" stop-color="#fac829"/><stop offset="0.333" stop-color="#fac12d"/><stop offset="0.381" stop-color="#fabb2f"/><stop offset="0.429" stop-color="#f9b631"/><stop offset="0.476" stop-color="#f9b134"/><stop offset="0.524" stop-color="#f7b232"/><stop offset="0.571" stop-color="#f5b530"/><stop offset="0.619" stop-color="#f2b72e"/><stop offset="0.667" stop-color="#f0ba2c"/><stop offset="0.714" stop-color="#eabd2a"/><stop offset="0.762" stop-color="#e4c027"/><stop offset="0.81" stop-color="#dec325"/><stop offset="0.857" stop-color="#cdc427"/><stop offset="0.905" stop-color="#b5c32c"/><stop offset="0.952" stop-color="#a3c22f"/><stop offset="1" stop-color="#9dc231"/></linearGradient><linearGradient id="u31" gradientUnits="userSpaceOnUse" x1="0" y1="331" x2="0" y2="417"><stop offset="0" stop-color="#f7e91b"/><stop offset="0.0455" stop-color="#f7e71b"/><stop offset="0.0909" stop-color="#f7e51c"/><stop offset="0.136" stop-color="#f8e21e"/><stop offset="0.182" stop-color="#f9dc21"/><stop offset="0.227" stop-color="#f9d624"/><stop offset="0.273" stop-color="#face27"/><stop offset="0.318" stop-color="#fac62a"/><stop offset="0.364" stop-color="#fabf2d"/><stop offset="0.409" stop-color="#faba30"/><stop offset="0.455" stop-color="#f9b532"/><stop offset="0.5" stop-color="#f9b034"/><stop offset="0.545" stop-color="#f6b332"/><stop offset="0.591" stop-color="#f4b530"/><stop offset="0.636" stop-color="#f2b82e"/><stop offset="0.682" stop-color="#efbb2c"/><stop offset="0.727" stop-color="#e9be29"/><stop offset="0.773" stop-color="#e3c027"/><stop offset="0.818" stop-color="#ddc424"/><stop offset="0.864" stop-color="#c8c328"/><stop offset="0.909" stop-color="#b2c32c"/><stop offset="0.955" stop-color="#a4c22f"/><stop offset="1" stop-color="#7dc339"/></linearGradient><linearGradient id="u32" gradientUnits="userSpaceOnUse" x1="0" y1="330" x2="0" y2="417"><stop offset="0" stop-color="#f6eb19"/><stop offset="0.0455" stop-color="#f7e91a"/><stop offset="0.0909" stop-color="#f7e71b"/><stop offset="0.136" stop-color="#f8e41d"/><stop offset="0.182" stop-color="#f8de20"/><stop offset="0.227" stop-color="#f9d823"/><stop offset="0.273" stop-color="#f9d026"/><stop offset="0.318" stop-color="#fac82a"/><stop offset="0.364" stop-color="#fac12d"/><stop offset="0.409" stop-color="#fabb2f"/><stop offset="0.455" stop-color="#f9b631"/><stop offset="0.5" stop-color="#f9b134"/><stop offset="0.545" stop-color="#f7b232"/><stop offset="0.591" stop-color="#f5b530"/><stop offset="0.636" stop-color="#f2b72e"/><stop offset="0.682" stop-color="#f0ba2c"/><stop offset="0.727" stop-color="#eabd2a"/><stop offset="0.773" stop-color="#e4c027"/><stop offset="0.818" stop-color="#dec325"/><stop offset="0.864" stop-color="#cbc427"/><stop offset="0.909" stop-color="#b5c32c"/><stop offset="0.955" stop-color="#a6c22f"/><stop offset="1" stop-color="#77c33a"/></linearGradient><linearGradient id="u33" gradientUnits="userSpaceOnUse" x1="0" y1="328" x2="0" y2="418"><stop offset="0" stop-color="#f6ee18"/><stop offset="0.0455" stop-color="#f6ec19"/><stop offset="0.0909" stop-color="#f7e91a"/><stop offset="0.136" stop-color="#f7e71c"/><stop offset="0.182" stop-color="#f8e11e"/><stop offset="0.227" stop-color="#f9db21"/><stop offset="0.273" stop-color="#f9d425"/><stop offset="0.318" stop-color="#facb28"/><stop offset="0.364" stop-color="#fac22c"/><stop offset="0.409" stop-color="#fabd2e"/><stop offset="0.455" stop-color="#f9b731"/><stop offset="0.5" stop-color="#f9b233"/><stop offset="0.545" stop-color="#f7b232"/><stop offset="0.591" stop-color="#f5b530"/><stop offset="0.636" stop-color="#f2b72e"/><stop offset="0.682" stop-color="#f0ba2c"/><stop offset="0.727" stop-color="#eabd2a"/><stop offset="0.773" stop-color="#e4c027"/><stop offset="0.818" stop-color="#dec325"/><stop offset="0.864" stop-color="#cbc427"/><stop offset="0.909" stop-color="#b4c32c"/><stop offset="0.955" stop-color="#a5c22f"/><stop offset="1" stop-color="#40c649"/></linearGradient><linearGradient id="u34" gradientUnits="userSpaceOnUse" x1="0" y1="327" x2="0" y2="418"><stop offset="0" stop-color="#f6ef17"/><stop offset="0.0435" stop-color="#f6ee18"/><stop offset="0.087" stop-color="#f6ec19"/><stop offset="0.13" stop-color="#f7e91a"/><stop offset="0.174" stop-color="#f7e41d"/><stop offset="0.217" stop-color="#f8df20"/><stop offset="0.261" stop-color="#f9d823"/><stop offset="0.304" stop-color="#f9d026"/><stop offset="0.348" stop-color="#fac82a"/><stop offset="0.391" stop-color="#fac02d"/><stop offset="0.435" stop-color="#fabb2f"/><stop offset="0.478" stop-color="#f9b632"/><stop offset="0.522" stop-color="#f9b034"/><stop offset="0.565" stop-color="#f7b332"/><stop offset="0.609" stop-color="#f4b530"/><stop offset="0.652" stop-color="#f2b82e"/><stop offset="0.696" stop-color="#efba2c"/><stop offset="0.739" stop-color="#e9bd29"/><stop offset="0.783" stop-color="#e3c027"/><stop offset="0.826" stop-color="#ddc325"/><stop offset="0.87" stop-color="#cbc427"/><stop offset="0.913" stop-color="#b6c32c"/><stop offset="0.957" stop-color="#a7c22f"/><stop offset="1" stop-color="#38c64d"/></linearGradient><linearGradient id="u35" gradientUnits="userSpaceOnUse" x1="0" y1="326" x2="0" y2="419"><stop offset="0" stop-color="#f7f116"/><stop offset="0.0435" stop-color="#f7f017"/><stop offset="0.087" stop-color="#f6ee18"/><stop offset="0.13" stop-color="#f6eb1a"/><stop offset="0.174" stop-color="#f7e61c"/><stop offset="0.217" stop-color="#f8e01f"/><stop offset="0.261" stop-color="#f9da22"/><stop offset="0.304" stop-color="#f9d225"/><stop offset="0.348" stop-color="#fac929"/><stop offset="0.391" stop-color="#fac12c"/><stop offset="0.435" stop-color="#fabc2f"/><stop offset="0.478" stop-color="#f9b631"/><stop offset="0.522" stop-color="#f9b034"/><stop offset="0.565" stop-color="#f7b232"/><stop offset="0.609" stop-color="#f4b530"/><stop offset="0.652" stop-color="#f2b82e"/><stop offset="0.696" stop-color="#efba2c"/><stop offset="0.739" stop-color="#e9bd29"/><stop offset="0.783" stop-color="#e3c027"/><stop offset="0.826" stop-color="#ddc424"/><stop offset="0.87" stop-color="#c9c328"/><stop offset="0.913" stop-color="#b5c32c"/><stop offset="0.957" stop-color="#a5c22f"/><stop offset="1" stop-color="#2cc754"/></linearGradient><linearGradient id="u36" gradientUnits="userSpaceOnUse" x1="0" y1="325" x2="0" y2="419"><stop offset="0" stop-color="#f7f215"/><stop offset="0.0417" stop-color="#f7f215"/><stop offset="0.0833" stop-color="#f6f017"/><stop offset="0.125" stop-color="#f6ed18"/><stop offset="0.167" stop-color="#f7ea1a"/><stop offset="0.208" stop-color="#f8e41d"/><stop offset="0.25" stop-color="#f8de20"/><stop offset="0.292" stop-color="#f9d723"/><stop offset="0.333" stop-color="#f9ce27"/><stop offset="0.375" stop-color="#fac62a"/><stop offset="0.417" stop-color="#fabf2d"/><stop offset="0.458" stop-color="#faba30"/><stop offset="0.5" stop-color="#f9b432"/><stop offset="0.542" stop-color="#f9b034"/><stop offset="0.583" stop-color="#f6b332"/><stop offset="0.625" stop-color="#f4b62f"/><stop offset="0.667" stop-color="#f2b82d"/><stop offset="0.708" stop-color="#eebb2b"/><stop offset="0.75" stop-color="#e8be29"/><stop offset="0.792" stop-color="#e3c127"/><stop offset="0.833" stop-color="#ddc424"/><stop offset="0.875" stop-color="#cac328"/><stop offset="0.917" stop-color="#b7c32b"/><stop offset="0.958" stop-color="#a6c22f"/><stop offset="1" stop-color="#24c757"/></linearGradient><linearGradient id="u37" gradientUnits="userSpaceOnUse" x1="0" y1="325" x2="0" y2="420"><stop offset="0" stop-color="#f7f315"/><stop offset="0.0417" stop-color="#f7f215"/><stop offset="0.0833" stop-color="#f7f016"/><stop offset="0.125" stop-color="#f6ee18"/><stop offset="0.167" stop-color="#f7eb1a"/><stop offset="0.208" stop-color="#f7e51d"/><stop offset="0.25" stop-color="#f8df20"/><stop offset="0.292" stop-color="#f9d823"/><stop offset="0.333" stop-color="#f9cf27"/><stop offset="0.375" stop-color="#fac72a"/><stop offset="0.417" stop-color="#fac02d"/><stop offset="0.458" stop-color="#faba2f"/><stop offset="0.5" stop-color="#f9b532"/><stop offset="0.542" stop-color="#f9b034"/><stop offset="0.583" stop-color="#f6b332"/><stop offset="0.625" stop-color="#f4b62f"/><stop offset="0.667" stop-color="#f1b82d"/><stop offset="0.708" stop-color="#eebb2b"/><stop offset="0.75" stop-color="#e8be29"/><stop offset="0.792" stop-color="#e2c126"/><stop offset="0.833" stop-color="#dcc424"/><stop offset="0.875" stop-color="#c7c328"/><stop offset="0.917" stop-color="#b4c32c"/><stop offset="0.958" stop-color="#9dc231"/><stop offset="1" stop-color="#1dc75b"/></linearGradient><linearGradient id="u38" gradientUnits="userSpaceOnUse" x1="0" y1="324" x2="0" y2="421"><stop offset="0" stop-color="#f7f315"/><stop offset="0.0417" stop-color="#f7f315"/><stop offset="0.0833" stop-color="#f7f116"/><stop offset="0.125" stop-color="#f6ef17"/><stop offset="0.167" stop-color="#f6ed19"/><stop offset="0.208" stop-color="#f7e71c"/><stop offset="0.25" stop-color="#f8e11e"/><stop offset="0.292" stop-color="#f9da22"/><stop offset="0.333" stop-color="#f9d225"/><stop offset="0.375" stop-color="#fac929"/><stop offset="0.417" stop-color="#fac12c"/><stop offset="0.458" stop-color="#fabb2f"/><stop offset="0.5" stop-color="#f9b632"/><stop offset="0.542" stop-color="#f9b034"/><stop offset="0.583" stop-color="#f7b332"/><stop offset="0.625" stop-color="#f4b530"/><stop offset="0.667" stop-color="#f2b82d"/><stop offset="0.708" stop-color="#eebb2b"/><stop offset="0.75" stop-color="#e7be29"/><stop offset="0.792" stop-color="#e1c126"/><stop offset="0.833" stop-color="#dac424"/><stop offset="0.875" stop-color="#c4c329"/><stop offset="0.917" stop-color="#b1c32d"/><stop offset="0.958" stop-color="#64c440"/><stop offset="1" stop-color="#13c860"/></linearGradient><linearGradient id="u39" gradientUnits="userSpaceOnUse" x1="0" y1="324" x2="0" y2="421"><stop offset="0" stop-color="#f7f414"/><stop offset="0.0417" stop-color="#f7f314"/><stop offset="0.0833" stop-color="#f7f215"/><stop offset="0.125" stop-color="#f7f017"/><stop offset="0.167" stop-color="#f6ee18"/><stop offset="0.208" stop-color="#f7e81b"/><stop offset="0.25" stop-color="#f8e31e"/><stop offset="0.292" stop-color="#f9dc21"/><stop offset="0.333" stop-color="#f9d325"/><stop offset="0.375" stop-color="#facb28"/><stop offset="0.417" stop-color="#fac32c"/><stop offset="0.458" stop-color="#fabc2e"/><stop offset="0.5" stop-color="#f9b731"/><stop offset="0.542" stop-color="#f9b134"/><stop offset="0.583" stop-color="#f7b232"/><stop offset="0.625" stop-color="#f4b530"/><stop offset="0.667" stop-color="#f2b82e"/><stop offset="0.708" stop-color="#eebb2b"/><stop offset="0.75" stop-color="#e8be29"/><stop offset="0.792" stop-color="#e2c126"/><stop offset="0.833" stop-color="#dbc424"/><stop offset="0.875" stop-color="#c6c328"/><stop offset="0.917" stop-color="#b2c32c"/><stop offset="0.958" stop-color="#65c43f"/><stop offset="1" stop-color="#12c861"/></linearGradient><linearGradient id="u40" gradientUnits="userSpaceOnUse" x1="0" y1="324" x2="0" y2="422"><stop offset="0" stop-color="#f8f414"/><stop offset="0.0417" stop-color="#f7f414"/><stop offset="0.0833" stop-color="#f7f215"/><stop offset="0.125" stop-color="#f7f116"/><stop offset="0.167" stop-color="#f6ef18"/><stop offset="0.208" stop-color="#f7e91a"/><stop offset="0.25" stop-color="#f8e41d"/><stop offset="0.292" stop-color="#f9dd21"/><stop offset="0.333" stop-color="#f9d524"/><stop offset="0.375" stop-color="#facc28"/><stop offset="0.417" stop-color="#fac32b"/><stop offset="0.458" stop-color="#fabd2e"/><stop offset="0.5" stop-color="#f9b731"/><stop offset="0.542" stop-color="#f9b133"/><stop offset="0.583" stop-color="#f7b232"/><stop offset="0.625" stop-color="#f4b530"/><stop offset="0.667" stop-color="#f2b82e"/><stop offset="0.708" stop-color="#eebb2b"/><stop offset="0.75" stop-color="#e7bf28"/><stop offset="0.792" stop-color="#e1c226"/><stop offset="0.833" stop-color="#d8c425"/><stop offset="0.875" stop-color="#c2c329"/><stop offset="0.917" stop-color="#afc32d"/><stop offset="0.958" stop-color="#3ac64c"/><stop offset="1" stop-color="#11c76b"/></linearGradient><linearGradient id="u41" gradientUnits="userSpaceOnUse" x1="0" y1="324" x2="0" y2="422"><stop offset="0" stop-color="#f8f513"/><stop offset="0.0417" stop-color="#f8f514"/><stop offset="0.0833" stop-color="#f7f315"/><stop offset="0.125" stop-color="#f7f116"/><stop offset="0.167" stop-color="#f6ef17"/><stop offset="0.208" stop-color="#f6eb1a"/><stop offset="0.25" stop-color="#f7e51c"/><stop offset="0.292" stop-color="#f8de20"/><stop offset="0.333" stop-color="#f9d624"/><stop offset="0.375" stop-color="#facd27"/><stop offset="0.417" stop-color="#fac52b"/><stop offset="0.458" stop-color="#fabe2e"/><stop offset="0.5" stop-color="#f9b831"/><stop offset="0.542" stop-color="#f9b233"/><stop offset="0.583" stop-color="#f7b233"/><stop offset="0.625" stop-color="#f5b530"/><stop offset="0.667" stop-color="#f2b82e"/><stop offset="0.708" stop-color="#eebb2b"/><stop offset="0.75" stop-color="#e7be29"/><stop offset="0.792" stop-color="#e1c126"/><stop offset="0.833" stop-color="#d9c425"/><stop offset="0.875" stop-color="#c4c329"/><stop offset="0.917" stop-color="#afc32d"/><stop offset="0.958" stop-color="#3ec64a"/><stop offset="1" stop-color="#11c76d"/></linearGradient><linearGradient id="u42" gradientUnits="userSpaceOnUse" x1="0" y1="324" x2="0" y2="423"><stop offset="0" stop-color="#f8f613"/><stop offset="0.04" stop-color="#f8f513"/><stop offset="0.08" stop-color="#f7f414"/><stop offset="0.12" stop-color="#f7f215"/><stop offset="0.16" stop-color="#f7f016"/><stop offset="0.2" stop-color="#f6ed19"/><stop offset="0.24" stop-color="#f7e81b"/><stop offset="0.28" stop-color="#f8e11e"/><stop offset="0.32" stop-color="#f9da22"/><stop offset="0.36" stop-color="#f9d226"/><stop offset="0.4" stop-color="#fac929"/><stop offset="0.44" stop-color="#fac12c"/><stop offset="0.48" stop-color="#fabb2f"/><stop offset="0.52" stop-color="#f9b532"/><stop offset="0.56" stop-color="#f9b034"/><stop offset="0.6" stop-color="#f6b332"/><stop offset="0.64" stop-color="#f4b62f"/><stop offset="0.68" stop-color="#f1b92d"/><stop offset="0.72" stop-color="#ebbc2a"/><stop offset="0.76" stop-color="#e5bf28"/><stop offset="0.8" stop-color="#dfc225"/><stop offset="0.84" stop-color="#d3c426"/><stop offset="0.88" stop-color="#bec32a"/><stop offset="0.92" stop-color="#a8c32e"/><stop offset="0.96" stop-color="#2ec752"/><stop offset="1" stop-color="#12c67b"/></linearGradient><linearGradient id="u43" gradientUnits="userSpaceOnUse" x1="0" y1="324" x2="0" y2="424"><stop offset="0" stop-color="#f8f613"/><stop offset="0.04" stop-color="#f8f513"/><stop offset="0.08" stop-color="#f8f414"/><stop offset="0.12" stop-color="#f7f315"/><stop offset="0.16" stop-color="#f7f116"/><stop offset="0.2" stop-color="#f6ee18"/><stop offset="0.24" stop-color="#f7e81b"/><stop offset="0.28" stop-color="#f8e21e"/><stop offset="0.32" stop-color="#f9db22"/><stop offset="0.36" stop-color="#f9d225"/><stop offset="0.4" stop-color="#faca29"/><stop offset="0.44" stop-color="#fac12c"/><stop offset="0.48" stop-color="#fabb2f"/><stop offset="0.52" stop-color="#f9b532"/><stop offset="0.56" stop-color="#f9b034"/><stop offset="0.6" stop-color="#f6b331"/><stop offset="0.64" stop-color="#f3b62f"/><stop offset="0.68" stop-color="#f1b92d"/><stop offset="0.72" stop-color="#eabd2a"/><stop offset="0.76" stop-color="#e4c027"/><stop offset="0.8" stop-color="#dec325"/><stop offset="0.84" stop-color="#cdc427"/><stop offset="0.88" stop-color="#b6c32c"/><stop offset="0.92" stop-color="#87c336"/><stop offset="0.96" stop-color="#1cc75c"/><stop offset="1" stop-color="#11c48a"/></linearGradient><linearGradient id="u44" gradientUnits="userSpaceOnUse" x1="0" y1="324" x2="0" y2="424"><stop offset="0" stop-color="#f8f613"/><stop offset="0.04" stop-color="#f8f613"/><stop offset="0.08" stop-color="#f8f414"/><stop offset="0.12" stop-color="#f7f315"/><stop offset="0.16" stop-color="#f7f116"/><stop offset="0.2" stop-color="#f6ee18"/><stop offset="0.24" stop-color="#f7e81b"/><stop offset="0.28" stop-color="#f8e21e"/><stop offset="0.32" stop-color="#f9db22"/><stop offset="0.36" stop-color="#f9d225"/><stop offset="0.4" stop-color="#fac929"/><stop offset="0.44" stop-color="#fac12d"/><stop offset="0.48" stop-color="#faba2f"/><stop offset="0.52" stop-color="#f9b532"/><stop offset="0.56" stop-color="#f9b034"/><stop offset="0.6" stop-color="#f6b331"/><stop offset="0.64" stop-color="#f3b62f"/><stop offset="0.68" stop-color="#f1b92c"/><stop offset="0.72" stop-color="#eabd29"/><stop offset="0.76" stop-color="#e3c027"/><stop offset="0.8" stop-color="#d9c425"/><stop offset="0.84" stop-color="#bcc32a"/><stop offset="0.88" stop-color="#9fc230"/><stop offset="0.92" stop-color="#65c43f"/><stop offset="0.96" stop-color="#10c863"/><stop offset="1" stop-color="#11c48c"/></linearGradient><linearGradient id="u45" gradientUnits="userSpaceOnUse" x1="0" y1="324" x2="0" y2="424"><stop offset="0" stop-color="#f8f612"/><stop offset="0.04" stop-color="#f8f613"/><stop offset="0.08" stop-color="#f8f414"/><stop offset="0.12" stop-color="#f7f215"/><stop offset="0.16" stop-color="#f7f116"/><stop offset="0.2" stop-color="#f6ee18"/><stop offset="0.24" stop-color="#f7e81b"/><stop offset="0.28" stop-color="#f8e21e"/><stop offset="0.32" stop-color="#f9db22"/><stop offset="0.36" stop-color="#f9d225"/><stop offset="0.4" stop-color="#fac929"/><stop offset="0.44" stop-color="#fac02d"/><stop offset="0.48" stop-color="#faba30"/><stop offset="0.52" stop-color="#f9b432"/><stop offset="0.56" stop-color="#f8b133"/><stop offset="0.6" stop-color="#f6b431"/><stop offset="0.64" stop-color="#f3b72f"/><stop offset="0.68" stop-color="#f0ba2c"/><stop offset="0.72" stop-color="#e9bd29"/><stop offset="0.76" stop-color="#e3c127"/><stop offset="0.8" stop-color="#cfc427"/><stop offset="0.84" stop-color="#abc32e"/><stop offset="0.88" stop-color="#83c337"/><stop offset="0.92" stop-color="#42c649"/><stop offset="0.96" stop-color="#11c76d"/><stop offset="1" stop-color="#11c38e"/></linearGradient><linearGradient id="u46" gradientUnits="userSpaceOnUse" x1="0" y1="324" x2="0" y2="425"><stop offset="0" stop-color="#f8f612"/><stop offset="0.04" stop-color="#f8f613"/><stop offset="0.08" stop-color="#f8f414"/><stop offset="0.12" stop-color="#f7f215"/><stop offset="0.16" stop-color="#f7f016"/><stop offset="0.2" stop-color="#f6ed18"/><stop offset="0.24" stop-color="#f7e81b"/><stop offset="0.28" stop-color="#f8e11e"/><stop offset="0.32" stop-color="#f9da22"/><stop offset="0.36" stop-color="#f9d126"/><stop offset="0.4" stop-color="#fac72a"/><stop offset="0.44" stop-color="#fabf2d"/><stop offset="0.48" stop-color="#f9b930"/><stop offset="0.52" stop-color="#f9b333"/><stop offset="0.56" stop-color="#f8b133"/><stop offset="0.6" stop-color="#f5b430"/><stop offset="0.64" stop-color="#f2b72e"/><stop offset="0.68" stop-color="#efbb2c"/><stop offset="0.72" stop-color="#e7be29"/><stop offset="0.76" stop-color="#e0c225"/><stop offset="0.8" stop-color="#bdc32a"/><stop offset="0.84" stop-color="#90c234"/><stop offset="0.88" stop-color="#59c543"/><stop offset="0.92" stop-color="#21c759"/><stop offset="0.96" stop-color="#12c67d"/><stop offset="1" stop-color="#10c196"/></linearGradient><linearGradient id="u47" gradientUnits="userSpaceOnUse" x1="0" y1="324" x2="0" y2="425"><stop offset="0" stop-color="#f8f712"/><stop offset="0.04" stop-color="#f8f613"/><stop offset="0.08" stop-color="#f8f414"/><stop offset="0.12" stop-color="#f7f215"/><stop offset="0.16" stop-color="#f7f016"/><stop offset="0.2" stop-color="#f6ed18"/><stop offset="0.24" stop-color="#f7e71b"/><stop offset="0.28" stop-color="#f8e11f"/><stop offset="0.32" stop-color="#f9da22"/><stop offset="0.36" stop-color="#f9d026"/><stop offset="0.4" stop-color="#fac72a"/><stop offset="0.44" stop-color="#fabf2d"/><stop offset="0.48" stop-color="#f9b830"/><stop offset="0.52" stop-color="#f9b333"/><stop offset="0.56" stop-color="#f8b233"/><stop offset="0.6" stop-color="#f5b530"/><stop offset="0.64" stop-color="#f2b82e"/><stop offset="0.68" stop-color="#eebb2b"/><stop offset="0.72" stop-color="#e7bf28"/><stop offset="0.76" stop-color="#dec325"/><stop offset="0.8" stop-color="#b2c32c"/><stop offset="0.84" stop-color="#79c33a"/><stop offset="0.88" stop-color="#3cc64b"/><stop offset="0.92" stop-color="#10c862"/><stop offset="0.96" stop-color="#12c584"/><stop offset="1" stop-color="#10c196"/></linearGradient><linearGradient id="u48" gradientUnits="userSpaceOnUse" x1="0" y1="324" x2="0" y2="425"><stop offset="0" stop-color="#f8f712"/><stop offset="0.04" stop-color="#f8f613"/><stop offset="0.08" stop-color="#f8f414"/><stop offset="0.12" stop-color="#f7f215"/><stop offset="0.16" stop-color="#f7f017"/><stop offset="0.2" stop-color="#f6ed18"/><stop offset="0.24" stop-color="#f7e71b"/><stop offset="0.28" stop-color="#f8e11f"/><stop offset="0.32" stop-color="#f9d922"/><stop offset="0.36" stop-color="#f9d026"/><stop offset="0.4" stop-color="#fac62a"/><stop offset="0.44" stop-color="#fabf2d"/><stop offset="0.48" stop-color="#f9b830"/><stop offset="0.52" stop-color="#f9b233"/><stop offset="0.56" stop-color="#f7b232"/><stop offset="0.6" stop-color="#f5b530"/><stop offset="0.64" stop-color="#f2b82e"/><stop offset="0.68" stop-color="#edbb2b"/><stop offset="0.72" stop-color="#e6bf28"/><stop offset="0.76" stop-color="#ddc325"/><stop offset="0.8" stop-color="#a7c22f"/><stop offset="0.84" stop-color="#62c440"/><stop offset="0.88" stop-color="#2bc754"/><stop offset="0.92" stop-color="#11c76e"/><stop offset="0.96" stop-color="#11c48b"/><stop offset="1" stop-color="#10c197"/></linearGradient><linearGradient id="u49" gradientUnits="userSpaceOnUse" x1="0" y1="324" x2="0" y2="426"><stop offset="0" stop-color="#f8f712"/><stop offset="0.0385" stop-color="#f8f612"/><stop offset="0.0769" stop-color="#f8f414"/><stop offset="0.115" stop-color="#f7f315"/><stop offset="0.154" stop-color="#f7f016"/><stop offset="0.192" stop-color="#f6ee18"/><stop offset="0.231" stop-color="#f7e81b"/><stop offset="0.269" stop-color="#f8e21e"/><stop offset="0.308" stop-color="#f9db21"/><stop offset="0.346" stop-color="#f9d225"/><stop offset="0.385" stop-color="#fac929"/><stop offset="0.423" stop-color="#fac02d"/><stop offset="0.462" stop-color="#faba30"/><stop offset="0.5" stop-color="#f9b432"/><stop offset="0.538" stop-color="#f8b133"/><stop offset="0.577" stop-color="#f6b431"/><stop offset="0.615" stop-color="#f3b72f"/><stop offset="0.654" stop-color="#f0ba2c"/><stop offset="0.692" stop-color="#e9bd29"/><stop offset="0.731" stop-color="#e2c127"/><stop offset="0.769" stop-color="#c1c329"/><stop offset="0.808" stop-color="#7dc339"/><stop offset="0.846" stop-color="#35c64e"/><stop offset="0.885" stop-color="#10c865"/><stop offset="0.923" stop-color="#12c684"/><stop offset="0.962" stop-color="#10c293"/><stop offset="1" stop-color="#10c197"/></linearGradient><linearGradient id="u50" gradientUnits="userSpaceOnUse" x1="0" y1="324" x2="0" y2="426"><stop offset="0" stop-color="#f8f712"/><stop offset="0.0385" stop-color="#f8f613"/><stop offset="0.0769" stop-color="#f8f414"/><stop offset="0.115" stop-color="#f7f215"/><stop offset="0.154" stop-color="#f7f017"/><stop offset="0.192" stop-color="#f6ee18"/><stop offset="0.231" stop-color="#f7e81b"/><stop offset="0.269" stop-color="#f8e11e"/><stop offset="0.308" stop-color="#f9db22"/><stop offset="0.346" stop-color="#f9d226"/><stop offset="0.385" stop-color="#fac829"/><stop offset="0.423" stop-color="#fac02d"/><stop offset="0.462" stop-color="#faba30"/><stop offset="0.5" stop-color="#f9b333"/><stop offset="0.538" stop-color="#f8b133"/><stop offset="0.577" stop-color="#f5b431"/><stop offset="0.615" stop-color="#f3b72f"/><stop offset="0.654" stop-color="#f0ba2c"/><stop offset="0.692" stop-color="#e9bd29"/><stop offset="0.731" stop-color="#e2c127"/><stop offset="0.769" stop-color="#c1c329"/><stop offset="0.808" stop-color="#7ac33a"/><stop offset="0.846" stop-color="#31c751"/><stop offset="0.885" stop-color="#11c76a"/><stop offset="0.923" stop-color="#11c588"/><stop offset="0.962" stop-color="#10c196"/><stop offset="1" stop-color="#10c197"/></linearGradient><linearGradient id="u51" gradientUnits="userSpaceOnUse" x1="0" y1="324" x2="0" y2="426"><stop offset="0" stop-color="#f8f612"/><stop offset="0.0385" stop-color="#f8f613"/><stop offset="0.0769" stop-color="#f8f414"/><stop offset="0.115" stop-color="#f7f215"/><stop offset="0.154" stop-color="#f6f017"/><stop offset="0.192" stop-color="#f6ed19"/><stop offset="0.231" stop-color="#f7e71b"/><stop offset="0.269" stop-color="#f8e11f"/><stop offset="0.308" stop-color="#f9da22"/><stop offset="0.346" stop-color="#f9d126"/><stop offset="0.385" stop-color="#fac82a"/><stop offset="0.423" stop-color="#fac02d"/><stop offset="0.462" stop-color="#fab930"/><stop offset="0.5" stop-color="#f9b333"/><stop offset="0.538" stop-color="#f8b133"/><stop offset="0.577" stop-color="#f5b431"/><stop offset="0.615" stop-color="#f3b72f"/><stop offset="0.654" stop-color="#f0b92c"/><stop offset="0.692" stop-color="#eabd2a"/><stop offset="0.731" stop-color="#e3c027"/><stop offset="0.769" stop-color="#c7c328"/><stop offset="0.808" stop-color="#84c337"/><stop offset="0.846" stop-color="#34c64f"/><stop offset="0.885" stop-color="#10c869"/><stop offset="0.923" stop-color="#11c588"/><stop offset="0.962" stop-color="#10c196"/><stop offset="1" stop-color="#10c198"/></linearGradient><linearGradient id="u52" gradientUnits="userSpaceOnUse" x1="0" y1="324" x2="0" y2="426"><stop offset="0" stop-color="#f8f613"/><stop offset="0.0385" stop-color="#f8f613"/><stop offset="0.0769" stop-color="#f8f414"/><stop offset="0.115" stop-color="#f7f215"/><stop offset="0.154" stop-color="#f6f017"/><stop offset="0.192" stop-color="#f6ec19"/><stop offset="0.231" stop-color="#f7e71c"/><stop offset="0.269" stop-color="#f8e01f"/><stop offset="0.308" stop-color="#f9d922"/><stop offset="0.346" stop-color="#f9d026"/><stop offset="0.385" stop-color="#fac72a"/><stop offset="0.423" stop-color="#fabf2d"/><stop offset="0.462" stop-color="#fab930"/><stop offset="0.5" stop-color="#f9b333"/><stop offset="0.538" stop-color="#f8b133"/><stop offset="0.577" stop-color="#f5b431"/><stop offset="0.615" stop-color="#f3b72f"/><stop offset="0.654" stop-color="#f1b92d"/><stop offset="0.692" stop-color="#ebbd2a"/><stop offset="0.731" stop-color="#e4c027"/><stop offset="0.769" stop-color="#ccc427"/><stop offset="0.808" stop-color="#8ec234"/><stop offset="0.846" stop-color="#38c64d"/><stop offset="0.885" stop-color="#10c867"/><stop offset="0.923" stop-color="#11c587"/><stop offset="0.962" stop-color="#10c196"/><stop offset="1" stop-color="#0fc198"/></linearGradient><linearGradient id="u53" gradientUnits="userSpaceOnUse" x1="0" y1="324" x2="0" y2="426"><stop offset="0" stop-color="#f8f613"/><stop offset="0.0385" stop-color="#f8f513"/><stop offset="0.0769" stop-color="#f8f414"/><stop offset="0.115" stop-color="#f7f215"/><stop offset="0.154" stop-color="#f6ef17"/><stop offset="0.192" stop-color="#f6ec19"/><stop offset="0.231" stop-color="#f7e61c"/><stop offset="0.269" stop-color="#f8e01f"/><stop offset="0.308" stop-color="#f9d823"/><stop offset="0.346" stop-color="#f9cf26"/><stop offset="0.385" stop-color="#fac72a"/><stop offset="0.423" stop-color="#fabf2d"/><stop offset="0.462" stop-color="#f9b930"/><stop offset="0.5" stop-color="#f9b333"/><stop offset="0.538" stop-color="#f8b133"/><stop offset="0.577" stop-color="#f5b431"/><stop offset="0.615" stop-color="#f3b72f"/><stop offset="0.654" stop-color="#f1b92d"/><stop offset="0.692" stop-color="#ebbc2a"/><stop offset="0.731" stop-color="#e5c027"/><stop offset="0.769" stop-color="#d2c426"/><stop offset="0.808" stop-color="#98c232"/><stop offset="0.846" stop-color="#3cc64b"/><stop offset="0.885" stop-color="#10c865"/><stop offset="0.923" stop-color="#11c587"/><stop offset="0.962" stop-color="#10c196"/><stop offset="1" stop-color="#0fc199"/></linearGradient><linearGradient id="u54" gradientUnits="userSpaceOnUse" x1="0" y1="324" x2="0" y2="425"><stop offset="0" stop-color="#f8f513"/><stop offset="0.04" stop-color="#f8f513"/><stop offset="0.08" stop-color="#f7f414"/><stop offset="0.12" stop-color="#f7f116"/><stop offset="0.16" stop-color="#f6ef17"/><stop offset="0.2" stop-color="#f7ea1a"/><stop offset="0.24" stop-color="#f7e41d"/><stop offset="0.28" stop-color="#f8dd20"/><stop offset="0.32" stop-color="#f9d524"/><stop offset="0.36" stop-color="#facc28"/><stop offset="0.4" stop-color="#fac42b"/><stop offset="0.44" stop-color="#fabd2e"/><stop offset="0.48" stop-color="#f9b731"/><stop offset="0.52" stop-color="#f9b134"/><stop offset="0.56" stop-color="#f7b232"/><stop offset="0.6" stop-color="#f4b530"/><stop offset="0.64" stop-color="#f2b82e"/><stop offset="0.68" stop-color="#f0ba2c"/><stop offset="0.72" stop-color="#e8be29"/><stop offset="0.76" stop-color="#e0c226"/><stop offset="0.8" stop-color="#bec32a"/><stop offset="0.84" stop-color="#66c43f"/><stop offset="0.88" stop-color="#1fc75a"/><stop offset="0.92" stop-color="#12c67c"/><stop offset="0.96" stop-color="#10c196"/><stop offset="1" stop-color="#0fc198"/></linearGradient><linearGradient id="u55" gradientUnits="userSpaceOnUse" x1="0" y1="325" x2="0" y2="425"><stop offset="0" stop-color="#f8f513"/><stop offset="0.04" stop-color="#f8f514"/><stop offset="0.08" stop-color="#f7f315"/><stop offset="0.12" stop-color="#f7f116"/><stop offset="0.16" stop-color="#f6ee18"/><stop offset="0.2" stop-color="#f7e91b"/><stop offset="0.24" stop-color="#f8e21e"/><stop offset="0.28" stop-color="#f9dc21"/><stop offset="0.32" stop-color="#f9d325"/><stop offset="0.36" stop-color="#faca29"/><stop offset="0.4" stop-color="#fac22c"/><stop offset="0.44" stop-color="#fabc2f"/><stop offset="0.48" stop-color="#f9b631"/><stop offset="0.52" stop-color="#f9b034"/><stop offset="0.56" stop-color="#f7b332"/><stop offset="0.6" stop-color="#f4b530"/><stop offset="0.64" stop-color="#f2b82e"/><stop offset="0.68" stop-color="#f0ba2c"/><stop offset="0.72" stop-color="#e9be29"/><stop offset="0.76" stop-color="#e1c226"/><stop offset="0.8" stop-color="#c5c329"/><stop offset="0.84" stop-color="#6bc43e"/><stop offset="0.88" stop-color="#20c75a"/><stop offset="0.92" stop-color="#12c67c"/><stop offset="0.96" stop-color="#10c196"/><stop offset="1" stop-color="#0fc199"/></linearGradient><linearGradient id="u56" gradientUnits="userSpaceOnUse" x1="0" y1="325" x2="0" y2="424"><stop offset="0" stop-color="#f8f514"/><stop offset="0.04" stop-color="#f8f414"/><stop offset="0.08" stop-color="#f7f315"/><stop offset="0.12" stop-color="#f7f116"/><stop offset="0.16" stop-color="#f6ee18"/><stop offset="0.2" stop-color="#f7e81b"/><stop offset="0.24" stop-color="#f8e21e"/><stop offset="0.28" stop-color="#f9db21"/><stop offset="0.32" stop-color="#f9d325"/><stop offset="0.36" stop-color="#faca29"/><stop offset="0.4" stop-color="#fac22c"/><stop offset="0.44" stop-color="#fabc2f"/><stop offset="0.48" stop-color="#f9b631"/><stop offset="0.52" stop-color="#f9b134"/><stop offset="0.56" stop-color="#f7b232"/><stop offset="0.6" stop-color="#f5b530"/><stop offset="0.64" stop-color="#f3b72e"/><stop offset="0.68" stop-color="#f0b92c"/><stop offset="0.72" stop-color="#ebbd2a"/><stop offset="0.76" stop-color="#e4c027"/><stop offset="0.8" stop-color="#d5c425"/><stop offset="0.84" stop-color="#89c335"/><stop offset="0.88" stop-color="#2fc752"/><stop offset="0.92" stop-color="#11c772"/><stop offset="0.96" stop-color="#10c295"/><stop offset="1" stop-color="#0fc198"/></linearGradient><linearGradient id="u57" gradientUnits="userSpaceOnUse" x1="0" y1="326" x2="0" y2="424"><stop offset="0" stop-color="#f8f414"/><stop offset="0.0417" stop-color="#f8f414"/><stop offset="0.0833" stop-color="#f7f215"/><stop offset="0.125" stop-color="#f6ef17"/><stop offset="0.167" stop-color="#f6eb19"/><stop offset="0.208" stop-color="#f7e51c"/><stop offset="0.25" stop-color="#f8df20"/><stop offset="0.292" stop-color="#f9d723"/><stop offset="0.333" stop-color="#face27"/><stop offset="0.375" stop-color="#fac52b"/><stop offset="0.417" stop-color="#fabe2e"/><stop offset="0.458" stop-color="#f9b830"/><stop offset="0.5" stop-color="#f9b333"/><stop offset="0.542" stop-color="#f8b233"/><stop offset="0.583" stop-color="#f5b431"/><stop offset="0.625" stop-color="#f3b62f"/><stop offset="0.667" stop-color="#f1b92d"/><stop offset="0.708" stop-color="#edbc2b"/><stop offset="0.75" stop-color="#e6bf28"/><stop offset="0.792" stop-color="#dec325"/><stop offset="0.833" stop-color="#9ec230"/><stop offset="0.875" stop-color="#37c64d"/><stop offset="0.917" stop-color="#11c76f"/><stop offset="0.958" stop-color="#10c294"/><stop offset="1" stop-color="#0fc198"/></linearGradient><linearGradient id="u58" gradientUnits="userSpaceOnUse" x1="0" y1="327" x2="0" y2="423"><stop offset="0" stop-color="#f7f414"/><stop offset="0.0417" stop-color="#f7f414"/><stop offset="0.0833" stop-color="#f7f116"/><stop offset="0.125" stop-color="#f6ef18"/><stop offset="0.167" stop-color="#f7ea1a"/><stop offset="0.208" stop-color="#f8e41d"/><stop offset="0.25" stop-color="#f9dd20"/><stop offset="0.292" stop-color="#f9d524"/><stop offset="0.333" stop-color="#facd28"/><stop offset="0.375" stop-color="#fac42b"/><stop offset="0.417" stop-color="#fabe2e"/><stop offset="0.458" stop-color="#f9b830"/><stop offset="0.5" stop-color="#f9b333"/><stop offset="0.542" stop-color="#f8b133"/><stop offset="0.583" stop-color="#f6b431"/><stop offset="0.625" stop-color="#f4b62f"/><stop offset="0.667" stop-color="#f2b82d"/><stop offset="0.708" stop-color="#eebb2b"/><stop offset="0.75" stop-color="#e7be29"/><stop offset="0.792" stop-color="#e0c226"/><stop offset="0.833" stop-color="#b3c32c"/><stop offset="0.875" stop-color="#4cc546"/><stop offset="0.917" stop-color="#10c865"/><stop offset="0.958" stop-color="#11c48c"/><stop offset="1" stop-color="#10c198"/></linearGradient><linearGradient id="u59" gradientUnits="userSpaceOnUse" x1="0" y1="328" x2="0" y2="423"><stop offset="0" stop-color="#f7f315"/><stop offset="0.0417" stop-color="#f7f215"/><stop offset="0.0833" stop-color="#f6f017"/><stop offset="0.125" stop-color="#f6ee18"/><stop offset="0.167" stop-color="#f7e81b"/><stop offset="0.208" stop-color="#f8e21e"/><stop offset="0.25" stop-color="#f9dc21"/><stop offset="0.292" stop-color="#f9d425"/><stop offset="0.333" stop-color="#facb28"/><stop offset="0.375" stop-color="#fac32b"/><stop offset="0.417" stop-color="#fabd2e"/><stop offset="0.458" stop-color="#f9b831"/><stop offset="0.5" stop-color="#f9b233"/><stop offset="0.542" stop-color="#f8b133"/><stop offset="0.583" stop-color="#f6b431"/><stop offset="0.625" stop-color="#f4b62f"/><stop offset="0.667" stop-color="#f2b82e"/><stop offset="0.708" stop-color="#efba2c"/><stop offset="0.75" stop-color="#e8be29"/><stop offset="0.792" stop-color="#e1c226"/><stop offset="0.833" stop-color="#b2c32c"/><stop offset="0.875" stop-color="#4ac547"/><stop offset="0.917" stop-color="#10c866"/><stop offset="0.958" stop-color="#11c48d"/><stop offset="1" stop-color="#0fc198"/></linearGradient><linearGradient id="u60" gradientUnits="userSpaceOnUse" x1="0" y1="330" x2="0" y2="422"><stop offset="0" stop-color="#f7f116"/><stop offset="0.0435" stop-color="#f7f017"/><stop offset="0.087" stop-color="#f6ee18"/><stop offset="0.13" stop-color="#f7ea1a"/><stop offset="0.174" stop-color="#f7e41d"/><stop offset="0.217" stop-color="#f8df20"/><stop offset="0.261" stop-color="#f9d723"/><stop offset="0.304" stop-color="#f9cf27"/><stop offset="0.348" stop-color="#fac62a"/><stop offset="0.391" stop-color="#fac02d"/><stop offset="0.435" stop-color="#faba30"/><stop offset="0.478" stop-color="#f9b532"/><stop offset="0.522" stop-color="#f9b034"/><stop offset="0.565" stop-color="#f7b332"/><stop offset="0.609" stop-color="#f5b530"/><stop offset="0.652" stop-color="#f3b72e"/><stop offset="0.696" stop-color="#f1b92d"/><stop offset="0.739" stop-color="#ebbc2a"/><stop offset="0.783" stop-color="#e4c027"/><stop offset="0.826" stop-color="#cec427"/><stop offset="0.87" stop-color="#6cc43e"/><stop offset="0.913" stop-color="#1bc85c"/><stop offset="0.957" stop-color="#12c683"/><stop offset="1" stop-color="#10c197"/></linearGradient><linearGradient id="u61" gradientUnits="userSpaceOnUse" x1="0" y1="331" x2="0" y2="420"><stop offset="0" stop-color="#f7f017"/><stop offset="0.0455" stop-color="#f6ef17"/><stop offset="0.0909" stop-color="#f6ed18"/><stop offset="0.136" stop-color="#f7e81b"/><stop offset="0.182" stop-color="#f8e21e"/><stop offset="0.227" stop-color="#f9dc21"/><stop offset="0.273" stop-color="#f9d424"/><stop offset="0.318" stop-color="#facc28"/><stop offset="0.364" stop-color="#fac42b"/><stop offset="0.409" stop-color="#fabe2e"/><stop offset="0.455" stop-color="#f9b830"/><stop offset="0.5" stop-color="#f9b332"/><stop offset="0.545" stop-color="#f8b133"/><stop offset="0.591" stop-color="#f6b332"/><stop offset="0.636" stop-color="#f4b530"/><stop offset="0.682" stop-color="#f2b82e"/><stop offset="0.727" stop-color="#f0ba2c"/><stop offset="0.773" stop-color="#e9be29"/><stop offset="0.818" stop-color="#e1c126"/><stop offset="0.864" stop-color="#a6c22f"/><stop offset="0.909" stop-color="#3bc64c"/><stop offset="0.955" stop-color="#11c76e"/><stop offset="1" stop-color="#10c295"/></linearGradient><linearGradient id="u62" gradientUnits="userSpaceOnUse" x1="0" y1="333" x2="0" y2="418"><stop offset="0" stop-color="#f6ef18"/><stop offset="0.0476" stop-color="#f6ed18"/><stop offset="0.0952" stop-color="#f7eb1a"/><stop offset="0.143" stop-color="#f7e51d"/><stop offset="0.19" stop-color="#f8df1f"/><stop offset="0.238" stop-color="#f9d823"/><stop offset="0.286" stop-color="#f9d026"/><stop offset="0.333" stop-color="#fac82a"/><stop offset="0.381" stop-color="#fac12d"/><stop offset="0.429" stop-color="#fabb2f"/><stop offset="0.476" stop-color="#f9b631"/><stop offset="0.524" stop-color="#f9b233"/><stop offset="0.571" stop-color="#f8b233"/><stop offset="0.619" stop-color="#f6b431"/><stop offset="0.667" stop-color="#f4b62f"/><stop offset="0.714" stop-color="#f2b82d"/><stop offset="0.762" stop-color="#eebb2b"/><stop offset="0.81" stop-color="#e6bf28"/><stop offset="0.857" stop-color="#d6c425"/><stop offset="0.905" stop-color="#73c43c"/><stop offset="0.952" stop-color="#1dc75b"/><stop offset="1" stop-color="#12c683"/></linearGradient><linearGradient id="u63" gradientUnits="userSpaceOnUse" x1="0" y1="335" x2="0" y2="416"><stop offset="0" stop-color="#f6ed19"/><stop offset="0.05" stop-color="#f6ec19"/><stop offset="0.1" stop-color="#f7e71b"/><stop offset="0.15" stop-color="#f8e21e"/><stop offset="0.2" stop-color="#f9dc21"/><stop offset="0.25" stop-color="#f9d425"/><stop offset="0.3" stop-color="#facc28"/><stop offset="0.35" stop-color="#fac42b"/><stop offset="0.4" stop-color="#fabe2e"/><stop offset="0.45" stop-color="#f9b930"/><stop offset="0.5" stop-color="#f9b432"/><stop offset="0.55" stop-color="#f9b034"/><stop offset="0.6" stop-color="#f7b232"/><stop offset="0.65" stop-color="#f5b530"/><stop offset="0.7" stop-color="#f3b72f"/><stop offset="0.75" stop-color="#f1b92d"/><stop offset="0.8" stop-color="#ebbd2a"/><stop offset="0.85" stop-color="#e3c127"/><stop offset="0.9" stop-color="#aac32e"/><stop offset="0.95" stop-color="#3cc64b"/><stop offset="1" stop-color="#11c76e"/></linearGradient><linearGradient id="u64" gradientUnits="userSpaceOnUse" x1="0" y1="336" x2="0" y2="415"><stop offset="0" stop-color="#f6eb19"/><stop offset="0.05" stop-color="#f6eb19"/><stop offset="0.1" stop-color="#f7e61c"/><stop offset="0.15" stop-color="#f8e11f"/><stop offset="0.2" stop-color="#f9db22"/><stop offset="0.25" stop-color="#f9d325"/><stop offset="0.3" stop-color="#facb28"/><stop offset="0.35" stop-color="#fac42b"/><stop offset="0.4" stop-color="#fabe2e"/><stop offset="0.45" stop-color="#fab930"/><stop offset="0.5" stop-color="#f9b532"/><stop offset="0.55" stop-color="#f9b134"/><stop offset="0.6" stop-color="#f7b233"/><stop offset="0.65" stop-color="#f5b431"/><stop offset="0.7" stop-color="#f3b62f"/><stop offset="0.75" stop-color="#f1b82d"/><stop offset="0.8" stop-color="#edbc2b"/><stop offset="0.85" stop-color="#e5bf28"/><stop offset="0.9" stop-color="#bec32a"/><stop offset="0.95" stop-color="#56c543"/><stop offset="1" stop-color="#10c863"/></linearGradient><linearGradient id="u65" gradientUnits="userSpaceOnUse" x1="0" y1="338" x2="0" y2="413"><stop offset="0" stop-color="#f7e81b"/><stop offset="0.0526" stop-color="#f7e61c"/><stop offset="0.105" stop-color="#f8e11e"/><stop offset="0.158" stop-color="#f9dd21"/><stop offset="0.211" stop-color="#f9d624"/><stop offset="0.263" stop-color="#face27"/><stop offset="0.316" stop-color="#fac62a"/><stop offset="0.368" stop-color="#fac02d"/><stop offset="0.421" stop-color="#fabb2f"/><stop offset="0.474" stop-color="#f9b631"/><stop offset="0.526" stop-color="#f9b233"/><stop offset="0.579" stop-color="#f8b133"/><stop offset="0.632" stop-color="#f6b331"/><stop offset="0.684" stop-color="#f4b530"/><stop offset="0.737" stop-color="#f2b72e"/><stop offset="0.789" stop-color="#f0ba2c"/><stop offset="0.842" stop-color="#e9be29"/><stop offset="0.895" stop-color="#e1c226"/><stop offset="0.947" stop-color="#98c232"/><stop offset="1" stop-color="#36c64e"/></linearGradient><linearGradient id="u66" gradientUnits="userSpaceOnUse" x1="0" y1="340" x2="0" y2="411"><stop offset="0" stop-color="#f8e41d"/><stop offset="0.0556" stop-color="#f8e01f"/><stop offset="0.111" stop-color="#f9dc21"/><stop offset="0.167" stop-color="#f9d723"/><stop offset="0.222" stop-color="#f9cf26"/><stop offset="0.278" stop-color="#fac82a"/><stop offset="0.333" stop-color="#fac12c"/><stop offset="0.389" stop-color="#fabc2f"/><stop offset="0.444" stop-color="#f9b731"/><stop offset="0.5" stop-color="#f9b333"/><stop offset="0.556" stop-color="#f8b133"/><stop offset="0.611" stop-color="#f6b332"/><stop offset="0.667" stop-color="#f5b530"/><stop offset="0.722" stop-color="#f3b72e"/><stop offset="0.778" stop-color="#f1b92d"/><stop offset="0.833" stop-color="#ebbc2a"/><stop offset="0.889" stop-color="#e4c027"/><stop offset="0.944" stop-color="#c7c328"/><stop offset="1" stop-color="#7bc339"/></linearGradient><linearGradient id="u67" gradientUnits="userSpaceOnUse" x1="0" y1="342" x2="0" y2="409"><stop offset="0" stop-color="#f8de20"/><stop offset="0.0588" stop-color="#f9db21"/><stop offset="0.118" stop-color="#f9d823"/><stop offset="0.176" stop-color="#f9d126"/><stop offset="0.235" stop-color="#faca29"/><stop offset="0.294" stop-color="#fac22c"/><stop offset="0.353" stop-color="#fabd2e"/><stop offset="0.412" stop-color="#f9b831"/><stop offset="0.471" stop-color="#f9b332"/><stop offset="0.529" stop-color="#f9b034"/><stop offset="0.588" stop-color="#f7b332"/><stop offset="0.647" stop-color="#f5b530"/><stop offset="0.706" stop-color="#f3b72f"/><stop offset="0.765" stop-color="#f1b92d"/><stop offset="0.824" stop-color="#edbc2b"/><stop offset="0.882" stop-color="#e6bf28"/><stop offset="0.941" stop-color="#dfc225"/><stop offset="1" stop-color="#afc32d"/></linearGradient><linearGradient id="u68" gradientUnits="userSpaceOnUse" x1="0" y1="344" x2="0" y2="411"><stop offset="0" stop-color="#f9d923"/><stop offset="0.0588" stop-color="#f9d723"/><stop offset="0.118" stop-color="#f9d225"/><stop offset="0.176" stop-color="#facb28"/><stop offset="0.235" stop-color="#fac42b"/><stop offset="0.294" stop-color="#fabe2e"/><stop offset="0.353" stop-color="#f9b930"/><stop offset="0.412" stop-color="#f9b432"/><stop offset="0.471" stop-color="#f9b034"/><stop offset="0.529" stop-color="#f7b232"/><stop offset="0.588" stop-color="#f5b430"/><stop offset="0.647" stop-color="#f3b62f"/><stop offset="0.706" stop-color="#f1b92d"/><stop offset="0.765" stop-color="#eebb2b"/><stop offset="0.824" stop-color="#e8be29"/><stop offset="0.882" stop-color="#e1c126"/><stop offset="0.941" stop-color="#cfc427"/><stop offset="1" stop-color="#a5c22f"/></linearGradient><linearGradient id="u69" gradientUnits="userSpaceOnUse" x1="0" y1="346" x2="0" y2="412"><stop offset="0" stop-color="#f9d424"/><stop offset="0.0625" stop-color="#f9d325"/><stop offset="0.125" stop-color="#facc28"/><stop offset="0.188" stop-color="#fac42b"/><stop offset="0.25" stop-color="#fabe2e"/><stop offset="0.312" stop-color="#f9b930"/><stop offset="0.375" stop-color="#f9b333"/><stop offset="0.438" stop-color="#f8b134"/><stop offset="0.5" stop-color="#f6b332"/><stop offset="0.562" stop-color="#f4b530"/><stop offset="0.625" stop-color="#f3b72e"/><stop offset="0.688" stop-color="#f1b92d"/><stop offset="0.75" stop-color="#ecbc2a"/><stop offset="0.812" stop-color="#e6bf28"/><stop offset="0.875" stop-color="#dfc225"/><stop offset="0.938" stop-color="#cdc427"/><stop offset="1" stop-color="#b1c32d"/></linearGradient><linearGradient id="u70" gradientUnits="userSpaceOnUse" x1="0" y1="348" x2="0" y2="414"><stop offset="0" stop-color="#f9d026"/><stop offset="0.0625" stop-color="#facc28"/><stop offset="0.125" stop-color="#fac62a"/><stop offset="0.188" stop-color="#fac02d"/><stop offset="0.25" stop-color="#faba30"/><stop offset="0.312" stop-color="#f9b532"/><stop offset="0.375" stop-color="#f9b034"/><stop offset="0.438" stop-color="#f7b232"/><stop offset="0.5" stop-color="#f5b530"/><stop offset="0.562" stop-color="#f3b72f"/><stop offset="0.625" stop-color="#f1b92d"/><stop offset="0.688" stop-color="#edbb2b"/><stop offset="0.75" stop-color="#e7be28"/><stop offset="0.812" stop-color="#e1c126"/><stop offset="0.875" stop-color="#d9c425"/><stop offset="0.938" stop-color="#c5c329"/><stop offset="1" stop-color="#bac32b"/></linearGradient><linearGradient id="u71" gradientUnits="userSpaceOnUse" x1="0" y1="350" x2="0" y2="416"><stop offset="0" stop-color="#facb28"/><stop offset="0.0625" stop-color="#fac62a"/><stop offset="0.125" stop-color="#fac12c"/><stop offset="0.188" stop-color="#fabc2f"/><stop offset="0.25" stop-color="#f9b631"/><stop offset="0.312" stop-color="#f9b134"/><stop offset="0.375" stop-color="#f7b232"/><stop offset="0.438" stop-color="#f5b431"/><stop offset="0.5" stop-color="#f3b62f"/><stop offset="0.562" stop-color="#f1b82d"/><stop offset="0.625" stop-color="#eebb2b"/><stop offset="0.688" stop-color="#e9be29"/><stop offset="0.75" stop-color="#e3c127"/><stop offset="0.812" stop-color="#ddc424"/><stop offset="0.875" stop-color="#cbc427"/><stop offset="0.938" stop-color="#b8c32b"/><stop offset="1" stop-color="#b7c32b"/></linearGradient><linearGradient id="u72" gradientUnits="userSpaceOnUse" x1="0" y1="352" x2="0" y2="416"><stop offset="0" stop-color="#fac52b"/><stop offset="0.0625" stop-color="#fac12c"/><stop offset="0.125" stop-color="#fabd2e"/><stop offset="0.188" stop-color="#f9b830"/><stop offset="0.25" stop-color="#f9b333"/><stop offset="0.312" stop-color="#f8b133"/><stop offset="0.375" stop-color="#f6b331"/><stop offset="0.438" stop-color="#f4b630"/><stop offset="0.5" stop-color="#f2b82e"/><stop offset="0.562" stop-color="#f0ba2c"/><stop offset="0.625" stop-color="#ecbc2a"/><stop offset="0.688" stop-color="#e6bf28"/><stop offset="0.75" stop-color="#e1c226"/><stop offset="0.812" stop-color="#d9c425"/><stop offset="0.875" stop-color="#c6c328"/><stop offset="0.938" stop-color="#b3c32c"/><stop offset="1" stop-color="#b3c32c"/></linearGradient><linearGradient id="u73" gradientUnits="userSpaceOnUse" x1="0" y1="354" x2="0" y2="414"><stop offset="0" stop-color="#fac02d"/><stop offset="0.0667" stop-color="#fabe2e"/><stop offset="0.133" stop-color="#fab930"/><stop offset="0.2" stop-color="#f9b432"/><stop offset="0.267" stop-color="#f9b034"/><stop offset="0.333" stop-color="#f6b332"/><stop offset="0.4" stop-color="#f4b530"/><stop offset="0.467" stop-color="#f2b72e"/><stop offset="0.533" stop-color="#f1b92d"/><stop offset="0.6" stop-color="#ecbc2b"/><stop offset="0.667" stop-color="#e7bf28"/><stop offset="0.733" stop-color="#e2c126"/><stop offset="0.8" stop-color="#dcc424"/><stop offset="0.867" stop-color="#cbc427"/><stop offset="0.933" stop-color="#b9c32b"/><stop offset="1" stop-color="#b0c32d"/></linearGradient><linearGradient id="u74" gradientUnits="userSpaceOnUse" x1="0" y1="356" x2="0" y2="413"><stop offset="0" stop-color="#fabd2e"/><stop offset="0.0714" stop-color="#faba2f"/><stop offset="0.143" stop-color="#f9b532"/><stop offset="0.214" stop-color="#f9b034"/><stop offset="0.286" stop-color="#f7b232"/><stop offset="0.357" stop-color="#f5b530"/><stop offset="0.429" stop-color="#f3b72e"/><stop offset="0.5" stop-color="#f1b92d"/><stop offset="0.571" stop-color="#ecbc2b"/><stop offset="0.643" stop-color="#e7bf28"/><stop offset="0.714" stop-color="#e2c126"/><stop offset="0.786" stop-color="#ddc424"/><stop offset="0.857" stop-color="#ccc427"/><stop offset="0.929" stop-color="#bac32b"/><stop offset="1" stop-color="#acc32e"/></linearGradient><linearGradient id="u75" gradientUnits="userSpaceOnUse" x1="0" y1="359" x2="0" y2="412"><stop offset="0" stop-color="#f9b731"/><stop offset="0.0769" stop-color="#f9b333"/><stop offset="0.154" stop-color="#f8b133"/><stop offset="0.231" stop-color="#f6b331"/><stop offset="0.308" stop-color="#f4b62f"/><stop offset="0.385" stop-color="#f2b82e"/><stop offset="0.462" stop-color="#f0ba2c"/><stop offset="0.538" stop-color="#eabd2a"/><stop offset="0.615" stop-color="#e5c028"/><stop offset="0.692" stop-color="#e0c226"/><stop offset="0.769" stop-color="#d9c425"/><stop offset="0.846" stop-color="#c9c328"/><stop offset="0.923" stop-color="#b9c32b"/><stop offset="1" stop-color="#aac32e"/></linearGradient><linearGradient id="u76" gradientUnits="userSpaceOnUse" x1="0" y1="361" x2="0" y2="411"><stop offset="0" stop-color="#f8b133"/><stop offset="0.0833" stop-color="#f7b332"/><stop offset="0.167" stop-color="#f4b530"/><stop offset="0.25" stop-color="#f3b72e"/><stop offset="0.333" stop-color="#f1b92d"/><stop offset="0.417" stop-color="#ecbc2b"/><stop offset="0.5" stop-color="#e7be28"/><stop offset="0.583" stop-color="#e2c126"/><stop offset="0.667" stop-color="#ddc424"/><stop offset="0.75" stop-color="#d0c426"/><stop offset="0.833" stop-color="#c1c329"/><stop offset="0.917" stop-color="#b6c32c"/><stop offset="1" stop-color="#aac32e"/></linearGradient><linearGradient id="u77" gradientUnits="userSpaceOnUse" x1="0" y1="362" x2="0" y2="409"><stop offset="0" stop-color="#f5b530"/><stop offset="0.0833" stop-color="#f3b62f"/><stop offset="0.167" stop-color="#f2b82e"/><stop offset="0.25" stop-color="#f0ba2c"/><stop offset="0.333" stop-color="#ecbc2a"/><stop offset="0.417" stop-color="#e7bf28"/><stop offset="0.5" stop-color="#e2c126"/><stop offset="0.583" stop-color="#dec325"/><stop offset="0.667" stop-color="#d2c426"/><stop offset="0.75" stop-color="#c5c329"/><stop offset="0.833" stop-color="#b9c32b"/><stop offset="0.917" stop-color="#b1c32d"/><stop offset="1" stop-color="#aac32e"/></linearGradient><linearGradient id="u78" gradientUnits="userSpaceOnUse" x1="0" y1="362" x2="0" y2="408"><stop offset="0" stop-color="#f2b82e"/><stop offset="0.0833" stop-color="#f1b92d"/><stop offset="0.167" stop-color="#eebb2b"/><stop offset="0.25" stop-color="#eabd29"/><stop offset="0.333" stop-color="#e5bf28"/><stop offset="0.417" stop-color="#e1c126"/><stop offset="0.5" stop-color="#ddc324"/><stop offset="0.583" stop-color="#d2c426"/><stop offset="0.667" stop-color="#c4c329"/><stop offset="0.75" stop-color="#b8c32b"/><stop offset="0.833" stop-color="#afc32d"/><stop offset="0.917" stop-color="#a7c22f"/><stop offset="1" stop-color="#a5c22f"/></linearGradient><linearGradient id="u79" gradientUnits="userSpaceOnUse" x1="0" y1="361" x2="0" y2="406"><stop offset="0" stop-color="#f0ba2c"/><stop offset="0.0909" stop-color="#eebb2b"/><stop offset="0.182" stop-color="#eabd29"/><stop offset="0.273" stop-color="#e6bf28"/><stop offset="0.364" stop-color="#e2c126"/><stop offset="0.455" stop-color="#dec325"/><stop offset="0.545" stop-color="#d3c426"/><stop offset="0.636" stop-color="#c5c329"/><stop offset="0.727" stop-color="#b7c32b"/><stop offset="0.818" stop-color="#acc32e"/><stop offset="0.909" stop-color="#a4c22f"/><stop offset="1" stop-color="#a2c230"/></linearGradient><linearGradient id="u80" gradientUnits="userSpaceOnUse" x1="0" y1="362" x2="0" y2="405"><stop offset="0" stop-color="#eebb2b"/><stop offset="0.0909" stop-color="#ecbc2a"/><stop offset="0.182" stop-color="#e8be29"/><stop offset="0.273" stop-color="#e4c027"/><stop offset="0.364" stop-color="#e1c226"/><stop offset="0.455" stop-color="#ddc424"/><stop offset="0.545" stop-color="#d2c426"/><stop offset="0.636" stop-color="#c4c329"/><stop offset="0.727" stop-color="#b7c32b"/><stop offset="0.818" stop-color="#abc32e"/><stop offset="0.909" stop-color="#a5c22f"/><stop offset="1" stop-color="#a2c230"/></linearGradient><linearGradient id="u81" gradientUnits="userSpaceOnUse" x1="0" y1="362" x2="0" y2="403"><stop offset="0" stop-color="#ecbc2b"/><stop offset="0.1" stop-color="#eabd2a"/><stop offset="0.2" stop-color="#e6bf28"/><stop offset="0.3" stop-color="#e3c127"/><stop offset="0.4" stop-color="#dfc225"/><stop offset="0.5" stop-color="#d9c425"/><stop offset="0.6" stop-color="#ccc427"/><stop offset="0.7" stop-color="#bec32a"/><stop offset="0.8" stop-color="#b0c32d"/><stop offset="0.9" stop-color="#a6c22f"/><stop offset="1" stop-color="#a2c230"/></linearGradient><linearGradient id="u82" gradientUnits="userSpaceOnUse" x1="0" y1="362" x2="0" y2="402"><stop offset="0" stop-color="#ebbd2a"/><stop offset="0.1" stop-color="#e9be29"/><stop offset="0.2" stop-color="#e5bf28"/><stop offset="0.3" stop-color="#e2c126"/><stop offset="0.4" stop-color="#dfc325"/><stop offset="0.5" stop-color="#d9c425"/><stop offset="0.6" stop-color="#ccc427"/><stop offset="0.7" stop-color="#bfc32a"/><stop offset="0.8" stop-color="#b1c32d"/><stop offset="0.9" stop-color="#a4c22f"/><stop offset="1" stop-color="#a2c230"/></linearGradient><linearGradient id="u83" gradientUnits="userSpaceOnUse" x1="0" y1="363" x2="0" y2="400"><stop offset="0" stop-color="#e9be29"/><stop offset="0.111" stop-color="#e7bf28"/><stop offset="0.222" stop-color="#e3c027"/><stop offset="0.333" stop-color="#e0c226"/><stop offset="0.444" stop-color="#ddc424"/><stop offset="0.556" stop-color="#d2c426"/><stop offset="0.667" stop-color="#c5c329"/><stop offset="0.778" stop-color="#b7c32b"/><stop offset="0.889" stop-color="#a9c32e"/><stop offset="1" stop-color="#a2c230"/></linearGradient><linearGradient id="u84" gradientUnits="userSpaceOnUse" x1="0" y1="365" x2="0" y2="399"><stop offset="0" stop-color="#e6bf28"/><stop offset="0.125" stop-color="#e4c027"/><stop offset="0.25" stop-color="#e1c226"/><stop offset="0.375" stop-color="#dec325"/><stop offset="0.5" stop-color="#d6c425"/><stop offset="0.625" stop-color="#c8c328"/><stop offset="0.75" stop-color="#b9c32b"/><stop offset="0.875" stop-color="#adc32d"/><stop offset="1" stop-color="#a4c22f"/></linearGradient><linearGradient id="u85" gradientUnits="userSpaceOnUse" x1="0" y1="367" x2="0" y2="397"><stop offset="0" stop-color="#e4c027"/><stop offset="0.125" stop-color="#e2c126"/><stop offset="0.25" stop-color="#e0c225"/><stop offset="0.375" stop-color="#ddc325"/><stop offset="0.5" stop-color="#d5c425"/><stop offset="0.625" stop-color="#c8c328"/><stop offset="0.75" stop-color="#bac32b"/><stop offset="0.875" stop-color="#b0c32d"/><stop offset="1" stop-color="#a7c22f"/></linearGradient><linearGradient id="u86" gradientUnits="userSpaceOnUse" x1="0" y1="370" x2="0" y2="395"><stop offset="0" stop-color="#e1c226"/><stop offset="0.167" stop-color="#dfc225"/><stop offset="0.333" stop-color="#ddc324"/><stop offset="0.5" stop-color="#d2c426"/><stop offset="0.667" stop-color="#c3c329"/><stop offset="0.833" stop-color="#b3c32c"/><stop offset="1" stop-color="#acc32e"/></linearGradient><linearGradient id="u87" gradientUnits="userSpaceOnUse" x1="0" y1="374" x2="0" y2="394"><stop offset="0" stop-color="#dfc325"/><stop offset="0.2" stop-color="#ddc325"/><stop offset="0.4" stop-color="#d3c426"/><stop offset="0.6" stop-color="#c4c329"/><stop offset="0.8" stop-color="#b4c32c"/><stop offset="1" stop-color="#adc32d"/></linearGradient><linearGradient id="u88" gradientUnits="userSpaceOnUse" x1="0" y1="378" x2="0" y2="392"><stop offset="0" stop-color="#ddc324"/><stop offset="0.25" stop-color="#d3c426"/><stop offset="0.5" stop-color="#c7c328"/><stop offset="0.75" stop-color="#b8c32b"/><stop offset="1" stop-color="#adc32d"/></linearGradient><linearGradient id="u89" gradientUnits="userSpaceOnUse" x1="0" y1="384" x2="0" y2="391"><stop offset="0" stop-color="#c9c328"/><stop offset="0.5" stop-color="#bbc32b"/><stop offset="1" stop-color="#acc32e"/></linearGradient><linearGradient id="l0" gradientUnits="userSpaceOnUse" x1="0" y1="402" x2="0" y2="435"><stop offset="0" stop-color="#2ac755"/><stop offset="0.125" stop-color="#26c756"/><stop offset="0.25" stop-color="#11c861"/><stop offset="0.375" stop-color="#11c772"/><stop offset="0.5" stop-color="#12c682"/><stop offset="0.625" stop-color="#10c390"/><stop offset="0.75" stop-color="#0fc09d"/><stop offset="0.875" stop-color="#0ebda7"/><stop offset="1" stop-color="#0cbab0"/></linearGradient><linearGradient id="l1" gradientUnits="userSpaceOnUse" x1="0" y1="402" x2="0" y2="448"><stop offset="0" stop-color="#2ac755"/><stop offset="0.0833" stop-color="#28c756"/><stop offset="0.167" stop-color="#15c860"/><stop offset="0.25" stop-color="#11c76e"/><stop offset="0.333" stop-color="#12c67d"/><stop offset="0.417" stop-color="#11c48b"/><stop offset="0.5" stop-color="#10c198"/><stop offset="0.583" stop-color="#0ebfa2"/><stop offset="0.667" stop-color="#0dbcab"/><stop offset="0.75" stop-color="#0cb9b3"/><stop offset="0.833" stop-color="#0bb6bb"/><stop offset="0.917" stop-color="#0ab2c3"/><stop offset="1" stop-color="#0baec9"/></linearGradient><linearGradient id="l2" gradientUnits="userSpaceOnUse" x1="0" y1="402" x2="0" y2="455"><stop offset="0" stop-color="#2ac755"/><stop offset="0.0769" stop-color="#27c756"/><stop offset="0.154" stop-color="#12c861"/><stop offset="0.231" stop-color="#11c771"/><stop offset="0.308" stop-color="#12c681"/><stop offset="0.385" stop-color="#10c390"/><stop offset="0.462" stop-color="#0fc09c"/><stop offset="0.538" stop-color="#0ebea6"/><stop offset="0.615" stop-color="#0dbaaf"/><stop offset="0.692" stop-color="#0bb7b7"/><stop offset="0.769" stop-color="#0ab4bf"/><stop offset="0.846" stop-color="#0bb1c6"/><stop offset="0.923" stop-color="#0bacce"/><stop offset="1" stop-color="#0da6d6"/></linearGradient><linearGradient id="l3" gradientUnits="userSpaceOnUse" x1="0" y1="403" x2="0" y2="460"><stop offset="0" stop-color="#2ac755"/><stop offset="0.0714" stop-color="#22c759"/><stop offset="0.143" stop-color="#10c864"/><stop offset="0.214" stop-color="#11c775"/><stop offset="0.286" stop-color="#12c585"/><stop offset="0.357" stop-color="#10c293"/><stop offset="0.429" stop-color="#0fc09e"/><stop offset="0.5" stop-color="#0ebda8"/><stop offset="0.571" stop-color="#0cbab1"/><stop offset="0.643" stop-color="#0bb7b9"/><stop offset="0.714" stop-color="#0ab4c0"/><stop offset="0.786" stop-color="#0bb0c7"/><stop offset="0.857" stop-color="#0caad1"/><stop offset="0.929" stop-color="#0ea2db"/><stop offset="1" stop-color="#1396e7"/></linearGradient><linearGradient id="l4" gradientUnits="userSpaceOnUse" x1="0" y1="403" x2="0" y2="465"><stop offset="0" stop-color="#2ac755"/><stop offset="0.0625" stop-color="#24c758"/><stop offset="0.125" stop-color="#10c862"/><stop offset="0.188" stop-color="#11c772"/><stop offset="0.25" stop-color="#12c682"/><stop offset="0.312" stop-color="#10c38f"/><stop offset="0.375" stop-color="#0fc09b"/><stop offset="0.438" stop-color="#0ebea5"/><stop offset="0.5" stop-color="#0dbbad"/><stop offset="0.562" stop-color="#0cb8b5"/><stop offset="0.625" stop-color="#0bb5bc"/><stop offset="0.688" stop-color="#0ab3c2"/><stop offset="0.75" stop-color="#0baeca"/><stop offset="0.812" stop-color="#0ca8d4"/><stop offset="0.875" stop-color="#0f9fde"/><stop offset="0.938" stop-color="#1593e9"/><stop offset="1" stop-color="#217df3"/></linearGradient><linearGradient id="l5" gradientUnits="userSpaceOnUse" x1="0" y1="403" x2="0" y2="468"><stop offset="0" stop-color="#2ac755"/><stop offset="0.0625" stop-color="#23c758"/><stop offset="0.125" stop-color="#10c863"/><stop offset="0.188" stop-color="#11c774"/><stop offset="0.25" stop-color="#12c684"/><stop offset="0.312" stop-color="#10c293"/><stop offset="0.375" stop-color="#0fc09e"/><stop offset="0.438" stop-color="#0ebda8"/><stop offset="0.5" stop-color="#0cbab1"/><stop offset="0.562" stop-color="#0bb7b8"/><stop offset="0.625" stop-color="#0ab4bf"/><stop offset="0.688" stop-color="#0bb1c5"/><stop offset="0.75" stop-color="#0cabcf"/><stop offset="0.812" stop-color="#0ea4d9"/><stop offset="0.875" stop-color="#119ae4"/><stop offset="0.938" stop-color="#1a87f0"/><stop offset="1" stop-color="#2478f4"/></linearGradient><linearGradient id="l6" gradientUnits="userSpaceOnUse" x1="0" y1="403" x2="0" y2="471"><stop offset="0" stop-color="#2ac755"/><stop offset="0.0588" stop-color="#24c757"/><stop offset="0.118" stop-color="#10c862"/><stop offset="0.176" stop-color="#11c772"/><stop offset="0.235" stop-color="#12c683"/><stop offset="0.294" stop-color="#10c292"/><stop offset="0.353" stop-color="#0fc09d"/><stop offset="0.412" stop-color="#0ebda7"/><stop offset="0.471" stop-color="#0cbab0"/><stop offset="0.529" stop-color="#0bb7b7"/><stop offset="0.588" stop-color="#0ab5be"/><stop offset="0.647" stop-color="#0ab2c3"/><stop offset="0.706" stop-color="#0baccd"/><stop offset="0.765" stop-color="#0da6d6"/><stop offset="0.824" stop-color="#109de0"/><stop offset="0.882" stop-color="#168feb"/><stop offset="0.941" stop-color="#207ef3"/><stop offset="1" stop-color="#3167f5"/></linearGradient><linearGradient id="l7" gradientUnits="userSpaceOnUse" x1="0" y1="403" x2="0" y2="473"><stop offset="0" stop-color="#2ac755"/><stop offset="0.0556" stop-color="#25c757"/><stop offset="0.111" stop-color="#13c861"/><stop offset="0.167" stop-color="#11c771"/><stop offset="0.222" stop-color="#12c681"/><stop offset="0.278" stop-color="#10c38f"/><stop offset="0.333" stop-color="#0fc09b"/><stop offset="0.389" stop-color="#0ebea6"/><stop offset="0.444" stop-color="#0dbbae"/><stop offset="0.5" stop-color="#0cb8b5"/><stop offset="0.556" stop-color="#0bb6bc"/><stop offset="0.611" stop-color="#0ab3c2"/><stop offset="0.667" stop-color="#0baec9"/><stop offset="0.722" stop-color="#0ca9d2"/><stop offset="0.778" stop-color="#0ea2db"/><stop offset="0.833" stop-color="#1299e5"/><stop offset="0.889" stop-color="#1a87f0"/><stop offset="0.944" stop-color="#2a71f5"/><stop offset="1" stop-color="#424eee"/></linearGradient><linearGradient id="l8" gradientUnits="userSpaceOnUse" x1="0" y1="403" x2="0" y2="475"><stop offset="0" stop-color="#2ac755"/><stop offset="0.0556" stop-color="#25c757"/><stop offset="0.111" stop-color="#12c861"/><stop offset="0.167" stop-color="#11c771"/><stop offset="0.222" stop-color="#12c682"/><stop offset="0.278" stop-color="#10c391"/><stop offset="0.333" stop-color="#0fc09d"/><stop offset="0.389" stop-color="#0ebda7"/><stop offset="0.444" stop-color="#0cbaaf"/><stop offset="0.5" stop-color="#0bb7b7"/><stop offset="0.556" stop-color="#0ab5bd"/><stop offset="0.611" stop-color="#0ab2c3"/><stop offset="0.667" stop-color="#0badcc"/><stop offset="0.722" stop-color="#0ca7d5"/><stop offset="0.778" stop-color="#0f9fde"/><stop offset="0.833" stop-color="#1495e8"/><stop offset="0.889" stop-color="#1e81f3"/><stop offset="0.944" stop-color="#375ff3"/><stop offset="1" stop-color="#483ee6"/></linearGradient><linearGradient id="l9" gradientUnits="userSpaceOnUse" x1="0" y1="403" x2="0" y2="477"><stop offset="0" stop-color="#2ac755"/><stop offset="0.0556" stop-color="#25c757"/><stop offset="0.111" stop-color="#12c861"/><stop offset="0.167" stop-color="#11c772"/><stop offset="0.222" stop-color="#12c683"/><stop offset="0.278" stop-color="#10c292"/><stop offset="0.333" stop-color="#0fc09e"/><stop offset="0.389" stop-color="#0ebda8"/><stop offset="0.444" stop-color="#0cbab0"/><stop offset="0.5" stop-color="#0bb7b8"/><stop offset="0.556" stop-color="#0ab4bf"/><stop offset="0.611" stop-color="#0bb0c6"/><stop offset="0.667" stop-color="#0cabcf"/><stop offset="0.722" stop-color="#0da4d8"/><stop offset="0.778" stop-color="#119be2"/><stop offset="0.833" stop-color="#188ced"/><stop offset="0.889" stop-color="#2972f5"/><stop offset="0.944" stop-color="#444aec"/><stop offset="1" stop-color="#483de4"/></linearGradient><linearGradient id="l10" gradientUnits="userSpaceOnUse" x1="0" y1="403" x2="0" y2="478"><stop offset="0" stop-color="#2ac755"/><stop offset="0.0526" stop-color="#27c756"/><stop offset="0.105" stop-color="#14c860"/><stop offset="0.158" stop-color="#11c76e"/><stop offset="0.211" stop-color="#12c67e"/><stop offset="0.263" stop-color="#11c38d"/><stop offset="0.316" stop-color="#0fc19a"/><stop offset="0.368" stop-color="#0ebea5"/><stop offset="0.421" stop-color="#0dbbad"/><stop offset="0.474" stop-color="#0cb8b5"/><stop offset="0.526" stop-color="#0bb5bc"/><stop offset="0.579" stop-color="#0ab2c3"/><stop offset="0.632" stop-color="#0badcb"/><stop offset="0.684" stop-color="#0ca8d4"/><stop offset="0.737" stop-color="#0fa0dd"/><stop offset="0.789" stop-color="#1397e7"/><stop offset="0.842" stop-color="#1c84f2"/><stop offset="0.895" stop-color="#3166f5"/><stop offset="0.947" stop-color="#4741e8"/><stop offset="1" stop-color="#473adf"/></linearGradient><linearGradient id="l11" gradientUnits="userSpaceOnUse" x1="0" y1="403" x2="0" y2="479"><stop offset="0" stop-color="#2ac755"/><stop offset="0.0526" stop-color="#27c756"/><stop offset="0.105" stop-color="#14c860"/><stop offset="0.158" stop-color="#11c76e"/><stop offset="0.211" stop-color="#12c67e"/><stop offset="0.263" stop-color="#11c48d"/><stop offset="0.316" stop-color="#0fc19a"/><stop offset="0.368" stop-color="#0ebea4"/><stop offset="0.421" stop-color="#0dbbad"/><stop offset="0.474" stop-color="#0cb8b5"/><stop offset="0.526" stop-color="#0ab5bd"/><stop offset="0.579" stop-color="#0ab2c4"/><stop offset="0.632" stop-color="#0baccd"/><stop offset="0.684" stop-color="#0ca7d5"/><stop offset="0.737" stop-color="#109edf"/><stop offset="0.789" stop-color="#1493e9"/><stop offset="0.842" stop-color="#207ef3"/><stop offset="0.895" stop-color="#375ff3"/><stop offset="0.947" stop-color="#4741e7"/><stop offset="1" stop-color="#4738dc"/></linearGradient><linearGradient id="l12" gradientUnits="userSpaceOnUse" x1="0" y1="404" x2="0" y2="480"><stop offset="0" stop-color="#2ac755"/><stop offset="0.0526" stop-color="#23c758"/><stop offset="0.105" stop-color="#10c862"/><stop offset="0.158" stop-color="#11c770"/><stop offset="0.211" stop-color="#12c680"/><stop offset="0.263" stop-color="#11c38f"/><stop offset="0.316" stop-color="#0fc09b"/><stop offset="0.368" stop-color="#0ebea6"/><stop offset="0.421" stop-color="#0dbbae"/><stop offset="0.474" stop-color="#0bb7b7"/><stop offset="0.526" stop-color="#0ab4bf"/><stop offset="0.579" stop-color="#0bb0c6"/><stop offset="0.632" stop-color="#0cabcf"/><stop offset="0.684" stop-color="#0da4d8"/><stop offset="0.737" stop-color="#119be2"/><stop offset="0.789" stop-color="#178eec"/><stop offset="0.842" stop-color="#2676f4"/><stop offset="0.895" stop-color="#3f55f1"/><stop offset="0.947" stop-color="#483de4"/><stop offset="1" stop-color="#4736d8"/></linearGradient><linearGradient id="l13" gradientUnits="userSpaceOnUse" x1="0" y1="404" x2="0" y2="480"><stop offset="0" stop-color="#2ac755"/><stop offset="0.0526" stop-color="#24c758"/><stop offset="0.105" stop-color="#11c862"/><stop offset="0.158" stop-color="#11c76f"/><stop offset="0.211" stop-color="#12c67f"/><stop offset="0.263" stop-color="#11c38d"/><stop offset="0.316" stop-color="#0fc19a"/><stop offset="0.368" stop-color="#0ebea5"/><stop offset="0.421" stop-color="#0dbbae"/><stop offset="0.474" stop-color="#0bb8b6"/><stop offset="0.526" stop-color="#0ab4bf"/><stop offset="0.579" stop-color="#0bb0c6"/><stop offset="0.632" stop-color="#0cabcf"/><stop offset="0.684" stop-color="#0ea4d9"/><stop offset="0.737" stop-color="#119be3"/><stop offset="0.789" stop-color="#178ded"/><stop offset="0.842" stop-color="#2675f4"/><stop offset="0.895" stop-color="#3e55f1"/><stop offset="0.947" stop-color="#483de4"/><stop offset="1" stop-color="#4735d5"/></linearGradient><linearGradient id="l14" gradientUnits="userSpaceOnUse" x1="0" y1="404" x2="0" y2="481"><stop offset="0" stop-color="#2ac755"/><stop offset="0.0526" stop-color="#24c757"/><stop offset="0.105" stop-color="#11c861"/><stop offset="0.158" stop-color="#11c76e"/><stop offset="0.211" stop-color="#12c67e"/><stop offset="0.263" stop-color="#11c48d"/><stop offset="0.316" stop-color="#0fc19a"/><stop offset="0.368" stop-color="#0ebea5"/><stop offset="0.421" stop-color="#0dbbae"/><stop offset="0.474" stop-color="#0bb7b7"/><stop offset="0.526" stop-color="#0ab4c0"/><stop offset="0.579" stop-color="#0bafc8"/><stop offset="0.632" stop-color="#0caad1"/><stop offset="0.684" stop-color="#0ea2db"/><stop offset="0.737" stop-color="#1299e5"/><stop offset="0.789" stop-color="#1a88ef"/><stop offset="0.842" stop-color="#2b6ff5"/><stop offset="0.895" stop-color="#424fef"/><stop offset="0.947" stop-color="#4738db"/><stop offset="1" stop-color="#4633d2"/></linearGradient><linearGradient id="l15" gradientUnits="userSpaceOnUse" x1="0" y1="404" x2="0" y2="481"><stop offset="0" stop-color="#2ac755"/><stop offset="0.0526" stop-color="#25c757"/><stop offset="0.105" stop-color="#13c861"/><stop offset="0.158" stop-color="#11c76d"/><stop offset="0.211" stop-color="#12c67c"/><stop offset="0.263" stop-color="#11c48b"/><stop offset="0.316" stop-color="#0fc199"/><stop offset="0.368" stop-color="#0ebea4"/><stop offset="0.421" stop-color="#0dbbad"/><stop offset="0.474" stop-color="#0bb7b7"/><stop offset="0.526" stop-color="#0ab4c0"/><stop offset="0.579" stop-color="#0bafc8"/><stop offset="0.632" stop-color="#0caad1"/><stop offset="0.684" stop-color="#0ea2db"/><stop offset="0.737" stop-color="#1298e6"/><stop offset="0.789" stop-color="#1a88f0"/><stop offset="0.842" stop-color="#2b6ff6"/><stop offset="0.895" stop-color="#4250ef"/><stop offset="0.947" stop-color="#4738da"/><stop offset="1" stop-color="#4632d0"/></linearGradient><linearGradient id="l16" gradientUnits="userSpaceOnUse" x1="0" y1="405" x2="0" y2="481"><stop offset="0" stop-color="#2ac755"/><stop offset="0.0526" stop-color="#22c759"/><stop offset="0.105" stop-color="#11c861"/><stop offset="0.158" stop-color="#11c76e"/><stop offset="0.211" stop-color="#12c67d"/><stop offset="0.263" stop-color="#11c48c"/><stop offset="0.316" stop-color="#0fc199"/><stop offset="0.368" stop-color="#0ebea5"/><stop offset="0.421" stop-color="#0dbbae"/><stop offset="0.474" stop-color="#0bb7b8"/><stop offset="0.526" stop-color="#0ab3c1"/><stop offset="0.579" stop-color="#0baec9"/><stop offset="0.632" stop-color="#0ca9d3"/><stop offset="0.684" stop-color="#0fa1dc"/><stop offset="0.737" stop-color="#1397e7"/><stop offset="0.789" stop-color="#1b86f1"/><stop offset="0.842" stop-color="#2d6cf6"/><stop offset="0.895" stop-color="#424eee"/><stop offset="0.947" stop-color="#4739dd"/><stop offset="1" stop-color="#4735d5"/></linearGradient><linearGradient id="l17" gradientUnits="userSpaceOnUse" x1="0" y1="405" x2="0" y2="480"><stop offset="0" stop-color="#2ac755"/><stop offset="0.0526" stop-color="#24c758"/><stop offset="0.105" stop-color="#14c860"/><stop offset="0.158" stop-color="#11c76b"/><stop offset="0.211" stop-color="#11c77a"/><stop offset="0.263" stop-color="#11c489"/><stop offset="0.316" stop-color="#10c197"/><stop offset="0.368" stop-color="#0ebfa3"/><stop offset="0.421" stop-color="#0dbbac"/><stop offset="0.474" stop-color="#0bb8b6"/><stop offset="0.526" stop-color="#0ab4c0"/><stop offset="0.579" stop-color="#0bafc8"/><stop offset="0.632" stop-color="#0ca9d2"/><stop offset="0.684" stop-color="#0ea2db"/><stop offset="0.737" stop-color="#1299e5"/><stop offset="0.789" stop-color="#1a89ef"/><stop offset="0.842" stop-color="#2a70f5"/><stop offset="0.895" stop-color="#4250ef"/><stop offset="0.947" stop-color="#483fe6"/><stop offset="1" stop-color="#4738da"/></linearGradient><linearGradient id="l18" gradientUnits="userSpaceOnUse" x1="0" y1="406" x2="0" y2="480"><stop offset="0" stop-color="#2ac755"/><stop offset="0.0556" stop-color="#22c758"/><stop offset="0.111" stop-color="#11c861"/><stop offset="0.167" stop-color="#11c76e"/><stop offset="0.222" stop-color="#12c67e"/><stop offset="0.278" stop-color="#11c38e"/><stop offset="0.333" stop-color="#0fc09b"/><stop offset="0.389" stop-color="#0ebda8"/><stop offset="0.444" stop-color="#0cb9b2"/><stop offset="0.5" stop-color="#0ab5bd"/><stop offset="0.556" stop-color="#0bb1c6"/><stop offset="0.611" stop-color="#0cabcf"/><stop offset="0.667" stop-color="#0ea4d9"/><stop offset="0.722" stop-color="#119be3"/><stop offset="0.778" stop-color="#188bee"/><stop offset="0.833" stop-color="#2873f5"/><stop offset="0.889" stop-color="#424fef"/><stop offset="0.944" stop-color="#4741e8"/><stop offset="1" stop-color="#473ae0"/></linearGradient><linearGradient id="l19" gradientUnits="userSpaceOnUse" x1="0" y1="406" x2="0" y2="479"><stop offset="0" stop-color="#2ac755"/><stop offset="0.0556" stop-color="#25c757"/><stop offset="0.111" stop-color="#14c860"/><stop offset="0.167" stop-color="#11c76c"/><stop offset="0.222" stop-color="#12c67b"/><stop offset="0.278" stop-color="#11c48b"/><stop offset="0.333" stop-color="#0fc199"/><stop offset="0.389" stop-color="#0ebea6"/><stop offset="0.444" stop-color="#0cbab0"/><stop offset="0.5" stop-color="#0bb6bb"/><stop offset="0.556" stop-color="#0ab1c5"/><stop offset="0.611" stop-color="#0bacce"/><stop offset="0.667" stop-color="#0da5d7"/><stop offset="0.722" stop-color="#109ce1"/><stop offset="0.778" stop-color="#178eec"/><stop offset="0.833" stop-color="#2578f4"/><stop offset="0.889" stop-color="#4054f0"/><stop offset="0.944" stop-color="#4545ea"/><stop offset="1" stop-color="#483de5"/></linearGradient><linearGradient id="l20" gradientUnits="userSpaceOnUse" x1="0" y1="407" x2="0" y2="478"><stop offset="0" stop-color="#2ac755"/><stop offset="0.0556" stop-color="#25c757"/><stop offset="0.111" stop-color="#14c860"/><stop offset="0.167" stop-color="#11c76b"/><stop offset="0.222" stop-color="#12c67b"/><stop offset="0.278" stop-color="#11c48b"/><stop offset="0.333" stop-color="#0fc199"/><stop offset="0.389" stop-color="#0ebea6"/><stop offset="0.444" stop-color="#0cbab0"/><stop offset="0.5" stop-color="#0bb6bb"/><stop offset="0.556" stop-color="#0ab1c5"/><stop offset="0.611" stop-color="#0baccd"/><stop offset="0.667" stop-color="#0da5d7"/><stop offset="0.722" stop-color="#109de0"/><stop offset="0.778" stop-color="#1690eb"/><stop offset="0.833" stop-color="#227bf3"/><stop offset="0.889" stop-color="#3c59f2"/><stop offset="0.944" stop-color="#4546ea"/><stop offset="1" stop-color="#4741e7"/></linearGradient><linearGradient id="l21" gradientUnits="userSpaceOnUse" x1="0" y1="407" x2="0" y2="477"><stop offset="0" stop-color="#2ac755"/><stop offset="0.0556" stop-color="#27c756"/><stop offset="0.111" stop-color="#17c85e"/><stop offset="0.167" stop-color="#10c869"/><stop offset="0.222" stop-color="#11c778"/><stop offset="0.278" stop-color="#11c588"/><stop offset="0.333" stop-color="#10c197"/><stop offset="0.389" stop-color="#0ebea4"/><stop offset="0.444" stop-color="#0dbaaf"/><stop offset="0.5" stop-color="#0bb6ba"/><stop offset="0.556" stop-color="#0ab2c4"/><stop offset="0.611" stop-color="#0badcc"/><stop offset="0.667" stop-color="#0da6d6"/><stop offset="0.722" stop-color="#109edf"/><stop offset="0.778" stop-color="#1593e9"/><stop offset="0.833" stop-color="#207ff3"/><stop offset="0.889" stop-color="#375ff3"/><stop offset="0.944" stop-color="#4546ea"/><stop offset="1" stop-color="#4545ea"/></linearGradient><linearGradient id="l22" gradientUnits="userSpaceOnUse" x1="0" y1="408" x2="0" y2="476"><stop offset="0" stop-color="#2ac755"/><stop offset="0.0588" stop-color="#24c757"/><stop offset="0.118" stop-color="#14c860"/><stop offset="0.176" stop-color="#11c76b"/><stop offset="0.235" stop-color="#12c67d"/><stop offset="0.294" stop-color="#11c38d"/><stop offset="0.353" stop-color="#0fc09c"/><stop offset="0.412" stop-color="#0dbda9"/><stop offset="0.471" stop-color="#0cb9b4"/><stop offset="0.529" stop-color="#0ab4c0"/><stop offset="0.588" stop-color="#0baec9"/><stop offset="0.647" stop-color="#0ca8d4"/><stop offset="0.706" stop-color="#0f9fde"/><stop offset="0.765" stop-color="#1396e7"/><stop offset="0.824" stop-color="#1d82f2"/><stop offset="0.882" stop-color="#2f69f5"/><stop offset="0.941" stop-color="#4449ec"/><stop offset="1" stop-color="#4449ec"/></linearGradient><linearGradient id="l23" gradientUnits="userSpaceOnUse" x1="0" y1="408" x2="0" y2="475"><stop offset="0" stop-color="#2ac755"/><stop offset="0.0588" stop-color="#26c757"/><stop offset="0.118" stop-color="#15c85f"/><stop offset="0.176" stop-color="#11c76a"/><stop offset="0.235" stop-color="#12c67c"/><stop offset="0.294" stop-color="#11c48c"/><stop offset="0.353" stop-color="#0fc09b"/><stop offset="0.412" stop-color="#0ebda8"/><stop offset="0.471" stop-color="#0cb9b2"/><stop offset="0.529" stop-color="#0ab4bf"/><stop offset="0.588" stop-color="#0baec9"/><stop offset="0.647" stop-color="#0ca8d4"/><stop offset="0.706" stop-color="#0f9fde"/><stop offset="0.765" stop-color="#1494e8"/><stop offset="0.824" stop-color="#1e81f2"/><stop offset="0.882" stop-color="#2d6cf6"/><stop offset="0.941" stop-color="#4053f0"/><stop offset="1" stop-color="#424eee"/></linearGradient><linearGradient id="l24" gradientUnits="userSpaceOnUse" x1="0" y1="409" x2="0" y2="473"><stop offset="0" stop-color="#2ac755"/><stop offset="0.0625" stop-color="#24c758"/><stop offset="0.125" stop-color="#12c861"/><stop offset="0.188" stop-color="#11c76e"/><stop offset="0.25" stop-color="#12c681"/><stop offset="0.312" stop-color="#10c391"/><stop offset="0.375" stop-color="#0fbfa0"/><stop offset="0.438" stop-color="#0dbcac"/><stop offset="0.5" stop-color="#0bb7b7"/><stop offset="0.562" stop-color="#0ab2c4"/><stop offset="0.625" stop-color="#0babcf"/><stop offset="0.688" stop-color="#0ea2da"/><stop offset="0.75" stop-color="#1298e6"/><stop offset="0.812" stop-color="#1a88f0"/><stop offset="0.875" stop-color="#2971f5"/><stop offset="0.938" stop-color="#3660f3"/><stop offset="1" stop-color="#4152f0"/></linearGradient><linearGradient id="l25" gradientUnits="userSpaceOnUse" x1="0" y1="409" x2="0" y2="471"><stop offset="0" stop-color="#2ac755"/><stop offset="0.0625" stop-color="#26c757"/><stop offset="0.125" stop-color="#14c860"/><stop offset="0.188" stop-color="#11c76c"/><stop offset="0.25" stop-color="#12c67e"/><stop offset="0.312" stop-color="#11c38e"/><stop offset="0.375" stop-color="#0fc09d"/><stop offset="0.438" stop-color="#0dbca9"/><stop offset="0.5" stop-color="#0cb9b4"/><stop offset="0.562" stop-color="#0ab3c2"/><stop offset="0.625" stop-color="#0baccd"/><stop offset="0.688" stop-color="#0da4d8"/><stop offset="0.75" stop-color="#119ae4"/><stop offset="0.812" stop-color="#188bee"/><stop offset="0.875" stop-color="#2676f4"/><stop offset="0.938" stop-color="#3364f4"/><stop offset="1" stop-color="#3b5af2"/></linearGradient><linearGradient id="l26" gradientUnits="userSpaceOnUse" x1="0" y1="409" x2="0" y2="469"><stop offset="0" stop-color="#2ac755"/><stop offset="0.0667" stop-color="#27c756"/><stop offset="0.133" stop-color="#15c860"/><stop offset="0.2" stop-color="#11c76d"/><stop offset="0.267" stop-color="#12c680"/><stop offset="0.333" stop-color="#10c391"/><stop offset="0.4" stop-color="#0fbfa0"/><stop offset="0.467" stop-color="#0dbcac"/><stop offset="0.533" stop-color="#0bb7b8"/><stop offset="0.6" stop-color="#0bb1c6"/><stop offset="0.667" stop-color="#0caad1"/><stop offset="0.733" stop-color="#0f9fde"/><stop offset="0.8" stop-color="#1592ea"/><stop offset="0.867" stop-color="#207ef3"/><stop offset="0.933" stop-color="#3266f5"/><stop offset="1" stop-color="#375ff3"/></linearGradient><linearGradient id="l27" gradientUnits="userSpaceOnUse" x1="0" y1="410" x2="0" y2="467"><stop offset="0" stop-color="#2fc752"/><stop offset="0.0714" stop-color="#28c755"/><stop offset="0.143" stop-color="#12c861"/><stop offset="0.214" stop-color="#11c771"/><stop offset="0.286" stop-color="#12c585"/><stop offset="0.357" stop-color="#10c197"/><stop offset="0.429" stop-color="#0ebea4"/><stop offset="0.5" stop-color="#0dbaaf"/><stop offset="0.571" stop-color="#0bb5bc"/><stop offset="0.643" stop-color="#0bafc8"/><stop offset="0.714" stop-color="#0ca8d4"/><stop offset="0.786" stop-color="#109de1"/><stop offset="0.857" stop-color="#178feb"/><stop offset="0.929" stop-color="#237bf4"/><stop offset="1" stop-color="#2f6af5"/></linearGradient><linearGradient id="l28" gradientUnits="userSpaceOnUse" x1="0" y1="410" x2="0" y2="465"><stop offset="0" stop-color="#36c64e"/><stop offset="0.0714" stop-color="#2fc752"/><stop offset="0.143" stop-color="#16c85f"/><stop offset="0.214" stop-color="#11c76e"/><stop offset="0.286" stop-color="#12c681"/><stop offset="0.357" stop-color="#10c295"/><stop offset="0.429" stop-color="#0ebfa1"/><stop offset="0.5" stop-color="#0dbcab"/><stop offset="0.571" stop-color="#0bb8b6"/><stop offset="0.643" stop-color="#0ab2c3"/><stop offset="0.714" stop-color="#0baccd"/><stop offset="0.786" stop-color="#0da5d8"/><stop offset="0.857" stop-color="#119be3"/><stop offset="0.929" stop-color="#188ded"/><stop offset="1" stop-color="#227bf3"/></linearGradient><linearGradient id="l29" gradientUnits="userSpaceOnUse" x1="0" y1="411" x2="0" y2="463"><stop offset="0" stop-color="#3cc64b"/><stop offset="0.0769" stop-color="#32c750"/><stop offset="0.154" stop-color="#12c861"/><stop offset="0.231" stop-color="#11c772"/><stop offset="0.308" stop-color="#11c587"/><stop offset="0.385" stop-color="#0fc19a"/><stop offset="0.462" stop-color="#0ebea5"/><stop offset="0.538" stop-color="#0dbbae"/><stop offset="0.615" stop-color="#0bb7b9"/><stop offset="0.692" stop-color="#0ab2c4"/><stop offset="0.769" stop-color="#0bacce"/><stop offset="0.846" stop-color="#0da4d8"/><stop offset="0.923" stop-color="#119be2"/><stop offset="1" stop-color="#178eec"/></linearGradient><linearGradient id="l30" gradientUnits="userSpaceOnUse" x1="0" y1="411" x2="0" y2="461"><stop offset="0" stop-color="#48c647"/><stop offset="0.0833" stop-color="#39c64d"/><stop offset="0.167" stop-color="#13c860"/><stop offset="0.25" stop-color="#11c773"/><stop offset="0.333" stop-color="#11c48a"/><stop offset="0.417" stop-color="#0fc09c"/><stop offset="0.5" stop-color="#0ebda7"/><stop offset="0.583" stop-color="#0dbaaf"/><stop offset="0.667" stop-color="#0bb6ba"/><stop offset="0.75" stop-color="#0ab1c4"/><stop offset="0.833" stop-color="#0bacce"/><stop offset="0.917" stop-color="#0da5d7"/><stop offset="1" stop-color="#119ce2"/></linearGradient><linearGradient id="l31" gradientUnits="userSpaceOnUse" x1="0" y1="412" x2="0" y2="460"><stop offset="0" stop-color="#53c544"/><stop offset="0.0833" stop-color="#3dc64b"/><stop offset="0.167" stop-color="#11c861"/><stop offset="0.25" stop-color="#11c774"/><stop offset="0.333" stop-color="#11c48c"/><stop offset="0.417" stop-color="#0fc09d"/><stop offset="0.5" stop-color="#0ebea6"/><stop offset="0.583" stop-color="#0dbbad"/><stop offset="0.667" stop-color="#0bb7b7"/><stop offset="0.75" stop-color="#0ab4c0"/><stop offset="0.833" stop-color="#0bafc8"/><stop offset="0.917" stop-color="#0caad0"/><stop offset="1" stop-color="#0da4d8"/></linearGradient><linearGradient id="l32" gradientUnits="userSpaceOnUse" x1="0" y1="412" x2="0" y2="458"><stop offset="0" stop-color="#5fc441"/><stop offset="0.0833" stop-color="#4bc546"/><stop offset="0.167" stop-color="#15c85f"/><stop offset="0.25" stop-color="#11c770"/><stop offset="0.333" stop-color="#11c588"/><stop offset="0.417" stop-color="#0fc09c"/><stop offset="0.5" stop-color="#0ebea4"/><stop offset="0.583" stop-color="#0dbcaa"/><stop offset="0.667" stop-color="#0cb9b1"/><stop offset="0.75" stop-color="#0bb6b9"/><stop offset="0.833" stop-color="#0ab3c1"/><stop offset="0.917" stop-color="#0bb0c7"/><stop offset="1" stop-color="#0baccd"/></linearGradient><linearGradient id="l33" gradientUnits="userSpaceOnUse" x1="0" y1="413" x2="0" y2="457"><stop offset="0" stop-color="#68c43f"/><stop offset="0.0909" stop-color="#37c64e"/><stop offset="0.182" stop-color="#10c863"/><stop offset="0.273" stop-color="#11c775"/><stop offset="0.364" stop-color="#10c293"/><stop offset="0.455" stop-color="#0fbf9f"/><stop offset="0.545" stop-color="#0ebea6"/><stop offset="0.636" stop-color="#0dbbac"/><stop offset="0.727" stop-color="#0cb9b3"/><stop offset="0.818" stop-color="#0bb6ba"/><stop offset="0.909" stop-color="#0ab3c1"/><stop offset="1" stop-color="#0bb0c6"/></linearGradient><linearGradient id="l34" gradientUnits="userSpaceOnUse" x1="0" y1="413" x2="0" y2="456"><stop offset="0" stop-color="#74c43b"/><stop offset="0.0909" stop-color="#3ec64a"/><stop offset="0.182" stop-color="#12c861"/><stop offset="0.273" stop-color="#11c772"/><stop offset="0.364" stop-color="#10c390"/><stop offset="0.455" stop-color="#0fbf9f"/><stop offset="0.545" stop-color="#0ebea5"/><stop offset="0.636" stop-color="#0dbcaa"/><stop offset="0.727" stop-color="#0dbaaf"/><stop offset="0.818" stop-color="#0cb8b5"/><stop offset="0.909" stop-color="#0bb6ba"/><stop offset="1" stop-color="#0ab4bf"/></linearGradient><linearGradient id="l35" gradientUnits="userSpaceOnUse" x1="0" y1="414" x2="0" y2="455"><stop offset="0" stop-color="#7cc339"/><stop offset="0.1" stop-color="#26c757"/><stop offset="0.2" stop-color="#10c865"/><stop offset="0.3" stop-color="#12c67e"/><stop offset="0.4" stop-color="#0fc09c"/><stop offset="0.5" stop-color="#0ebfa1"/><stop offset="0.6" stop-color="#0ebea6"/><stop offset="0.7" stop-color="#0dbcab"/><stop offset="0.8" stop-color="#0dbaaf"/><stop offset="0.9" stop-color="#0cb9b3"/><stop offset="1" stop-color="#0bb8b7"/></linearGradient><linearGradient id="l36" gradientUnits="userSpaceOnUse" x1="0" y1="414" x2="0" y2="454"><stop offset="0" stop-color="#89c335"/><stop offset="0.1" stop-color="#29c755"/><stop offset="0.2" stop-color="#10c863"/><stop offset="0.3" stop-color="#11c77a"/><stop offset="0.4" stop-color="#0fc09c"/><stop offset="0.5" stop-color="#0fbfa0"/><stop offset="0.6" stop-color="#0ebea5"/><stop offset="0.7" stop-color="#0ebda8"/><stop offset="0.8" stop-color="#0dbcab"/><stop offset="0.9" stop-color="#0dbbae"/><stop offset="1" stop-color="#0cbaaf"/></linearGradient><linearGradient id="l37" gradientUnits="userSpaceOnUse" x1="0" y1="415" x2="0" y2="453"><stop offset="0" stop-color="#8ac335"/><stop offset="0.1" stop-color="#25c757"/><stop offset="0.2" stop-color="#10c868"/><stop offset="0.3" stop-color="#12c681"/><stop offset="0.4" stop-color="#0fc09c"/><stop offset="0.5" stop-color="#0fbf9f"/><stop offset="0.6" stop-color="#0ebea3"/><stop offset="0.7" stop-color="#0ebea6"/><stop offset="0.8" stop-color="#0dbca9"/><stop offset="0.9" stop-color="#0dbcac"/><stop offset="1" stop-color="#0dbbad"/></linearGradient><linearGradient id="l38" gradientUnits="userSpaceOnUse" x1="0" y1="416" x2="0" y2="453"><stop offset="0" stop-color="#81c338"/><stop offset="0.111" stop-color="#1ac85d"/><stop offset="0.222" stop-color="#11c776"/><stop offset="0.333" stop-color="#10c391"/><stop offset="0.444" stop-color="#0fc09d"/><stop offset="0.556" stop-color="#0ebfa1"/><stop offset="0.667" stop-color="#0ebea4"/><stop offset="0.778" stop-color="#0ebda8"/><stop offset="0.889" stop-color="#0dbcab"/><stop offset="1" stop-color="#0dbbac"/></linearGradient><linearGradient id="l39" gradientUnits="userSpaceOnUse" x1="0" y1="416" x2="0" y2="452"><stop offset="0" stop-color="#80c338"/><stop offset="0.111" stop-color="#1bc85c"/><stop offset="0.222" stop-color="#11c779"/><stop offset="0.333" stop-color="#10c390"/><stop offset="0.444" stop-color="#0fc09c"/><stop offset="0.556" stop-color="#0fbf9f"/><stop offset="0.667" stop-color="#0ebfa2"/><stop offset="0.778" stop-color="#0ebea6"/><stop offset="0.889" stop-color="#0dbca9"/><stop offset="1" stop-color="#0dbcab"/></linearGradient><linearGradient id="l40" gradientUnits="userSpaceOnUse" x1="0" y1="417" x2="0" y2="452"><stop offset="0" stop-color="#54c544"/><stop offset="0.111" stop-color="#10c863"/><stop offset="0.222" stop-color="#12c585"/><stop offset="0.333" stop-color="#10c294"/><stop offset="0.444" stop-color="#0fc09b"/><stop offset="0.556" stop-color="#0fc09e"/><stop offset="0.667" stop-color="#0ebfa1"/><stop offset="0.778" stop-color="#0ebea5"/><stop offset="0.889" stop-color="#0dbda9"/><stop offset="1" stop-color="#0dbcaa"/></linearGradient><linearGradient id="l41" gradientUnits="userSpaceOnUse" x1="0" y1="417" x2="0" y2="451"><stop offset="0" stop-color="#55c544"/><stop offset="0.125" stop-color="#10c868"/><stop offset="0.25" stop-color="#11c48d"/><stop offset="0.375" stop-color="#0fc198"/><stop offset="0.5" stop-color="#0fc09b"/><stop offset="0.625" stop-color="#0fc09e"/><stop offset="0.75" stop-color="#0ebfa2"/><stop offset="0.875" stop-color="#0ebda7"/><stop offset="1" stop-color="#0ebda8"/></linearGradient><linearGradient id="l42" gradientUnits="userSpaceOnUse" x1="0" y1="418" x2="0" y2="451"><stop offset="0" stop-color="#39c64d"/><stop offset="0.125" stop-color="#11c773"/><stop offset="0.25" stop-color="#10c293"/><stop offset="0.375" stop-color="#0fc198"/><stop offset="0.5" stop-color="#0fc09a"/><stop offset="0.625" stop-color="#0fc09d"/><stop offset="0.75" stop-color="#0ebfa1"/><stop offset="0.875" stop-color="#0ebea6"/><stop offset="1" stop-color="#0ebda7"/></linearGradient><linearGradient id="l43" gradientUnits="userSpaceOnUse" x1="0" y1="419" x2="0" y2="451"><stop offset="0" stop-color="#27c756"/><stop offset="0.125" stop-color="#12c681"/><stop offset="0.25" stop-color="#10c196"/><stop offset="0.375" stop-color="#0fc198"/><stop offset="0.5" stop-color="#0fc19a"/><stop offset="0.625" stop-color="#0fc09c"/><stop offset="0.75" stop-color="#0fbfa0"/><stop offset="0.875" stop-color="#0ebea5"/><stop offset="1" stop-color="#0ebea6"/></linearGradient><linearGradient id="l44" gradientUnits="userSpaceOnUse" x1="0" y1="419" x2="0" y2="451"><stop offset="0" stop-color="#19c85d"/><stop offset="0.125" stop-color="#12c684"/><stop offset="0.25" stop-color="#10c196"/><stop offset="0.375" stop-color="#0fc198"/><stop offset="0.5" stop-color="#0fc19a"/><stop offset="0.625" stop-color="#0fc09c"/><stop offset="0.75" stop-color="#0fbfa0"/><stop offset="0.875" stop-color="#0ebea5"/><stop offset="1" stop-color="#0ebea6"/></linearGradient><linearGradient id="l45" gradientUnits="userSpaceOnUse" x1="0" y1="419" x2="0" y2="450"><stop offset="0" stop-color="#10c865"/><stop offset="0.125" stop-color="#11c586"/><stop offset="0.25" stop-color="#10c196"/><stop offset="0.375" stop-color="#0fc198"/><stop offset="0.5" stop-color="#0fc19a"/><stop offset="0.625" stop-color="#0fc09b"/><stop offset="0.75" stop-color="#0fbf9f"/><stop offset="0.875" stop-color="#0ebea4"/><stop offset="1" stop-color="#0ebea6"/></linearGradient><linearGradient id="l46" gradientUnits="userSpaceOnUse" x1="0" y1="420" x2="0" y2="450"><stop offset="0" stop-color="#11c779"/><stop offset="0.125" stop-color="#11c38f"/><stop offset="0.25" stop-color="#10c197"/><stop offset="0.375" stop-color="#0fc199"/><stop offset="0.5" stop-color="#0fc09a"/><stop offset="0.625" stop-color="#0fc09c"/><stop offset="0.75" stop-color="#0fbfa0"/><stop offset="0.875" stop-color="#0ebea5"/><stop offset="1" stop-color="#0ebea6"/></linearGradient><linearGradient id="l47" gradientUnits="userSpaceOnUse" x1="0" y1="420" x2="0" y2="450"><stop offset="0" stop-color="#12c682"/><stop offset="0.125" stop-color="#10c391"/><stop offset="0.25" stop-color="#10c197"/><stop offset="0.375" stop-color="#0fc199"/><stop offset="0.5" stop-color="#0fc09a"/><stop offset="0.625" stop-color="#0fc09c"/><stop offset="0.75" stop-color="#0fbfa0"/><stop offset="0.875" stop-color="#0ebea5"/><stop offset="1" stop-color="#0ebea6"/></linearGradient><linearGradient id="l48" gradientUnits="userSpaceOnUse" x1="0" y1="420" x2="0" y2="450"><stop offset="0" stop-color="#11c489"/><stop offset="0.125" stop-color="#10c293"/><stop offset="0.25" stop-color="#10c197"/><stop offset="0.375" stop-color="#0fc199"/><stop offset="0.5" stop-color="#0fc09a"/><stop offset="0.625" stop-color="#0fc09c"/><stop offset="0.75" stop-color="#0fbfa0"/><stop offset="0.875" stop-color="#0ebea5"/><stop offset="1" stop-color="#0ebea6"/></linearGradient><linearGradient id="l49" gradientUnits="userSpaceOnUse" x1="0" y1="421" x2="0" y2="450"><stop offset="0" stop-color="#10c292"/><stop offset="0.143" stop-color="#10c197"/><stop offset="0.286" stop-color="#0fc198"/><stop offset="0.429" stop-color="#0fc19a"/><stop offset="0.571" stop-color="#0fc09b"/><stop offset="0.714" stop-color="#0fbf9f"/><stop offset="0.857" stop-color="#0ebea5"/><stop offset="1" stop-color="#0ebea6"/></linearGradient><linearGradient id="l50" gradientUnits="userSpaceOnUse" x1="0" y1="421" x2="0" y2="450"><stop offset="0" stop-color="#10c296"/><stop offset="0.143" stop-color="#10c197"/><stop offset="0.286" stop-color="#0fc199"/><stop offset="0.429" stop-color="#0fc09a"/><stop offset="0.571" stop-color="#0fc09c"/><stop offset="0.714" stop-color="#0fbf9f"/><stop offset="0.857" stop-color="#0ebea5"/><stop offset="1" stop-color="#0ebda7"/></linearGradient><linearGradient id="l51" gradientUnits="userSpaceOnUse" x1="0" y1="421" x2="0" y2="450"><stop offset="0" stop-color="#10c296"/><stop offset="0.143" stop-color="#10c197"/><stop offset="0.286" stop-color="#0fc199"/><stop offset="0.429" stop-color="#0fc09b"/><stop offset="0.571" stop-color="#0fc09d"/><stop offset="0.714" stop-color="#0fbfa1"/><stop offset="0.857" stop-color="#0ebea6"/><stop offset="1" stop-color="#0ebda8"/></linearGradient><linearGradient id="l52" gradientUnits="userSpaceOnUse" x1="0" y1="421" x2="0" y2="450"><stop offset="0" stop-color="#10c296"/><stop offset="0.143" stop-color="#10c198"/><stop offset="0.286" stop-color="#0fc19a"/><stop offset="0.429" stop-color="#0fc09c"/><stop offset="0.571" stop-color="#0fc09e"/><stop offset="0.714" stop-color="#0ebfa2"/><stop offset="0.857" stop-color="#0ebda7"/><stop offset="1" stop-color="#0dbda9"/></linearGradient><linearGradient id="l53" gradientUnits="userSpaceOnUse" x1="0" y1="421" x2="0" y2="450"><stop offset="0" stop-color="#10c196"/><stop offset="0.143" stop-color="#0fc198"/><stop offset="0.286" stop-color="#0fc09a"/><stop offset="0.429" stop-color="#0fc09d"/><stop offset="0.571" stop-color="#0fbf9f"/><stop offset="0.714" stop-color="#0ebea3"/><stop offset="0.857" stop-color="#0ebda8"/><stop offset="1" stop-color="#0dbcaa"/></linearGradient><linearGradient id="l54" gradientUnits="userSpaceOnUse" x1="0" y1="420" x2="0" y2="450"><stop offset="0" stop-color="#10c295"/><stop offset="0.125" stop-color="#10c198"/><stop offset="0.25" stop-color="#0fc19a"/><stop offset="0.375" stop-color="#0fc09c"/><stop offset="0.5" stop-color="#0fbf9f"/><stop offset="0.625" stop-color="#0ebfa1"/><stop offset="0.75" stop-color="#0ebea5"/><stop offset="0.875" stop-color="#0dbca9"/><stop offset="1" stop-color="#0dbcab"/></linearGradient><linearGradient id="l55" gradientUnits="userSpaceOnUse" x1="0" y1="420" x2="0" y2="450"><stop offset="0" stop-color="#10c295"/><stop offset="0.125" stop-color="#10c198"/><stop offset="0.25" stop-color="#0fc09a"/><stop offset="0.375" stop-color="#0fc09d"/><stop offset="0.5" stop-color="#0fbfa0"/><stop offset="0.625" stop-color="#0ebfa2"/><stop offset="0.75" stop-color="#0ebea6"/><stop offset="0.875" stop-color="#0dbcaa"/><stop offset="1" stop-color="#0dbcac"/></linearGradient><linearGradient id="l56" gradientUnits="userSpaceOnUse" x1="0" y1="419" x2="0" y2="450"><stop offset="0" stop-color="#11c38d"/><stop offset="0.125" stop-color="#10c197"/><stop offset="0.25" stop-color="#0fc09a"/><stop offset="0.375" stop-color="#0fc09d"/><stop offset="0.5" stop-color="#0fbfa0"/><stop offset="0.625" stop-color="#0ebea3"/><stop offset="0.75" stop-color="#0ebda7"/><stop offset="0.875" stop-color="#0dbcab"/><stop offset="1" stop-color="#0dbbac"/></linearGradient><linearGradient id="l57" gradientUnits="userSpaceOnUse" x1="0" y1="419" x2="0" y2="450"><stop offset="0" stop-color="#11c38d"/><stop offset="0.125" stop-color="#10c198"/><stop offset="0.25" stop-color="#0fc09b"/><stop offset="0.375" stop-color="#0fc09e"/><stop offset="0.5" stop-color="#0ebfa1"/><stop offset="0.625" stop-color="#0ebea4"/><stop offset="0.75" stop-color="#0ebda8"/><stop offset="0.875" stop-color="#0dbcac"/><stop offset="1" stop-color="#0dbbad"/></linearGradient><linearGradient id="l58" gradientUnits="userSpaceOnUse" x1="0" y1="418" x2="0" y2="450"><stop offset="0" stop-color="#12c584"/><stop offset="0.125" stop-color="#10c197"/><stop offset="0.25" stop-color="#0fc09b"/><stop offset="0.375" stop-color="#0fc09e"/><stop offset="0.5" stop-color="#0ebfa2"/><stop offset="0.625" stop-color="#0ebea5"/><stop offset="0.75" stop-color="#0dbda8"/><stop offset="0.875" stop-color="#0dbbac"/><stop offset="1" stop-color="#0dbaaf"/></linearGradient><linearGradient id="l59" gradientUnits="userSpaceOnUse" x1="0" y1="418" x2="0" y2="450"><stop offset="0" stop-color="#12c584"/><stop offset="0.125" stop-color="#10c197"/><stop offset="0.25" stop-color="#0fc09b"/><stop offset="0.375" stop-color="#0fbf9f"/><stop offset="0.5" stop-color="#0ebfa3"/><stop offset="0.625" stop-color="#0ebea6"/><stop offset="0.75" stop-color="#0dbca9"/><stop offset="0.875" stop-color="#0dbbae"/><stop offset="1" stop-color="#0cbab0"/></linearGradient><linearGradient id="l60" gradientUnits="userSpaceOnUse" x1="0" y1="417" x2="0" y2="450"><stop offset="0" stop-color="#12c67b"/><stop offset="0.125" stop-color="#10c196"/><stop offset="0.25" stop-color="#0fc09b"/><stop offset="0.375" stop-color="#0fbfa0"/><stop offset="0.5" stop-color="#0ebea4"/><stop offset="0.625" stop-color="#0ebda6"/><stop offset="0.75" stop-color="#0dbcaa"/><stop offset="0.875" stop-color="#0cbaaf"/><stop offset="1" stop-color="#0cb9b2"/></linearGradient><linearGradient id="l61" gradientUnits="userSpaceOnUse" x1="0" y1="415" x2="0" y2="451"><stop offset="0" stop-color="#10c868"/><stop offset="0.111" stop-color="#11c48d"/><stop offset="0.222" stop-color="#0fc199"/><stop offset="0.333" stop-color="#0fc09e"/><stop offset="0.444" stop-color="#0ebfa3"/><stop offset="0.556" stop-color="#0ebea6"/><stop offset="0.667" stop-color="#0ebda8"/><stop offset="0.778" stop-color="#0dbbad"/><stop offset="0.889" stop-color="#0cb9b2"/><stop offset="1" stop-color="#0cb9b3"/></linearGradient><linearGradient id="l62" gradientUnits="userSpaceOnUse" x1="0" y1="413" x2="0" y2="451"><stop offset="0" stop-color="#23c758"/><stop offset="0.1" stop-color="#11c779"/><stop offset="0.2" stop-color="#10c196"/><stop offset="0.3" stop-color="#0fc09b"/><stop offset="0.4" stop-color="#0ebfa1"/><stop offset="0.5" stop-color="#0ebea5"/><stop offset="0.6" stop-color="#0ebda7"/><stop offset="0.7" stop-color="#0dbca9"/><stop offset="0.8" stop-color="#0dbbae"/><stop offset="0.9" stop-color="#0cb9b4"/><stop offset="1" stop-color="#0cb8b5"/></linearGradient><linearGradient id="l63" gradientUnits="userSpaceOnUse" x1="0" y1="411" x2="0" y2="451"><stop offset="0" stop-color="#3ec64a"/><stop offset="0.1" stop-color="#10c868"/><stop offset="0.2" stop-color="#11c48d"/><stop offset="0.3" stop-color="#0fc19a"/><stop offset="0.4" stop-color="#0fbfa0"/><stop offset="0.5" stop-color="#0ebea5"/><stop offset="0.6" stop-color="#0ebda8"/><stop offset="0.7" stop-color="#0dbcaa"/><stop offset="0.8" stop-color="#0dbaaf"/><stop offset="0.9" stop-color="#0cb8b5"/><stop offset="1" stop-color="#0bb7b7"/></linearGradient><linearGradient id="l64" gradientUnits="userSpaceOnUse" x1="0" y1="410" x2="0" y2="451"><stop offset="0" stop-color="#58c543"/><stop offset="0.1" stop-color="#14c860"/><stop offset="0.2" stop-color="#12c586"/><stop offset="0.3" stop-color="#0fc199"/><stop offset="0.4" stop-color="#0fbfa0"/><stop offset="0.5" stop-color="#0ebea6"/><stop offset="0.6" stop-color="#0ebda8"/><stop offset="0.7" stop-color="#0dbcaa"/><stop offset="0.8" stop-color="#0cbab0"/><stop offset="0.9" stop-color="#0bb8b6"/><stop offset="1" stop-color="#0bb7b8"/></linearGradient><linearGradient id="l65" gradientUnits="userSpaceOnUse" x1="0" y1="408" x2="0" y2="451"><stop offset="0" stop-color="#7fc338"/><stop offset="0.0909" stop-color="#30c751"/><stop offset="0.182" stop-color="#11c76f"/><stop offset="0.273" stop-color="#10c390"/><stop offset="0.364" stop-color="#0fc199"/><stop offset="0.455" stop-color="#0ebfa1"/><stop offset="0.545" stop-color="#0ebda6"/><stop offset="0.636" stop-color="#0dbca9"/><stop offset="0.727" stop-color="#0dbbac"/><stop offset="0.818" stop-color="#0cb9b2"/><stop offset="0.909" stop-color="#0bb6b9"/><stop offset="1" stop-color="#0bb6bb"/></linearGradient><linearGradient id="l66" gradientUnits="userSpaceOnUse" x1="0" y1="406" x2="0" y2="451"><stop offset="0" stop-color="#88c336"/><stop offset="0.0909" stop-color="#3dc64a"/><stop offset="0.182" stop-color="#14c860"/><stop offset="0.273" stop-color="#12c680"/><stop offset="0.364" stop-color="#10c292"/><stop offset="0.455" stop-color="#0fc09b"/><stop offset="0.545" stop-color="#0ebea4"/><stop offset="0.636" stop-color="#0dbda9"/><stop offset="0.727" stop-color="#0dbbad"/><stop offset="0.818" stop-color="#0cb8b4"/><stop offset="0.909" stop-color="#0ab5bd"/><stop offset="1" stop-color="#0ab4bf"/></linearGradient><linearGradient id="l67" gradientUnits="userSpaceOnUse" x1="0" y1="404" x2="0" y2="452"><stop offset="0" stop-color="#73c43b"/><stop offset="0.0833" stop-color="#47c648"/><stop offset="0.167" stop-color="#27c756"/><stop offset="0.25" stop-color="#11c76c"/><stop offset="0.333" stop-color="#11c587"/><stop offset="0.417" stop-color="#10c292"/><stop offset="0.5" stop-color="#0fc09c"/><stop offset="0.583" stop-color="#0ebea5"/><stop offset="0.667" stop-color="#0dbcaa"/><stop offset="0.75" stop-color="#0cbab0"/><stop offset="0.833" stop-color="#0bb6ba"/><stop offset="0.917" stop-color="#0ab2c3"/><stop offset="1" stop-color="#0ab2c3"/></linearGradient><linearGradient id="l68" gradientUnits="userSpaceOnUse" x1="0" y1="406" x2="0" y2="452"><stop offset="0" stop-color="#3cc64b"/><stop offset="0.0833" stop-color="#2cc753"/><stop offset="0.167" stop-color="#1ac85d"/><stop offset="0.25" stop-color="#11c772"/><stop offset="0.333" stop-color="#12c586"/><stop offset="0.417" stop-color="#10c391"/><stop offset="0.5" stop-color="#0fc09c"/><stop offset="0.583" stop-color="#0ebea5"/><stop offset="0.667" stop-color="#0dbcac"/><stop offset="0.75" stop-color="#0cb9b3"/><stop offset="0.833" stop-color="#0ab5be"/><stop offset="0.917" stop-color="#0bb0c6"/><stop offset="1" stop-color="#0bb0c6"/></linearGradient><linearGradient id="l69" gradientUnits="userSpaceOnUse" x1="0" y1="407" x2="0" y2="452"><stop offset="0" stop-color="#27c756"/><stop offset="0.0909" stop-color="#21c759"/><stop offset="0.182" stop-color="#10c863"/><stop offset="0.273" stop-color="#11c778"/><stop offset="0.364" stop-color="#11c587"/><stop offset="0.455" stop-color="#10c295"/><stop offset="0.545" stop-color="#0ebfa1"/><stop offset="0.636" stop-color="#0dbcaa"/><stop offset="0.727" stop-color="#0cb9b2"/><stop offset="0.818" stop-color="#0ab4bf"/><stop offset="0.909" stop-color="#0bafc9"/><stop offset="1" stop-color="#0bafc9"/></linearGradient><linearGradient id="l70" gradientUnits="userSpaceOnUse" x1="0" y1="409" x2="0" y2="453"><stop offset="0" stop-color="#1fc75a"/><stop offset="0.0909" stop-color="#1ec75a"/><stop offset="0.182" stop-color="#10c869"/><stop offset="0.273" stop-color="#12c67b"/><stop offset="0.364" stop-color="#11c48a"/><stop offset="0.455" stop-color="#10c198"/><stop offset="0.545" stop-color="#0ebea5"/><stop offset="0.636" stop-color="#0dbbae"/><stop offset="0.727" stop-color="#0bb7b9"/><stop offset="0.818" stop-color="#0bb1c6"/><stop offset="0.909" stop-color="#0babce"/><stop offset="1" stop-color="#0cabd0"/></linearGradient><linearGradient id="l71" gradientUnits="userSpaceOnUse" x1="0" y1="411" x2="0" y2="453"><stop offset="0" stop-color="#22c759"/><stop offset="0.1" stop-color="#13c861"/><stop offset="0.2" stop-color="#11c771"/><stop offset="0.3" stop-color="#12c682"/><stop offset="0.4" stop-color="#10c292"/><stop offset="0.5" stop-color="#0ebfa1"/><stop offset="0.6" stop-color="#0dbbad"/><stop offset="0.7" stop-color="#0bb6b9"/><stop offset="0.8" stop-color="#0bafc9"/><stop offset="0.9" stop-color="#0ca7d5"/><stop offset="1" stop-color="#0ea3d9"/></linearGradient><linearGradient id="l72" gradientUnits="userSpaceOnUse" x1="0" y1="411" x2="0" y2="454"><stop offset="0" stop-color="#24c758"/><stop offset="0.0909" stop-color="#16c85f"/><stop offset="0.182" stop-color="#11c76c"/><stop offset="0.273" stop-color="#12c67c"/><stop offset="0.364" stop-color="#11c48c"/><stop offset="0.455" stop-color="#0fc09b"/><stop offset="0.545" stop-color="#0dbca9"/><stop offset="0.636" stop-color="#0cb8b5"/><stop offset="0.727" stop-color="#0ab1c4"/><stop offset="0.818" stop-color="#0ca9d3"/><stop offset="0.909" stop-color="#0f9fde"/><stop offset="1" stop-color="#119ce2"/></linearGradient><linearGradient id="l73" gradientUnits="userSpaceOnUse" x1="0" y1="409" x2="0" y2="455"><stop offset="0" stop-color="#26c756"/><stop offset="0.0833" stop-color="#21c759"/><stop offset="0.167" stop-color="#10c862"/><stop offset="0.25" stop-color="#11c76f"/><stop offset="0.333" stop-color="#12c681"/><stop offset="0.417" stop-color="#10c390"/><stop offset="0.5" stop-color="#0fbfa0"/><stop offset="0.583" stop-color="#0dbaaf"/><stop offset="0.667" stop-color="#0bb6bc"/><stop offset="0.75" stop-color="#0baccd"/><stop offset="0.833" stop-color="#0fa1dc"/><stop offset="0.917" stop-color="#1395e8"/><stop offset="1" stop-color="#1592e9"/></linearGradient><linearGradient id="l74" gradientUnits="userSpaceOnUse" x1="0" y1="408" x2="0" y2="455"><stop offset="0" stop-color="#28c755"/><stop offset="0.0833" stop-color="#25c757"/><stop offset="0.167" stop-color="#16c85f"/><stop offset="0.25" stop-color="#10c869"/><stop offset="0.333" stop-color="#12c67b"/><stop offset="0.417" stop-color="#11c48c"/><stop offset="0.5" stop-color="#0fc09d"/><stop offset="0.583" stop-color="#0dbbae"/><stop offset="0.667" stop-color="#0ab5bd"/><stop offset="0.75" stop-color="#0cabcf"/><stop offset="0.833" stop-color="#109de0"/><stop offset="0.917" stop-color="#188ded"/><stop offset="1" stop-color="#1a88ef"/></linearGradient><linearGradient id="l75" gradientUnits="userSpaceOnUse" x1="0" y1="407" x2="0" y2="456"><stop offset="0" stop-color="#28c755"/><stop offset="0.0833" stop-color="#26c756"/><stop offset="0.167" stop-color="#16c85f"/><stop offset="0.25" stop-color="#10c869"/><stop offset="0.333" stop-color="#12c67b"/><stop offset="0.417" stop-color="#11c48d"/><stop offset="0.5" stop-color="#0fbf9f"/><stop offset="0.583" stop-color="#0cbab0"/><stop offset="0.667" stop-color="#0ab4c0"/><stop offset="0.75" stop-color="#0ca8d4"/><stop offset="0.833" stop-color="#1298e6"/><stop offset="0.917" stop-color="#1c83f2"/><stop offset="1" stop-color="#207ef3"/></linearGradient><linearGradient id="l76" gradientUnits="userSpaceOnUse" x1="0" y1="406" x2="0" y2="457"><stop offset="0" stop-color="#27c756"/><stop offset="0.0769" stop-color="#22c759"/><stop offset="0.154" stop-color="#15c860"/><stop offset="0.231" stop-color="#11c76a"/><stop offset="0.308" stop-color="#11c779"/><stop offset="0.385" stop-color="#11c48a"/><stop offset="0.462" stop-color="#0fc19a"/><stop offset="0.538" stop-color="#0dbcaa"/><stop offset="0.615" stop-color="#0bb7b9"/><stop offset="0.692" stop-color="#0bafc8"/><stop offset="0.769" stop-color="#0ea3da"/><stop offset="0.846" stop-color="#1591ea"/><stop offset="0.923" stop-color="#207ef3"/><stop offset="1" stop-color="#2774f5"/></linearGradient><linearGradient id="l77" gradientUnits="userSpaceOnUse" x1="0" y1="404" x2="0" y2="458"><stop offset="0" stop-color="#2ac755"/><stop offset="0.0714" stop-color="#21c759"/><stop offset="0.143" stop-color="#17c85e"/><stop offset="0.214" stop-color="#10c869"/><stop offset="0.286" stop-color="#11c775"/><stop offset="0.357" stop-color="#12c585"/><stop offset="0.429" stop-color="#10c295"/><stop offset="0.5" stop-color="#0ebea4"/><stop offset="0.571" stop-color="#0cb9b1"/><stop offset="0.643" stop-color="#0ab5be"/><stop offset="0.714" stop-color="#0bacce"/><stop offset="0.786" stop-color="#109edf"/><stop offset="0.857" stop-color="#198bee"/><stop offset="0.929" stop-color="#2774f5"/><stop offset="1" stop-color="#2f6af6"/></linearGradient><linearGradient id="l78" gradientUnits="userSpaceOnUse" x1="0" y1="403" x2="0" y2="459"><stop offset="0" stop-color="#2ac755"/><stop offset="0.0714" stop-color="#20c75a"/><stop offset="0.143" stop-color="#14c860"/><stop offset="0.214" stop-color="#11c76c"/><stop offset="0.286" stop-color="#11c77a"/><stop offset="0.357" stop-color="#11c489"/><stop offset="0.429" stop-color="#0fc199"/><stop offset="0.5" stop-color="#0ebda8"/><stop offset="0.571" stop-color="#0cb8b4"/><stop offset="0.643" stop-color="#0ab4c0"/><stop offset="0.714" stop-color="#0caad0"/><stop offset="0.786" stop-color="#109ce1"/><stop offset="0.857" stop-color="#1b86f1"/><stop offset="0.929" stop-color="#3167f5"/><stop offset="1" stop-color="#375ff3"/></linearGradient><linearGradient id="l79" gradientUnits="userSpaceOnUse" x1="0" y1="401" x2="0" y2="460"><stop offset="0" stop-color="#29c755"/><stop offset="0.0667" stop-color="#25c757"/><stop offset="0.133" stop-color="#18c85e"/><stop offset="0.2" stop-color="#10c866"/><stop offset="0.267" stop-color="#11c774"/><stop offset="0.333" stop-color="#12c681"/><stop offset="0.4" stop-color="#10c390"/><stop offset="0.467" stop-color="#0fbf9f"/><stop offset="0.533" stop-color="#0dbbac"/><stop offset="0.6" stop-color="#0bb7b8"/><stop offset="0.667" stop-color="#0ab2c3"/><stop offset="0.733" stop-color="#0da6d6"/><stop offset="0.8" stop-color="#1495e8"/><stop offset="0.867" stop-color="#237af4"/><stop offset="0.933" stop-color="#3e56f1"/><stop offset="1" stop-color="#4152f0"/></linearGradient><linearGradient id="l80" gradientUnits="userSpaceOnUse" x1="0" y1="400" x2="0" y2="461"><stop offset="0" stop-color="#29c755"/><stop offset="0.0667" stop-color="#26c756"/><stop offset="0.133" stop-color="#1bc85c"/><stop offset="0.2" stop-color="#10c864"/><stop offset="0.267" stop-color="#11c770"/><stop offset="0.333" stop-color="#12c67d"/><stop offset="0.4" stop-color="#11c48c"/><stop offset="0.467" stop-color="#0fc09b"/><stop offset="0.533" stop-color="#0dbda9"/><stop offset="0.6" stop-color="#0cb8b5"/><stop offset="0.667" stop-color="#0ab2c3"/><stop offset="0.733" stop-color="#0ea3d9"/><stop offset="0.8" stop-color="#178dec"/><stop offset="0.867" stop-color="#2c6ef6"/><stop offset="0.933" stop-color="#434eee"/><stop offset="1" stop-color="#4644e9"/></linearGradient><linearGradient id="l81" gradientUnits="userSpaceOnUse" x1="0" y1="398" x2="0" y2="462"><stop offset="0" stop-color="#2ac755"/><stop offset="0.0625" stop-color="#26c756"/><stop offset="0.125" stop-color="#20c75a"/><stop offset="0.188" stop-color="#17c85f"/><stop offset="0.25" stop-color="#10c868"/><stop offset="0.312" stop-color="#11c773"/><stop offset="0.375" stop-color="#12c681"/><stop offset="0.438" stop-color="#11c38f"/><stop offset="0.5" stop-color="#0fc09d"/><stop offset="0.562" stop-color="#0dbcaa"/><stop offset="0.625" stop-color="#0bb8b6"/><stop offset="0.688" stop-color="#0baeca"/><stop offset="0.75" stop-color="#119ce2"/><stop offset="0.812" stop-color="#1e81f3"/><stop offset="0.875" stop-color="#395cf2"/><stop offset="0.938" stop-color="#4643e8"/><stop offset="1" stop-color="#4739de"/></linearGradient><linearGradient id="l82" gradientUnits="userSpaceOnUse" x1="0" y1="397" x2="0" y2="463"><stop offset="0" stop-color="#2ac755"/><stop offset="0.0625" stop-color="#26c757"/><stop offset="0.125" stop-color="#20c75a"/><stop offset="0.188" stop-color="#19c85d"/><stop offset="0.25" stop-color="#10c865"/><stop offset="0.312" stop-color="#11c770"/><stop offset="0.375" stop-color="#12c67d"/><stop offset="0.438" stop-color="#11c48b"/><stop offset="0.5" stop-color="#0fc199"/><stop offset="0.562" stop-color="#0ebda8"/><stop offset="0.625" stop-color="#0cb9b4"/><stop offset="0.688" stop-color="#0badcc"/><stop offset="0.75" stop-color="#1297e6"/><stop offset="0.812" stop-color="#2676f4"/><stop offset="0.875" stop-color="#424fef"/><stop offset="0.938" stop-color="#4738dc"/><stop offset="1" stop-color="#4630ce"/></linearGradient><linearGradient id="l83" gradientUnits="userSpaceOnUse" x1="0" y1="395" x2="0" y2="465"><stop offset="0" stop-color="#29c755"/><stop offset="0.0556" stop-color="#28c755"/><stop offset="0.111" stop-color="#23c758"/><stop offset="0.167" stop-color="#1dc75b"/><stop offset="0.222" stop-color="#16c85f"/><stop offset="0.278" stop-color="#10c867"/><stop offset="0.333" stop-color="#11c770"/><stop offset="0.389" stop-color="#12c67c"/><stop offset="0.444" stop-color="#11c489"/><stop offset="0.5" stop-color="#10c295"/><stop offset="0.556" stop-color="#0ebea4"/><stop offset="0.611" stop-color="#0cbab0"/><stop offset="0.667" stop-color="#0bb1c5"/><stop offset="0.722" stop-color="#109ce1"/><stop offset="0.778" stop-color="#217ef3"/><stop offset="0.833" stop-color="#3d58f1"/><stop offset="0.889" stop-color="#483be0"/><stop offset="0.944" stop-color="#422bbc"/><stop offset="1" stop-color="#422bbb"/></linearGradient><linearGradient id="l84" gradientUnits="userSpaceOnUse" x1="0" y1="394" x2="0" y2="466"><stop offset="0" stop-color="#29c755"/><stop offset="0.0556" stop-color="#28c755"/><stop offset="0.111" stop-color="#23c758"/><stop offset="0.167" stop-color="#1dc75b"/><stop offset="0.222" stop-color="#16c85f"/><stop offset="0.278" stop-color="#10c867"/><stop offset="0.333" stop-color="#11c770"/><stop offset="0.389" stop-color="#12c67c"/><stop offset="0.444" stop-color="#11c489"/><stop offset="0.5" stop-color="#10c295"/><stop offset="0.556" stop-color="#0ebea4"/><stop offset="0.611" stop-color="#0cbab0"/><stop offset="0.667" stop-color="#0bb0c6"/><stop offset="0.722" stop-color="#109ce1"/><stop offset="0.778" stop-color="#207ef3"/><stop offset="0.833" stop-color="#3d57f1"/><stop offset="0.889" stop-color="#473adf"/><stop offset="0.944" stop-color="#432dc1"/><stop offset="1" stop-color="#422bbb"/></linearGradient><linearGradient id="l85" gradientUnits="userSpaceOnUse" x1="0" y1="392" x2="0" y2="467"><stop offset="0" stop-color="#2ac755"/><stop offset="0.0526" stop-color="#28c755"/><stop offset="0.105" stop-color="#24c757"/><stop offset="0.158" stop-color="#1fc75a"/><stop offset="0.211" stop-color="#18c85e"/><stop offset="0.263" stop-color="#10c863"/><stop offset="0.316" stop-color="#11c76c"/><stop offset="0.368" stop-color="#11c775"/><stop offset="0.421" stop-color="#12c682"/><stop offset="0.474" stop-color="#11c38e"/><stop offset="0.526" stop-color="#0fc09a"/><stop offset="0.579" stop-color="#0ebda8"/><stop offset="0.632" stop-color="#0cb8b4"/><stop offset="0.684" stop-color="#0baccd"/><stop offset="0.737" stop-color="#1298e6"/><stop offset="0.789" stop-color="#2578f4"/><stop offset="0.842" stop-color="#4152f0"/><stop offset="0.895" stop-color="#4738dc"/><stop offset="0.947" stop-color="#442dc3"/><stop offset="1" stop-color="#412ab8"/></linearGradient><linearGradient id="l86" gradientUnits="userSpaceOnUse" x1="0" y1="390" x2="0" y2="469"><stop offset="0" stop-color="#2ac755"/><stop offset="0.05" stop-color="#29c755"/><stop offset="0.1" stop-color="#26c756"/><stop offset="0.15" stop-color="#21c759"/><stop offset="0.2" stop-color="#1ac85d"/><stop offset="0.25" stop-color="#13c861"/><stop offset="0.3" stop-color="#10c869"/><stop offset="0.35" stop-color="#11c771"/><stop offset="0.4" stop-color="#12c67b"/><stop offset="0.45" stop-color="#11c588"/><stop offset="0.5" stop-color="#10c294"/><stop offset="0.55" stop-color="#0ebfa1"/><stop offset="0.6" stop-color="#0dbbae"/><stop offset="0.65" stop-color="#0ab4c0"/><stop offset="0.7" stop-color="#0da7d6"/><stop offset="0.75" stop-color="#178ded"/><stop offset="0.8" stop-color="#2d6cf6"/><stop offset="0.85" stop-color="#4548eb"/><stop offset="0.9" stop-color="#4632d0"/><stop offset="0.95" stop-color="#432cbf"/><stop offset="1" stop-color="#412ab7"/></linearGradient><linearGradient id="l87" gradientUnits="userSpaceOnUse" x1="0" y1="389" x2="0" y2="471"><stop offset="0" stop-color="#2ac755"/><stop offset="0.05" stop-color="#29c755"/><stop offset="0.1" stop-color="#26c757"/><stop offset="0.15" stop-color="#20c759"/><stop offset="0.2" stop-color="#1ac85d"/><stop offset="0.25" stop-color="#11c861"/><stop offset="0.3" stop-color="#10c869"/><stop offset="0.35" stop-color="#11c772"/><stop offset="0.4" stop-color="#12c67d"/><stop offset="0.45" stop-color="#11c489"/><stop offset="0.5" stop-color="#10c295"/><stop offset="0.55" stop-color="#0ebfa2"/><stop offset="0.6" stop-color="#0cbab0"/><stop offset="0.65" stop-color="#0ab2c3"/><stop offset="0.7" stop-color="#0ea3d9"/><stop offset="0.75" stop-color="#1a88ef"/><stop offset="0.8" stop-color="#3364f4"/><stop offset="0.85" stop-color="#4742e8"/><stop offset="0.9" stop-color="#4630cd"/><stop offset="0.95" stop-color="#412ab6"/><stop offset="1" stop-color="#412ab6"/></linearGradient><linearGradient id="l88" gradientUnits="userSpaceOnUse" x1="0" y1="387" x2="0" y2="472"><stop offset="0" stop-color="#2ac755"/><stop offset="0.0476" stop-color="#2ac755"/><stop offset="0.0952" stop-color="#27c756"/><stop offset="0.143" stop-color="#22c758"/><stop offset="0.19" stop-color="#1dc75b"/><stop offset="0.238" stop-color="#15c860"/><stop offset="0.286" stop-color="#10c866"/><stop offset="0.333" stop-color="#11c76e"/><stop offset="0.381" stop-color="#11c776"/><stop offset="0.429" stop-color="#12c682"/><stop offset="0.476" stop-color="#11c38e"/><stop offset="0.524" stop-color="#0fc19a"/><stop offset="0.571" stop-color="#0ebda6"/><stop offset="0.619" stop-color="#0cb8b5"/><stop offset="0.667" stop-color="#0bb0c7"/><stop offset="0.714" stop-color="#0f9fde"/><stop offset="0.762" stop-color="#1c84f2"/><stop offset="0.81" stop-color="#375ef3"/><stop offset="0.857" stop-color="#483ee5"/><stop offset="0.905" stop-color="#452fca"/><stop offset="0.952" stop-color="#4129b5"/><stop offset="1" stop-color="#4129b5"/></linearGradient><linearGradient id="l89" gradientUnits="userSpaceOnUse" x1="0" y1="386" x2="0" y2="472"><stop offset="0" stop-color="#2ac755"/><stop offset="0.0455" stop-color="#2ac755"/><stop offset="0.0909" stop-color="#28c755"/><stop offset="0.136" stop-color="#23c758"/><stop offset="0.182" stop-color="#1ec75b"/><stop offset="0.227" stop-color="#17c85e"/><stop offset="0.273" stop-color="#10c864"/><stop offset="0.318" stop-color="#11c76b"/><stop offset="0.364" stop-color="#11c773"/><stop offset="0.409" stop-color="#12c67c"/><stop offset="0.455" stop-color="#11c587"/><stop offset="0.5" stop-color="#10c292"/><stop offset="0.545" stop-color="#0fc09d"/><stop offset="0.591" stop-color="#0dbcab"/><stop offset="0.636" stop-color="#0bb6b9"/><stop offset="0.682" stop-color="#0bb0c7"/><stop offset="0.727" stop-color="#109ee0"/><stop offset="0.773" stop-color="#1c84f2"/><stop offset="0.818" stop-color="#375ff3"/><stop offset="0.864" stop-color="#483fe6"/><stop offset="0.909" stop-color="#452fcb"/><stop offset="0.955" stop-color="#4129b4"/><stop offset="1" stop-color="#4129b4"/></linearGradient><linearGradient id="l90" gradientUnits="userSpaceOnUse" x1="0" y1="391" x2="0" y2="472"><stop offset="0" stop-color="#26c756"/><stop offset="0.05" stop-color="#24c758"/><stop offset="0.1" stop-color="#1fc75a"/><stop offset="0.15" stop-color="#1ac85d"/><stop offset="0.2" stop-color="#13c861"/><stop offset="0.25" stop-color="#10c867"/><stop offset="0.3" stop-color="#11c76f"/><stop offset="0.35" stop-color="#11c777"/><stop offset="0.4" stop-color="#12c683"/><stop offset="0.45" stop-color="#11c38e"/><stop offset="0.5" stop-color="#0fc199"/><stop offset="0.55" stop-color="#0ebea6"/><stop offset="0.6" stop-color="#0cb8b5"/><stop offset="0.65" stop-color="#0ab2c3"/><stop offset="0.7" stop-color="#0ea4d9"/><stop offset="0.75" stop-color="#188bee"/><stop offset="0.8" stop-color="#3068f5"/><stop offset="0.85" stop-color="#4644e9"/><stop offset="0.9" stop-color="#4631ce"/><stop offset="0.95" stop-color="#4029b3"/><stop offset="1" stop-color="#4029b3"/></linearGradient><linearGradient id="l91" gradientUnits="userSpaceOnUse" x1="0" y1="400" x2="0" y2="471"><stop offset="0" stop-color="#1ac85d"/><stop offset="0.0556" stop-color="#17c85e"/><stop offset="0.111" stop-color="#11c861"/><stop offset="0.167" stop-color="#10c867"/><stop offset="0.222" stop-color="#11c76f"/><stop offset="0.278" stop-color="#11c777"/><stop offset="0.333" stop-color="#12c684"/><stop offset="0.389" stop-color="#11c38e"/><stop offset="0.444" stop-color="#0fc199"/><stop offset="0.5" stop-color="#0ebea5"/><stop offset="0.556" stop-color="#0cb8b4"/><stop offset="0.611" stop-color="#0ab3c2"/><stop offset="0.667" stop-color="#0da6d6"/><stop offset="0.722" stop-color="#178eec"/><stop offset="0.778" stop-color="#2c6df6"/><stop offset="0.833" stop-color="#4449ec"/><stop offset="0.889" stop-color="#4633d3"/><stop offset="0.944" stop-color="#4029b3"/><stop offset="1" stop-color="#4029b3"/></linearGradient><linearGradient id="l92" gradientUnits="userSpaceOnUse" x1="0" y1="413" x2="0" y2="467"><stop offset="0" stop-color="#10c869"/><stop offset="0.0714" stop-color="#11c771"/><stop offset="0.143" stop-color="#12c67a"/><stop offset="0.214" stop-color="#12c586"/><stop offset="0.286" stop-color="#10c391"/><stop offset="0.357" stop-color="#0fc09c"/><stop offset="0.429" stop-color="#0ebda8"/><stop offset="0.5" stop-color="#0bb8b6"/><stop offset="0.571" stop-color="#0ab2c4"/><stop offset="0.643" stop-color="#0ea4d9"/><stop offset="0.714" stop-color="#188ced"/><stop offset="0.786" stop-color="#2d6bf6"/><stop offset="0.857" stop-color="#4448eb"/><stop offset="0.929" stop-color="#4633d2"/><stop offset="1" stop-color="#4029b3"/></linearGradient><linearGradient id="l93" gradientUnits="userSpaceOnUse" x1="0" y1="433" x2="0" y2="460"><stop offset="0" stop-color="#0fc09e"/><stop offset="0.143" stop-color="#0dbcab"/><stop offset="0.286" stop-color="#0bb7b9"/><stop offset="0.429" stop-color="#0bb1c6"/><stop offset="0.571" stop-color="#0fa0dd"/><stop offset="0.714" stop-color="#1a87f0"/><stop offset="0.857" stop-color="#3364f4"/><stop offset="1" stop-color="#4643e8"/></linearGradient></defs><g clip-path="url(#csil)"><g clip-path="url(#cL)"><rect x="95" y="402" width="3.5" height="33" fill="url(#l0)"/><rect x="98" y="402" width="3.5" height="46" fill="url(#l1)"/><rect x="101" y="402" width="3.5" height="53" fill="url(#l2)"/><rect x="104" y="403" width="3.5" height="57" fill="url(#l3)"/><rect x="107" y="403" width="3.5" height="62" fill="url(#l4)"/><rect x="110" y="403" width="3.5" height="65" fill="url(#l5)"/><rect x="113" y="403" width="3.5" height="68" fill="url(#l6)"/><rect x="116" y="403" width="3.5" height="70" fill="url(#l7)"/><rect x="119" y="403" width="3.5" height="72" fill="url(#l8)"/><rect x="122" y="403" width="3.5" height="74" fill="url(#l9)"/><rect x="125" y="403" width="3.5" height="75" fill="url(#l10)"/><rect x="128" y="403" width="3.5" height="76" fill="url(#l11)"/><rect x="131" y="404" width="3.5" height="76" fill="url(#l12)"/><rect x="134" y="404" width="3.5" height="76" fill="url(#l13)"/><rect x="137" y="404" width="3.5" height="77" fill="url(#l14)"/><rect x="140" y="404" width="3.5" height="77" fill="url(#l15)"/><rect x="143" y="405" width="3.5" height="76" fill="url(#l16)"/><rect x="146" y="405" width="3.5" height="75" fill="url(#l17)"/><rect x="149" y="406" width="3.5" height="74" fill="url(#l18)"/><rect x="152" y="406" width="3.5" height="73" fill="url(#l19)"/><rect x="155" y="407" width="3.5" height="71" fill="url(#l20)"/><rect x="158" y="407" width="3.5" height="70" fill="url(#l21)"/><rect x="161" y="408" width="3.5" height="68" fill="url(#l22)"/><rect x="164" y="408" width="3.5" height="67" fill="url(#l23)"/><rect x="167" y="409" width="3.5" height="64" fill="url(#l24)"/><rect x="170" y="409" width="3.5" height="62" fill="url(#l25)"/><rect x="173" y="409" width="3.5" height="60" fill="url(#l26)"/><rect x="176" y="410" width="3.5" height="57" fill="url(#l27)"/><rect x="179" y="410" width="3.5" height="55" fill="url(#l28)"/><rect x="182" y="411" width="3.5" height="52" fill="url(#l29)"/><rect x="185" y="411" width="3.5" height="50" fill="url(#l30)"/><rect x="188" y="412" width="3.5" height="48" fill="url(#l31)"/><rect x="191" y="412" width="3.5" height="46" fill="url(#l32)"/><rect x="194" y="413" width="3.5" height="44" fill="url(#l33)"/><rect x="197" y="413" width="3.5" height="43" fill="url(#l34)"/><rect x="200" y="414" width="3.5" height="41" fill="url(#l35)"/><rect x="203" y="414" width="3.5" height="40" fill="url(#l36)"/><rect x="206" y="415" width="3.5" height="38" fill="url(#l37)"/><rect x="209" y="416" width="3.5" height="37" fill="url(#l38)"/><rect x="212" y="416" width="3.5" height="36" fill="url(#l39)"/><rect x="215" y="417" width="3.5" height="35" fill="url(#l40)"/><rect x="218" y="417" width="3.5" height="34" fill="url(#l41)"/><rect x="221" y="418" width="3.5" height="33" fill="url(#l42)"/><rect x="224" y="419" width="3.5" height="32" fill="url(#l43)"/><rect x="227" y="419" width="3.5" height="32" fill="url(#l44)"/><rect x="230" y="419" width="3.5" height="31" fill="url(#l45)"/><rect x="233" y="420" width="3.5" height="30" fill="url(#l46)"/><rect x="236" y="420" width="3.5" height="30" fill="url(#l47)"/><rect x="239" y="420" width="3.5" height="30" fill="url(#l48)"/><rect x="242" y="421" width="3.5" height="29" fill="url(#l49)"/><rect x="245" y="421" width="3.5" height="29" fill="url(#l50)"/><rect x="248" y="421" width="3.5" height="29" fill="url(#l51)"/><rect x="251" y="421" width="3.5" height="29" fill="url(#l52)"/><rect x="254" y="421" width="3.5" height="29" fill="url(#l53)"/><rect x="257" y="420" width="3.5" height="30" fill="url(#l54)"/><rect x="260" y="420" width="3.5" height="30" fill="url(#l55)"/><rect x="263" y="419" width="3.5" height="31" fill="url(#l56)"/><rect x="266" y="419" width="3.5" height="31" fill="url(#l57)"/><rect x="269" y="418" width="3.5" height="32" fill="url(#l58)"/><rect x="272" y="418" width="3.5" height="32" fill="url(#l59)"/><rect x="275" y="417" width="3.5" height="33" fill="url(#l60)"/><rect x="278" y="415" width="3.5" height="36" fill="url(#l61)"/><rect x="281" y="413" width="3.5" height="38" fill="url(#l62)"/><rect x="284" y="411" width="3.5" height="40" fill="url(#l63)"/><rect x="287" y="410" width="3.5" height="41" fill="url(#l64)"/><rect x="290" y="408" width="3.5" height="43" fill="url(#l65)"/><rect x="293" y="406" width="3.5" height="45" fill="url(#l66)"/><rect x="296" y="404" width="3.5" height="48" fill="url(#l67)"/><rect x="299" y="406" width="3.5" height="46" fill="url(#l68)"/><rect x="302" y="407" width="3.5" height="45" fill="url(#l69)"/><rect x="305" y="409" width="3.5" height="44" fill="url(#l70)"/><rect x="308" y="411" width="3.5" height="42" fill="url(#l71)"/><rect x="311" y="411" width="3.5" height="43" fill="url(#l72)"/><rect x="314" y="409" width="3.5" height="46" fill="url(#l73)"/><rect x="317" y="408" width="3.5" height="47" fill="url(#l74)"/><rect x="320" y="407" width="3.5" height="49" fill="url(#l75)"/><rect x="323" y="406" width="3.5" height="51" fill="url(#l76)"/><rect x="326" y="404" width="3.5" height="54" fill="url(#l77)"/><rect x="329" y="403" width="3.5" height="56" fill="url(#l78)"/><rect x="332" y="401" width="3.5" height="59" fill="url(#l79)"/><rect x="335" y="400" width="3.5" height="61" fill="url(#l80)"/><rect x="338" y="398" width="3.5" height="64" fill="url(#l81)"/><rect x="341" y="397" width="3.5" height="66" fill="url(#l82)"/><rect x="344" y="395" width="3.5" height="70" fill="url(#l83)"/><rect x="347" y="394" width="3.5" height="72" fill="url(#l84)"/><rect x="350" y="392" width="3.5" height="75" fill="url(#l85)"/><rect x="353" y="390" width="3.5" height="79" fill="url(#l86)"/><rect x="356" y="389" width="3.5" height="82" fill="url(#l87)"/><rect x="359" y="387" width="3.5" height="85" fill="url(#l88)"/><rect x="362" y="386" width="3.5" height="86" fill="url(#l89)"/><rect x="365" y="391" width="3.5" height="81" fill="url(#l90)"/><rect x="368" y="400" width="3.5" height="71" fill="url(#l91)"/><rect x="371" y="413" width="3.5" height="54" fill="url(#l92)"/><rect x="374" y="433" width="3.5" height="27" fill="url(#l93)"/></g><g clip-path="url(#cU)"><rect x="95" y="379" width="3.5" height="28" fill="url(#u0)"/><rect x="98" y="372" width="3.5" height="35" fill="url(#u1)"/><rect x="101" y="370" width="3.5" height="37" fill="url(#u2)"/><rect x="104" y="370" width="3.5" height="38" fill="url(#u3)"/><rect x="107" y="371" width="3.5" height="37" fill="url(#u4)"/><rect x="110" y="371" width="3.5" height="37" fill="url(#u5)"/><rect x="113" y="371" width="3.5" height="37" fill="url(#u6)"/><rect x="116" y="371" width="3.5" height="37" fill="url(#u7)"/><rect x="119" y="370" width="3.5" height="38" fill="url(#u8)"/><rect x="122" y="369" width="3.5" height="39" fill="url(#u9)"/><rect x="125" y="368" width="3.5" height="40" fill="url(#u10)"/><rect x="128" y="367" width="3.5" height="41" fill="url(#u11)"/><rect x="131" y="365" width="3.5" height="44" fill="url(#u12)"/><rect x="134" y="364" width="3.5" height="45" fill="url(#u13)"/><rect x="137" y="362" width="3.5" height="47" fill="url(#u14)"/><rect x="140" y="360" width="3.5" height="49" fill="url(#u15)"/><rect x="143" y="358" width="3.5" height="52" fill="url(#u16)"/><rect x="146" y="356" width="3.5" height="54" fill="url(#u17)"/><rect x="149" y="354" width="3.5" height="57" fill="url(#u18)"/><rect x="152" y="352" width="3.5" height="59" fill="url(#u19)"/><rect x="155" y="351" width="3.5" height="61" fill="url(#u20)"/><rect x="158" y="349" width="3.5" height="63" fill="url(#u21)"/><rect x="161" y="347" width="3.5" height="66" fill="url(#u22)"/><rect x="164" y="345" width="3.5" height="68" fill="url(#u23)"/><rect x="167" y="344" width="3.5" height="70" fill="url(#u24)"/><rect x="170" y="342" width="3.5" height="72" fill="url(#u25)"/><rect x="173" y="340" width="3.5" height="74" fill="url(#u26)"/><rect x="176" y="338" width="3.5" height="77" fill="url(#u27)"/><rect x="179" y="336" width="3.5" height="79" fill="url(#u28)"/><rect x="182" y="334" width="3.5" height="82" fill="url(#u29)"/><rect x="185" y="333" width="3.5" height="83" fill="url(#u30)"/><rect x="188" y="331" width="3.5" height="86" fill="url(#u31)"/><rect x="191" y="330" width="3.5" height="87" fill="url(#u32)"/><rect x="194" y="328" width="3.5" height="90" fill="url(#u33)"/><rect x="197" y="327" width="3.5" height="91" fill="url(#u34)"/><rect x="200" y="326" width="3.5" height="93" fill="url(#u35)"/><rect x="203" y="325" width="3.5" height="94" fill="url(#u36)"/><rect x="206" y="325" width="3.5" height="95" fill="url(#u37)"/><rect x="209" y="324" width="3.5" height="97" fill="url(#u38)"/><rect x="212" y="324" width="3.5" height="97" fill="url(#u39)"/><rect x="215" y="324" width="3.5" height="98" fill="url(#u40)"/><rect x="218" y="324" width="3.5" height="98" fill="url(#u41)"/><rect x="221" y="324" width="3.5" height="99" fill="url(#u42)"/><rect x="224" y="324" width="3.5" height="100" fill="url(#u43)"/><rect x="227" y="324" width="3.5" height="100" fill="url(#u44)"/><rect x="230" y="324" width="3.5" height="100" fill="url(#u45)"/><rect x="233" y="324" width="3.5" height="101" fill="url(#u46)"/><rect x="236" y="324" width="3.5" height="101" fill="url(#u47)"/><rect x="239" y="324" width="3.5" height="101" fill="url(#u48)"/><rect x="242" y="324" width="3.5" height="102" fill="url(#u49)"/><rect x="245" y="324" width="3.5" height="102" fill="url(#u50)"/><rect x="248" y="324" width="3.5" height="102" fill="url(#u51)"/><rect x="251" y="324" width="3.5" height="102" fill="url(#u52)"/><rect x="254" y="324" width="3.5" height="102" fill="url(#u53)"/><rect x="257" y="324" width="3.5" height="101" fill="url(#u54)"/><rect x="260" y="325" width="3.5" height="100" fill="url(#u55)"/><rect x="263" y="325" width="3.5" height="99" fill="url(#u56)"/><rect x="266" y="326" width="3.5" height="98" fill="url(#u57)"/><rect x="269" y="327" width="3.5" height="96" fill="url(#u58)"/><rect x="272" y="328" width="3.5" height="95" fill="url(#u59)"/><rect x="275" y="330" width="3.5" height="92" fill="url(#u60)"/><rect x="278" y="331" width="3.5" height="89" fill="url(#u61)"/><rect x="281" y="333" width="3.5" height="85" fill="url(#u62)"/><rect x="284" y="335" width="3.5" height="81" fill="url(#u63)"/><rect x="287" y="336" width="3.5" height="79" fill="url(#u64)"/><rect x="290" y="338" width="3.5" height="75" fill="url(#u65)"/><rect x="293" y="340" width="3.5" height="71" fill="url(#u66)"/><rect x="296" y="342" width="3.5" height="67" fill="url(#u67)"/><rect x="299" y="344" width="3.5" height="67" fill="url(#u68)"/><rect x="302" y="346" width="3.5" height="66" fill="url(#u69)"/><rect x="305" y="348" width="3.5" height="66" fill="url(#u70)"/><rect x="308" y="350" width="3.5" height="66" fill="url(#u71)"/><rect x="311" y="352" width="3.5" height="64" fill="url(#u72)"/><rect x="314" y="354" width="3.5" height="60" fill="url(#u73)"/><rect x="317" y="356" width="3.5" height="57" fill="url(#u74)"/><rect x="320" y="359" width="3.5" height="53" fill="url(#u75)"/><rect x="323" y="361" width="3.5" height="50" fill="url(#u76)"/><rect x="326" y="362" width="3.5" height="47" fill="url(#u77)"/><rect x="329" y="362" width="3.5" height="46" fill="url(#u78)"/><rect x="332" y="361" width="3.5" height="45" fill="url(#u79)"/><rect x="335" y="362" width="3.5" height="43" fill="url(#u80)"/><rect x="338" y="362" width="3.5" height="41" fill="url(#u81)"/><rect x="341" y="362" width="3.5" height="40" fill="url(#u82)"/><rect x="344" y="363" width="3.5" height="37" fill="url(#u83)"/><rect x="347" y="365" width="3.5" height="34" fill="url(#u84)"/><rect x="350" y="367" width="3.5" height="30" fill="url(#u85)"/><rect x="353" y="370" width="3.5" height="25" fill="url(#u86)"/><rect x="356" y="374" width="3.5" height="20" fill="url(#u87)"/><rect x="359" y="378" width="3.5" height="14" fill="url(#u88)"/><rect x="362" y="384" width="3.5" height="7" fill="url(#u89)"/></g><defs><linearGradient id="garch" gradientUnits="userSpaceOnUse" x1="0" y1="396" x2="0" y2="470"><stop offset="0" stop-color="#0dbbae"/><stop offset="0.32" stop-color="#0bb7b9"/><stop offset="0.53" stop-color="#0bb0c7"/><stop offset="0.73" stop-color="#0ea3da"/><stop offset="1" stop-color="#178dec"/></linearGradient></defs><path d="M150.0 474.0L160.0 462.0L175.0 448.5L190.0 436.0L205.0 424.5L220.0 413.5L235.0 405.0L250.0 399.5L262.0 397.0L270.0 396.8L278.0 397.8L288.0 401.0L298.0 405.8L310.0 412.0L322.0 420.5L334.0 430.0L345.0 440.0L352.0 448.0L356.0 456.0L345.0 459.5L340.0 459.0L333.0 456.0L327.0 450.0L317.0 438.5L300.0 432.0L285.0 428.3L270.0 424.0L255.0 426.0L238.5 429.4L234.5 433.4L215.0 433.0L198.3 432.3L192.6 441.0L175.0 455.0L160.0 467.0L150.0 478.0Z" fill="url(#garch)"/><path d="M199.0 432.6L210.0 432.4L222.0 432.6L236.0 433.0L229.0 435.6L220.0 437.6L211.0 436.8L204.0 434.8Z" fill="#2873f5"/><path d="M277.7 397.9L283.0 399.3L290.0 402.0L297.8 405.8L292.0 408.5L283.0 412.5L273.0 416.7L264.0 420.0L252.0 424.7L238.5 429.4L245.0 422.5L251.0 417.0L257.0 412.0L264.0 406.5L271.0 401.8Z" fill="#fff"/></g>
<line class="a" x1="37" y1="488" x2="37" y2="320.5"/>
<line class="a" x1="37" y1="488" x2="347" y2="499.7"/>
<line class="a" x1="347" y1="499.7" x2="433.5" y2="461"/>
<line class="a" x1="29" y1="487.7" x2="37" y2="488"/>
<text class="t" x="26.6" y="491.2" text-anchor="end" font-size="9">0</text>
<line class="a" x1="29" y1="454.2" x2="37" y2="454.5"/>
<text class="t" x="26.6" y="457.7" text-anchor="end" font-size="9">5</text>
<line class="a" x1="29" y1="420.7" x2="37" y2="421"/>
<text class="t" x="26.6" y="424.2" text-anchor="end" font-size="9">10</text>
<line class="a" x1="29" y1="387.2" x2="37" y2="387.5"/>
<text class="t" x="26.6" y="390.7" text-anchor="end" font-size="9">15</text>
<line class="a" x1="29" y1="353.7" x2="37" y2="354"/>
<text class="t" x="26.6" y="357.2" text-anchor="end" font-size="9">20</text>
<line class="a" x1="29" y1="320.2" x2="37" y2="320.5"/>
<text class="t" x="26.6" y="323.7" text-anchor="end" font-size="9">25</text>
<line class="a" x1="29.7" y1="491.3" x2="37" y2="488"/>
<text class="t" x="27.5" y="502.2" text-anchor="end" font-size="9">−0.03</text>
<line class="a" x1="81.4" y1="493.2" x2="88.7" y2="489.9"/>
<text class="t" x="79.2" y="504.2" text-anchor="end" font-size="9">−0.02</text>
<line class="a" x1="133" y1="495.2" x2="140.3" y2="491.9"/>
<text class="t" x="130.8" y="506.1" text-anchor="end" font-size="9">−0.01</text>
<line class="a" x1="184.7" y1="497.2" x2="192" y2="493.9"/>
<text class="t" x="182.5" y="508.1" text-anchor="end" font-size="9">0</text>
<line class="a" x1="236.4" y1="499.1" x2="243.7" y2="495.8"/>
<text class="t" x="234.2" y="510" text-anchor="end" font-size="9">0.01</text>
<line class="a" x1="288" y1="501.1" x2="295.3" y2="497.8"/>
<text class="t" x="285.8" y="512" text-anchor="end" font-size="9">0.02</text>
<line class="a" x1="339.7" y1="503" x2="347" y2="499.7"/>
<text class="t" x="337.5" y="513.9" text-anchor="end" font-size="9">0.03</text>
<line class="a" x1="358.7" y1="494.5" x2="366.7" y2="494.8"/>
<text class="t" x="368.2" y="504.7" text-anchor="start" font-size="9">−0.02</text>
<line class="a" x1="392.5" y1="479.3" x2="400.5" y2="479.6"/>
<text class="t" x="402" y="489.6" text-anchor="start" font-size="9">0</text>
<line class="a" x1="426.5" y1="464.1" x2="434.5" y2="464.4"/>
<text class="t" x="436" y="474.4" text-anchor="start" font-size="9">0.02</text>
<text class="t" x="221.5" y="525.2" text-anchor="middle" font-size="9">x(m)</text>
<text class="t" x="421.2" y="518.8" text-anchor="middle" font-size="9">y(m)</text>
<text class="t" x="0" y="0" font-size="9" text-anchor="middle" transform="translate(13.6,399.3) rotate(-90)">Wavefront Aberration(nm)</text>
<text class="t" x="314.3" y="349.2" text-anchor="middle" font-size="9">Initial</text>
<text class="t" x="268.3" y="455.2" text-anchor="middle" font-size="9">Optimized</text>
<linearGradient id="cbc" x1="0" y1="1" x2="0" y2="0"><stop offset="0.000" stop-color="#4030b0"/><stop offset="0.025" stop-color="#4838d0"/><stop offset="0.075" stop-color="#3060f0"/><stop offset="0.124" stop-color="#1890e0"/><stop offset="0.174" stop-color="#10a0c8"/><stop offset="0.224" stop-color="#10b0b8"/><stop offset="0.274" stop-color="#10b8b0"/><stop offset="0.323" stop-color="#10bca6"/><stop offset="0.373" stop-color="#10c098"/><stop offset="0.423" stop-color="#12c282"/><stop offset="0.473" stop-color="#22c470"/><stop offset="0.522" stop-color="#60c050"/><stop offset="0.572" stop-color="#a0c040"/><stop offset="0.622" stop-color="#c8b832"/><stop offset="0.672" stop-color="#e8ac36"/><stop offset="0.721" stop-color="#f8a838"/><stop offset="0.771" stop-color="#f9b434"/><stop offset="0.821" stop-color="#f9c430"/><stop offset="0.871" stop-color="#f6d628"/><stop offset="0.920" stop-color="#f2e620"/><stop offset="1.000" stop-color="#f8f812"/></linearGradient>
<rect x="447.6" y="282.6" width="8" height="215.8" fill="url(#cbc)" stroke="#555" stroke-width="0.5"/>
<line class="cb" x1="453.6" y1="493.7" x2="455.6" y2="493.7"/>
<text class="t" x="457.6" y="496.7" text-anchor="start" font-size="8.4">2</text>
<line class="cb" x1="453.6" y1="472.2" x2="455.6" y2="472.2"/>
<text class="t" x="457.6" y="475.2" text-anchor="start" font-size="8.4">4</text>
<line class="cb" x1="453.6" y1="450.6" x2="455.6" y2="450.6"/>
<text class="t" x="457.6" y="453.6" text-anchor="start" font-size="8.4">6</text>
<line class="cb" x1="453.6" y1="429.1" x2="455.6" y2="429.1"/>
<text class="t" x="457.6" y="432.1" text-anchor="start" font-size="8.4">8</text>
<line class="cb" x1="453.6" y1="407.6" x2="455.6" y2="407.6"/>
<text class="t" x="457.6" y="410.6" text-anchor="start" font-size="8.4">10</text>
<line class="cb" x1="453.6" y1="386.1" x2="455.6" y2="386.1"/>
<text class="t" x="457.6" y="389.1" text-anchor="start" font-size="8.4">12</text>
<line class="cb" x1="453.6" y1="364.6" x2="455.6" y2="364.6"/>
<text class="t" x="457.6" y="367.6" text-anchor="start" font-size="8.4">14</text>
<line class="cb" x1="453.6" y1="343" x2="455.6" y2="343"/>
<text class="t" x="457.6" y="346" text-anchor="start" font-size="8.4">16</text>
<line class="cb" x1="453.6" y1="321.5" x2="455.6" y2="321.5"/>
<text class="t" x="457.6" y="324.5" text-anchor="start" font-size="8.4">18</text>
<line class="cb" x1="453.6" y1="300" x2="455.6" y2="300"/>
<text class="t" x="457.6" y="303" text-anchor="start" font-size="8.4">20</text>
<text class="lbl" x="233.6" y="543" font-size="16">(<tspan font-weight="bold">c</tspan>)</text>
</svg></body></html>
